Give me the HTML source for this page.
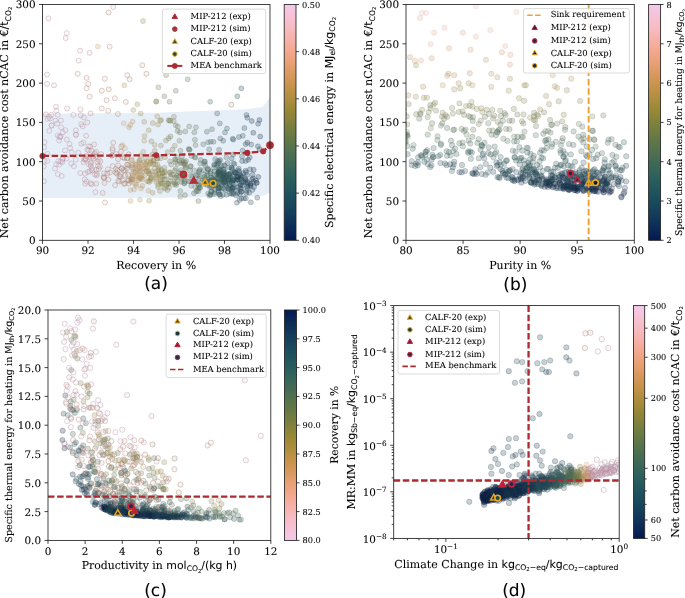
<!DOCTYPE html><html><head><meta charset="utf-8"><style>html,body{margin:0;padding:0;background:#fff;}svg{display:block} text{text-rendering:geometricPrecision;stroke:#000;stroke-width:0.22px;stroke-opacity:0.3}</style></head><body><svg width="685" height="598" viewBox="0 0 685 598"><style>.k0{fill:#294d56;fill-opacity:0.25;stroke:#294d56;stroke-opacity:0.25}.k1{fill:#657452;fill-opacity:0.25;stroke:#657452;stroke-opacity:0.25}.k2{fill:#3a5c58;fill-opacity:0.25;stroke:#3a5c58;stroke-opacity:0.25}.k3{fill:#355958;fill-opacity:0.25;stroke:#355958;stroke-opacity:0.25}.k4{fill:#6b7651;fill-opacity:0.25;stroke:#6b7651;stroke-opacity:0.25}.k5{fill:#c89c73;fill-opacity:0.12;stroke:#a17a73;stroke-opacity:0.40}.k6{fill:#516b56;fill-opacity:0.25;stroke:#516b56;stroke-opacity:0.25}.k7{fill:#737a50;fill-opacity:0.25;stroke:#737a50;stroke-opacity:0.25}.k8{fill:#e0ab96;fill-opacity:0.12;stroke:#ab8081;stroke-opacity:0.40}.k9{fill:#254854;fill-opacity:0.25;stroke:#254854;stroke-opacity:0.25}.k10{fill:#456459;fill-opacity:0.25;stroke:#456459;stroke-opacity:0.25}.k11{fill:#bb9663;fill-opacity:0.25;stroke:#bb9663;stroke-opacity:0.25}.k12{fill:#2c5158;fill-opacity:0.25;stroke:#2c5158;stroke-opacity:0.25}.k13{fill:#203f51;fill-opacity:0.25;stroke:#203f51;stroke-opacity:0.25}.k14{fill:#e4b3a8;fill-opacity:0.12;stroke:#ac8488;stroke-opacity:0.40}.k15{fill:#bb9663;fill-opacity:0.12;stroke:#9c786d;stroke-opacity:0.40}.k16{fill:#e9bcbb;fill-opacity:0.12;stroke:#ae8790;stroke-opacity:0.40}.k17{fill:#ab905a;fill-opacity:0.25;stroke:#ab905a;stroke-opacity:0.25}.k18{fill:#2f5558;fill-opacity:0.25;stroke:#2f5558;stroke-opacity:0.25}.k19{fill:#83804f;fill-opacity:0.25;stroke:#83804f;stroke-opacity:0.25}.k20{fill:#19334c;fill-opacity:0.25;stroke:#19334c;stroke-opacity:0.25}.k21{fill:#ebc8d8;fill-opacity:0.12;stroke:#af8c9b;stroke-opacity:0.40}.k22{fill:#1d394f;fill-opacity:0.25;stroke:#1d394f;stroke-opacity:0.25}.k23{fill:#e7b8b2;fill-opacity:0.12;stroke:#ad868c;stroke-opacity:0.40}.k24{fill:#eccee5;fill-opacity:0.12;stroke:#af8ea1;stroke-opacity:0.40}.k25{fill:#586d55;fill-opacity:0.25;stroke:#586d55;stroke-opacity:0.25}.k26{fill:#e2af9f;fill-opacity:0.12;stroke:#ab8285;stroke-opacity:0.40}.k27{fill:#c89c73;fill-opacity:0.25;stroke:#c89c73;stroke-opacity:0.25}.k28{fill:#7b7d4f;fill-opacity:0.25;stroke:#7b7d4f;stroke-opacity:0.25}.k29{fill:#9b8a51;fill-opacity:0.25;stroke:#9b8a51;stroke-opacity:0.25}.k30{fill:#ebc3ca;fill-opacity:0.12;stroke:#af8a96;stroke-opacity:0.40}.k31{fill:#4a6857;fill-opacity:0.25;stroke:#4a6857;stroke-opacity:0.25}.k32{fill:#dca88d;fill-opacity:0.12;stroke:#a97f7d;stroke-opacity:0.40}.k33{fill:#a38d56;fill-opacity:0.25;stroke:#a38d56;stroke-opacity:0.25}.k34{fill:#ebcbde;fill-opacity:0.12;stroke:#af8d9e;stroke-opacity:0.40}.k35{fill:#234353;fill-opacity:0.25;stroke:#234353;stroke-opacity:0.25}.k36{fill:#93874d;fill-opacity:0.25;stroke:#93874d;stroke-opacity:0.25}.k37{fill:#a38d56;fill-opacity:0.12;stroke:#927467;stroke-opacity:0.40}.k38{fill:#cfa07c;fill-opacity:0.12;stroke:#a47c77;stroke-opacity:0.40}.k39{fill:#8b844e;fill-opacity:0.25;stroke:#8b844e;stroke-opacity:0.25}.k40{fill:#5e7153;fill-opacity:0.25;stroke:#5e7153;stroke-opacity:0.25}.k41{fill:#ebc6d1;fill-opacity:0.12;stroke:#af8b99;stroke-opacity:0.40}.k42{fill:#c2996b;fill-opacity:0.25;stroke:#c2996b;stroke-opacity:0.25}.k43{fill:#ebc0c4;fill-opacity:0.12;stroke:#af8993;stroke-opacity:0.40}.k44{fill:#406058;fill-opacity:0.25;stroke:#406058;stroke-opacity:0.25}.k45{fill:#162d49;fill-opacity:0.25;stroke:#162d49;stroke-opacity:0.25}.k46{fill:#d6a484;fill-opacity:0.12;stroke:#a77e7a;stroke-opacity:0.40}.k47{fill:#c2996b;fill-opacity:0.12;stroke:#9f7970;stroke-opacity:0.40}.k48{fill:#b3925f;fill-opacity:0.25;stroke:#b3925f;stroke-opacity:0.25}.k49{fill:#cfa07c;fill-opacity:0.25;stroke:#cfa07c;stroke-opacity:0.25}.k50{fill:#93874d;fill-opacity:0.12;stroke:#8c7264;stroke-opacity:0.40}.k51{fill:#ab905a;fill-opacity:0.12;stroke:#957669;stroke-opacity:0.40}.k52{fill:#122647;fill-opacity:0.25;stroke:#122647;stroke-opacity:0.25}.k53{fill:#0e1f43;fill-opacity:0.25;stroke:#0e1f43;stroke-opacity:0.25}.k54{fill:#b3925f;fill-opacity:0.12;stroke:#99766b;stroke-opacity:0.40}.k55{fill:#1d394f;fill-opacity:0.23;stroke:#1d394f;stroke-opacity:0.23}.k56{fill:#254854;fill-opacity:0.23;stroke:#254854;stroke-opacity:0.23}.k57{fill:#19334c;fill-opacity:0.23;stroke:#19334c;stroke-opacity:0.23}.k58{fill:#203f51;fill-opacity:0.23;stroke:#203f51;stroke-opacity:0.23}.k59{fill:#234353;fill-opacity:0.23;stroke:#234353;stroke-opacity:0.23}.k60{fill:#406058;fill-opacity:0.23;stroke:#406058;stroke-opacity:0.23}.k61{fill:#7b7d4f;fill-opacity:0.23;stroke:#7b7d4f;stroke-opacity:0.23}.k62{fill:#737a50;fill-opacity:0.23;stroke:#737a50;stroke-opacity:0.23}.k63{fill:#a38d56;fill-opacity:0.23;stroke:#a38d56;stroke-opacity:0.23}.k64{fill:#162d49;fill-opacity:0.23;stroke:#162d49;stroke-opacity:0.23}.k65{fill:#294d56;fill-opacity:0.23;stroke:#294d56;stroke-opacity:0.23}.k66{fill:#e9bcbb;fill-opacity:0.23;stroke:#e9bcbb;stroke-opacity:0.23}.k67{fill:#83804f;fill-opacity:0.23;stroke:#83804f;stroke-opacity:0.23}.k68{fill:#2c5158;fill-opacity:0.23;stroke:#2c5158;stroke-opacity:0.23}.k69{fill:#6b7651;fill-opacity:0.23;stroke:#6b7651;stroke-opacity:0.23}.k70{fill:#456459;fill-opacity:0.23;stroke:#456459;stroke-opacity:0.23}.k71{fill:#0a1941;fill-opacity:0.23;stroke:#0a1941;stroke-opacity:0.23}.k72{fill:#ab905a;fill-opacity:0.23;stroke:#ab905a;stroke-opacity:0.23}.k73{fill:#3a5c58;fill-opacity:0.23;stroke:#3a5c58;stroke-opacity:0.23}.k74{fill:#e7b8b2;fill-opacity:0.23;stroke:#e7b8b2;stroke-opacity:0.23}.k75{fill:#586d55;fill-opacity:0.23;stroke:#586d55;stroke-opacity:0.23}.k76{fill:#9b8a51;fill-opacity:0.23;stroke:#9b8a51;stroke-opacity:0.23}.k77{fill:#657452;fill-opacity:0.23;stroke:#657452;stroke-opacity:0.23}.k78{fill:#2f5558;fill-opacity:0.23;stroke:#2f5558;stroke-opacity:0.23}.k79{fill:#5e7153;fill-opacity:0.23;stroke:#5e7153;stroke-opacity:0.23}.k80{fill:#0e1f43;fill-opacity:0.23;stroke:#0e1f43;stroke-opacity:0.23}.k81{fill:#355958;fill-opacity:0.23;stroke:#355958;stroke-opacity:0.23}.k82{fill:#516b56;fill-opacity:0.23;stroke:#516b56;stroke-opacity:0.23}.k83{fill:#122647;fill-opacity:0.23;stroke:#122647;stroke-opacity:0.23}.k84{fill:#4a6857;fill-opacity:0.23;stroke:#4a6857;stroke-opacity:0.23}.k85{fill:#e2af9f;fill-opacity:0.23;stroke:#e2af9f;stroke-opacity:0.23}.k86{fill:#cfa07c;fill-opacity:0.23;stroke:#cfa07c;stroke-opacity:0.23}.k87{fill:#8b844e;fill-opacity:0.23;stroke:#8b844e;stroke-opacity:0.23}.k88{fill:#93874d;fill-opacity:0.23;stroke:#93874d;stroke-opacity:0.23}.k89{fill:#c89c73;fill-opacity:0.23;stroke:#c89c73;stroke-opacity:0.23}.k90{fill:#b3925f;fill-opacity:0.23;stroke:#b3925f;stroke-opacity:0.23}.k91{fill:#bb9663;fill-opacity:0.23;stroke:#bb9663;stroke-opacity:0.23}.k92{fill:#c2996b;fill-opacity:0.23;stroke:#c2996b;stroke-opacity:0.23}.k93{fill:#d6a484;fill-opacity:0.23;stroke:#d6a484;stroke-opacity:0.23}.k94{fill:#e0ab96;fill-opacity:0.23;stroke:#e0ab96;stroke-opacity:0.23}.k95{fill:#dca88d;fill-opacity:0.23;stroke:#dca88d;stroke-opacity:0.23}.k96{fill:#0a1941;fill-opacity:0.25;stroke:#0a1941;stroke-opacity:0.25}.k97{fill:#83804f;fill-opacity:0.12;stroke:#856f65;stroke-opacity:0.40}.k98{fill:#9b8a51;fill-opacity:0.12;stroke:#8f7365;stroke-opacity:0.40}.k99{fill:#657452;fill-opacity:0.12;stroke:#796a66;stroke-opacity:0.40}.k100{fill:#8b844e;fill-opacity:0.12;stroke:#897164;stroke-opacity:0.40}.k101{fill:#5e7153;fill-opacity:0.12;stroke:#776966;stroke-opacity:0.40}.k102{fill:#7b7d4f;fill-opacity:0.12;stroke:#826e65;stroke-opacity:0.40}.k103{fill:#6b7651;fill-opacity:0.12;stroke:#7c6b65;stroke-opacity:0.40}.k104{fill:#737a50;fill-opacity:0.12;stroke:#7f6d65;stroke-opacity:0.40}.k105{fill:#d6a484;fill-opacity:0.25;stroke:#d6a484;stroke-opacity:0.25}</style><rect width="685" height="598" fill="#fff"/><path d="M42.5 113.8 L46.4 113.8 L50.2 113.7 L54.1 113.7 L57.9 113.6 L61.8 113.6 L65.6 113.6 L69.5 113.5 L73.3 113.5 L77.2 113.5 L81.1 113.4 L84.9 113.4 L88.8 113.4 L92.6 113.3 L96.5 113.3 L100.3 113.3 L104.2 113.2 L108.1 113.2 L111.9 113.1 L115.8 113.1 L119.6 113.1 L123.5 113.0 L127.3 113.0 L131.2 113.0 L135.0 112.9 L138.9 112.9 L142.8 112.9 L146.6 112.8 L150.5 112.8 L154.3 112.8 L158.2 112.7 L162.0 112.5 L165.9 112.4 L169.7 112.2 L173.6 112.1 L177.5 111.9 L181.3 111.8 L185.2 111.6 L189.0 111.5 L192.9 111.3 L196.7 111.2 L200.6 111.0 L204.4 110.9 L208.3 110.7 L212.2 110.6 L216.0 110.4 L219.9 110.3 L223.7 110.1 L227.6 110.0 L231.4 109.8 L235.3 109.7 L239.2 109.5 L243.0 109.4 L246.9 109.2 L250.7 108.7 L254.6 108.1 L258.4 107.5 L262.3 107.0 L266.1 102.8 L270.0 97.6 L270.0 192.7 L266.1 194.5 L262.3 195.9 L258.4 196.0 L254.6 196.2 L250.7 196.4 L246.9 196.6 L243.0 196.7 L239.2 196.7 L235.3 196.8 L231.4 196.8 L227.6 196.9 L223.7 196.9 L219.9 197.0 L216.0 197.0 L212.2 197.1 L208.3 197.1 L204.4 197.2 L200.6 197.2 L196.7 197.3 L192.9 197.3 L189.0 197.4 L185.2 197.4 L181.3 197.5 L177.5 197.5 L173.6 197.6 L169.7 197.6 L165.9 197.7 L162.0 197.7 L158.2 197.8 L154.3 197.8 L150.5 197.8 L146.6 197.8 L142.8 197.8 L138.9 197.8 L135.0 197.8 L131.2 197.9 L127.3 197.9 L123.5 197.9 L119.6 197.9 L115.8 197.9 L111.9 197.9 L108.1 197.9 L104.2 197.9 L100.3 198.0 L96.5 198.0 L92.6 198.0 L88.8 198.0 L84.9 198.0 L81.1 198.0 L77.2 198.0 L73.3 198.0 L69.5 198.0 L65.6 198.1 L61.8 198.1 L57.9 198.1 L54.1 198.1 L50.2 198.1 L46.4 198.1 L42.5 198.1Z" fill="#e6eef7"/>
<clipPath id="cpsa"><rect x="42.50" y="4.50" width="227.50" height="235.80"/></clipPath>
<style>.sa circle{r:2.5px;stroke-width:0.9px}</style>
<g class="sa" clip-path="url(#cpsa)"><circle class="k0" cx="228.6" cy="178.8"/><circle class="k1" cx="190.7" cy="166.2"/><circle class="k2" cx="219.1" cy="149.7"/><circle class="k3" cx="211.8" cy="177.8"/><circle class="k4" cx="180.8" cy="162.9"/><circle class="k5" cx="127.2" cy="157.8"/><circle class="k6" cx="192.5" cy="176.2"/><circle class="k7" cx="162.0" cy="182.8"/><circle class="k8" cx="108.2" cy="110.8"/><circle class="k9" cx="233.3" cy="139.6"/><circle class="k10" cx="198.8" cy="184.6"/><circle class="k11" cx="141.0" cy="188.5"/><circle class="k12" cx="223.1" cy="176.5"/><circle class="k10" cx="189.1" cy="149.6"/><circle class="k1" cx="183.8" cy="175.2"/><circle class="k13" cx="240.2" cy="188.9"/><circle class="k0" cx="245.4" cy="182.4"/><circle class="k14" cx="48.4" cy="18.4"/><circle class="k15" cx="108.8" cy="89.3"/><circle class="k16" cx="87.3" cy="149.7"/><circle class="k17" cx="150.3" cy="162.6"/><circle class="k4" cx="183.7" cy="161.6"/><circle class="k16" cx="84.2" cy="159.4"/><circle class="k13" cx="238.1" cy="176.8"/><circle class="k17" cx="132.1" cy="173.4"/><circle class="k18" cx="222.4" cy="183.0"/><circle class="k5" cx="128.7" cy="154.3"/><circle class="k12" cx="223.3" cy="179.7"/><circle class="k19" cx="167.8" cy="183.8"/><circle class="k20" cx="241.9" cy="176.6"/><circle class="k21" cx="55.4" cy="120.7"/><circle class="k12" cx="223.9" cy="174.8"/><circle class="k19" cx="168.7" cy="120.1"/><circle class="k22" cx="258.1" cy="123.7"/><circle class="k9" cx="230.5" cy="188.4"/><circle class="k6" cx="195.9" cy="175.2"/><circle class="k23" cx="86.6" cy="88.3"/><circle class="k19" cx="148.8" cy="173.3"/><circle class="k18" cx="221.4" cy="165.9"/><circle class="k10" cx="211.8" cy="187.4"/><circle class="k24" cx="47.5" cy="153.8"/><circle class="k24" cx="69.5" cy="144.0"/><circle class="k3" cx="224.3" cy="165.2"/><circle class="k16" cx="83.9" cy="117.4"/><circle class="k0" cx="232.0" cy="188.1"/><circle class="k12" cx="224.0" cy="172.6"/><circle class="k22" cx="240.7" cy="185.3"/><circle class="k24" cx="51.6" cy="125.7"/><circle class="k2" cx="218.4" cy="172.3"/><circle class="k24" cx="55.0" cy="168.5"/><circle class="k7" cx="169.3" cy="120.7"/><circle class="k25" cx="194.9" cy="139.7"/><circle class="k26" cx="104.0" cy="177.9"/><circle class="k27" cx="136.3" cy="186.1"/><circle class="k28" cx="173.8" cy="121.3"/><circle class="k29" cx="133.1" cy="179.4"/><circle class="k11" cx="141.7" cy="175.4"/><circle class="k7" cx="170.0" cy="161.4"/><circle class="k30" cx="66.7" cy="33.1"/><circle class="k21" cx="56.4" cy="110.8"/><circle class="k9" cx="237.9" cy="180.0"/><circle class="k2" cx="218.5" cy="169.7"/><circle class="k5" cx="125.0" cy="170.4"/><circle class="k31" cx="196.2" cy="191.5"/><circle class="k3" cx="219.1" cy="170.3"/><circle class="k32" cx="86.6" cy="77.9"/><circle class="k31" cx="200.1" cy="187.9"/><circle class="k0" cx="233.7" cy="174.6"/><circle class="k10" cx="200.8" cy="160.0"/><circle class="k33" cx="157.2" cy="116.3"/><circle class="k34" cx="63.0" cy="158.5"/><circle class="k18" cx="220.3" cy="138.4"/><circle class="k35" cx="243.1" cy="185.3"/><circle class="k36" cx="137.3" cy="104.3"/><circle class="k37" cx="132.3" cy="165.0"/><circle class="k38" cx="107.3" cy="173.4"/><circle class="k7" cx="185.1" cy="176.6"/><circle class="k1" cx="179.9" cy="132.4"/><circle class="k24" cx="50.1" cy="118.5"/><circle class="k39" cx="158.0" cy="187.1"/><circle class="k40" cx="194.4" cy="170.6"/><circle class="k12" cx="232.0" cy="192.3"/><circle class="k16" cx="82.7" cy="126.2"/><circle class="k36" cx="158.0" cy="124.6"/><circle class="k33" cx="142.4" cy="185.8"/><circle class="k41" cx="70.1" cy="148.0"/><circle class="k12" cx="224.2" cy="169.5"/><circle class="k32" cx="112.6" cy="150.1"/><circle class="k24" cx="56.2" cy="164.2"/><circle class="k39" cx="160.3" cy="158.4"/><circle class="k18" cx="229.2" cy="174.6"/><circle class="k3" cx="220.3" cy="160.1"/><circle class="k0" cx="229.9" cy="179.4"/><circle class="k26" cx="109.6" cy="46.7"/><circle class="k13" cx="245.5" cy="179.5"/><circle class="k10" cx="197.8" cy="175.3"/><circle class="k1" cx="195.5" cy="145.1"/><circle class="k10" cx="199.0" cy="172.0"/><circle class="k11" cx="139.9" cy="199.7"/><circle class="k8" cx="104.0" cy="177.9"/><circle class="k1" cx="188.9" cy="181.3"/><circle class="k42" cx="140.5" cy="178.9"/><circle class="k11" cx="130.5" cy="200.9"/><circle class="k7" cx="168.6" cy="138.3"/><circle class="k42" cx="137.3" cy="174.1"/><circle class="k5" cx="121.3" cy="146.5"/><circle class="k10" cx="205.3" cy="165.1"/><circle class="k17" cx="156.2" cy="181.9"/><circle class="k18" cx="233.9" cy="178.6"/><circle class="k31" cx="204.8" cy="161.5"/><circle class="k3" cx="228.2" cy="188.6"/><circle class="k25" cx="194.7" cy="157.1"/><circle class="k6" cx="198.9" cy="178.6"/><circle class="k42" cx="132.1" cy="160.1"/><circle class="k34" cx="65.5" cy="130.2"/><circle class="k21" cx="75.9" cy="134.6"/><circle class="k41" cx="66.8" cy="139.5"/><circle class="k43" cx="95.4" cy="192.1"/><circle class="k44" cx="208.6" cy="179.5"/><circle class="k45" cx="250.9" cy="183.4"/><circle class="k6" cx="198.4" cy="201.1"/><circle class="k12" cx="223.2" cy="140.8"/><circle class="k14" cx="98.0" cy="166.1"/><circle class="k27" cx="136.2" cy="176.2"/><circle class="k11" cx="130.5" cy="190.1"/><circle class="k36" cx="157.4" cy="164.5"/><circle class="k40" cx="175.7" cy="90.7"/><circle class="k17" cx="135.6" cy="164.8"/><circle class="k28" cx="162.2" cy="176.6"/><circle class="k0" cx="231.7" cy="158.4"/><circle class="k24" cx="47.3" cy="161.0"/><circle class="k26" cx="54.0" cy="85.3"/><circle class="k2" cx="221.5" cy="179.7"/><circle class="k14" cx="90.9" cy="166.0"/><circle class="k30" cx="57.7" cy="114.8"/><circle class="k2" cx="218.5" cy="192.5"/><circle class="k18" cx="229.2" cy="167.5"/><circle class="k7" cx="170.5" cy="136.4"/><circle class="k14" cx="100.0" cy="166.7"/><circle class="k6" cx="185.0" cy="195.1"/><circle class="k45" cx="253.3" cy="132.8"/><circle class="k11" cx="150.7" cy="163.4"/><circle class="k2" cx="214.7" cy="189.7"/><circle class="k18" cx="223.0" cy="182.0"/><circle class="k2" cx="218.2" cy="172.1"/><circle class="k36" cx="174.7" cy="145.7"/><circle class="k25" cx="191.2" cy="185.7"/><circle class="k23" cx="94.6" cy="154.1"/><circle class="k14" cx="97.4" cy="161.9"/><circle class="k23" cx="89.6" cy="156.8"/><circle class="k16" cx="78.7" cy="60.6"/><circle class="k12" cx="228.9" cy="179.8"/><circle class="k44" cx="208.1" cy="142.2"/><circle class="k46" cx="117.4" cy="170.7"/><circle class="k3" cx="226.9" cy="128.5"/><circle class="k44" cx="219.9" cy="174.1"/><circle class="k31" cx="206.7" cy="181.4"/><circle class="k17" cx="131.2" cy="179.5"/><circle class="k47" cx="142.3" cy="65.2"/><circle class="k10" cx="210.2" cy="180.6"/><circle class="k19" cx="158.6" cy="169.8"/><circle class="k36" cx="152.1" cy="171.4"/><circle class="k24" cx="47.6" cy="118.9"/><circle class="k9" cx="239.6" cy="178.8"/><circle class="k39" cx="160.7" cy="179.8"/><circle class="k15" cx="127.0" cy="168.6"/><circle class="k16" cx="94.0" cy="144.4"/><circle class="k9" cx="239.4" cy="200.1"/><circle class="k13" cx="251.9" cy="179.5"/><circle class="k44" cx="224.3" cy="165.5"/><circle class="k3" cx="219.1" cy="188.6"/><circle class="k25" cx="190.5" cy="166.3"/><circle class="k12" cx="229.8" cy="175.9"/><circle class="k28" cx="177.3" cy="157.2"/><circle class="k1" cx="176.1" cy="185.1"/><circle class="k17" cx="140.1" cy="177.6"/><circle class="k36" cx="148.4" cy="171.2"/><circle class="k4" cx="178.8" cy="172.4"/><circle class="k48" cx="151.3" cy="177.4"/><circle class="k10" cx="215.0" cy="184.9"/><circle class="k3" cx="226.6" cy="194.9"/><circle class="k2" cx="217.6" cy="185.3"/><circle class="k20" cx="245.5" cy="170.7"/><circle class="k10" cx="205.4" cy="179.3"/><circle class="k28" cx="163.9" cy="187.7"/><circle class="k43" cx="91.8" cy="168.9"/><circle class="k0" cx="234.6" cy="171.9"/><circle class="k12" cx="230.1" cy="185.3"/><circle class="k9" cx="239.2" cy="171.3"/><circle class="k24" cx="43.5" cy="166.5"/><circle class="k4" cx="183.0" cy="163.4"/><circle class="k48" cx="142.5" cy="179.2"/><circle class="k9" cx="238.8" cy="168.6"/><circle class="k48" cx="135.6" cy="172.1"/><circle class="k35" cx="246.3" cy="193.1"/><circle class="k47" cx="119.4" cy="176.1"/><circle class="k1" cx="176.2" cy="177.6"/><circle class="k3" cx="207.6" cy="174.4"/><circle class="k3" cx="217.5" cy="163.7"/><circle class="k32" cx="127.3" cy="75.2"/><circle class="k41" cx="83.5" cy="142.6"/><circle class="k11" cx="137.9" cy="168.8"/><circle class="k5" cx="121.8" cy="168.6"/><circle class="k29" cx="164.6" cy="171.3"/><circle class="k11" cx="139.2" cy="177.1"/><circle class="k28" cx="168.9" cy="183.5"/><circle class="k12" cx="232.5" cy="188.1"/><circle class="k20" cx="247.3" cy="142.6"/><circle class="k35" cx="247.8" cy="183.4"/><circle class="k14" cx="96.1" cy="169.7"/><circle class="k38" cx="119.3" cy="181.5"/><circle class="k3" cx="226.7" cy="174.7"/><circle class="k18" cx="223.9" cy="171.8"/><circle class="k10" cx="201.0" cy="182.8"/><circle class="k23" cx="98.7" cy="159.9"/><circle class="k24" cx="59.2" cy="164.7"/><circle class="k14" cx="101.1" cy="154.1"/><circle class="k23" cx="90.1" cy="146.6"/><circle class="k10" cx="210.7" cy="194.9"/><circle class="k3" cx="228.4" cy="174.0"/><circle class="k4" cx="164.4" cy="96.3"/><circle class="k17" cx="141.5" cy="177.8"/><circle class="k4" cx="180.3" cy="191.1"/><circle class="k10" cx="214.6" cy="171.2"/><circle class="k48" cx="139.3" cy="166.7"/><circle class="k11" cx="134.0" cy="189.6"/><circle class="k1" cx="189.2" cy="126.5"/><circle class="k7" cx="177.6" cy="164.0"/><circle class="k0" cx="241.2" cy="177.7"/><circle class="k10" cx="207.1" cy="184.9"/><circle class="k10" cx="210.8" cy="141.8"/><circle class="k28" cx="173.9" cy="116.7"/><circle class="k3" cx="225.1" cy="179.2"/><circle class="k43" cx="80.3" cy="173.1"/><circle class="k21" cx="78.3" cy="152.7"/><circle class="k12" cx="211.5" cy="184.0"/><circle class="k33" cx="136.0" cy="184.3"/><circle class="k48" cx="131.3" cy="160.0"/><circle class="k18" cx="218.6" cy="188.1"/><circle class="k24" cx="57.7" cy="135.3"/><circle class="k18" cx="221.3" cy="173.7"/><circle class="k31" cx="203.0" cy="180.1"/><circle class="k8" cx="118.1" cy="180.7"/><circle class="k43" cx="90.7" cy="163.6"/><circle class="k11" cx="132.7" cy="121.6"/><circle class="k9" cx="234.1" cy="180.0"/><circle class="k39" cx="152.2" cy="154.7"/><circle class="k3" cx="217.1" cy="173.6"/><circle class="k10" cx="199.3" cy="170.7"/><circle class="k36" cx="144.4" cy="162.3"/><circle class="k23" cx="51.4" cy="114.8"/><circle class="k36" cx="140.7" cy="113.4"/><circle class="k9" cx="238.9" cy="137.0"/><circle class="k35" cx="236.4" cy="177.0"/><circle class="k9" cx="237.3" cy="96.3"/><circle class="k40" cx="197.2" cy="190.2"/><circle class="k36" cx="161.2" cy="183.6"/><circle class="k2" cx="232.3" cy="179.9"/><circle class="k14" cx="87.1" cy="156.8"/><circle class="k38" cx="124.9" cy="183.5"/><circle class="k49" cx="135.6" cy="164.6"/><circle class="k10" cx="199.7" cy="176.7"/><circle class="k12" cx="220.6" cy="169.6"/><circle class="k9" cx="239.8" cy="194.2"/><circle class="k16" cx="85.1" cy="159.8"/><circle class="k33" cx="150.7" cy="174.0"/><circle class="k24" cx="44.5" cy="142.2"/><circle class="k6" cx="187.7" cy="79.3"/><circle class="k42" cx="130.9" cy="178.5"/><circle class="k40" cx="182.3" cy="173.5"/><circle class="k12" cx="223.9" cy="176.7"/><circle class="k24" cx="59.1" cy="140.5"/><circle class="k44" cx="210.8" cy="180.9"/><circle class="k27" cx="122.6" cy="145.1"/><circle class="k9" cx="240.5" cy="184.7"/><circle class="k17" cx="149.4" cy="173.7"/><circle class="k20" cx="254.0" cy="187.0"/><circle class="k34" cx="59.5" cy="136.6"/><circle class="k25" cx="191.7" cy="156.1"/><circle class="k3" cx="219.5" cy="176.0"/><circle class="k16" cx="81.4" cy="143.7"/><circle class="k29" cx="149.1" cy="200.7"/><circle class="k31" cx="206.7" cy="175.5"/><circle class="k14" cx="80.5" cy="109.4"/><circle class="k2" cx="210.0" cy="185.5"/><circle class="k11" cx="137.3" cy="170.7"/><circle class="k40" cx="185.3" cy="162.7"/><circle class="k13" cx="250.4" cy="184.5"/><circle class="k9" cx="238.0" cy="170.4"/><circle class="k4" cx="185.8" cy="168.0"/><circle class="k35" cx="251.2" cy="144.6"/><circle class="k39" cx="167.7" cy="152.1"/><circle class="k3" cx="218.1" cy="188.0"/><circle class="k8" cx="104.5" cy="183.0"/><circle class="k39" cx="156.0" cy="174.7"/><circle class="k24" cx="44.1" cy="147.3"/><circle class="k3" cx="214.5" cy="181.3"/><circle class="k17" cx="143.9" cy="167.9"/><circle class="k33" cx="156.5" cy="179.7"/><circle class="k13" cx="242.1" cy="161.1"/><circle class="k32" cx="114.8" cy="98.3"/><circle class="k33" cx="144.6" cy="135.9"/><circle class="k12" cx="234.6" cy="172.5"/><circle class="k35" cx="231.9" cy="193.9"/><circle class="k24" cx="44.0" cy="181.2"/><circle class="k23" cx="83.5" cy="162.3"/><circle class="k35" cx="237.9" cy="187.1"/><circle class="k36" cx="162.4" cy="173.2"/><circle class="k28" cx="179.4" cy="140.8"/><circle class="k12" cx="227.5" cy="163.0"/><circle class="k17" cx="139.3" cy="167.6"/><circle class="k46" cx="112.5" cy="148.3"/><circle class="k48" cx="147.0" cy="168.3"/><circle class="k31" cx="199.6" cy="187.3"/><circle class="k19" cx="167.5" cy="190.1"/><circle class="k38" cx="110.1" cy="172.5"/><circle class="k35" cx="256.5" cy="182.9"/><circle class="k11" cx="138.7" cy="178.7"/><circle class="k1" cx="195.9" cy="127.3"/><circle class="k6" cx="204.5" cy="177.1"/><circle class="k6" cx="203.2" cy="144.3"/><circle class="k12" cx="221.3" cy="179.8"/><circle class="k16" cx="86.2" cy="156.1"/><circle class="k2" cx="215.2" cy="181.1"/><circle class="k12" cx="224.9" cy="176.9"/><circle class="k35" cx="247.6" cy="152.7"/><circle class="k30" cx="71.3" cy="163.5"/><circle class="k18" cx="214.0" cy="177.2"/><circle class="k40" cx="185.3" cy="131.4"/><circle class="k32" cx="106.6" cy="100.3"/><circle class="k50" cx="231.3" cy="104.7"/><circle class="k31" cx="208.1" cy="193.4"/><circle class="k35" cx="257.3" cy="197.7"/><circle class="k1" cx="175.4" cy="162.3"/><circle class="k18" cx="218.2" cy="174.0"/><circle class="k15" cx="121.0" cy="151.7"/><circle class="k44" cx="220.6" cy="179.9"/><circle class="k7" cx="169.2" cy="187.6"/><circle class="k11" cx="131.1" cy="181.8"/><circle class="k28" cx="165.9" cy="140.6"/><circle class="k12" cx="225.7" cy="181.3"/><circle class="k21" cx="73.4" cy="114.8"/><circle class="k26" cx="91.0" cy="162.4"/><circle class="k1" cx="181.0" cy="170.0"/><circle class="k39" cx="143.0" cy="21.1"/><circle class="k13" cx="245.9" cy="198.4"/><circle class="k18" cx="223.6" cy="170.1"/><circle class="k48" cx="150.7" cy="158.4"/><circle class="k12" cx="234.5" cy="164.0"/><circle class="k4" cx="185.8" cy="167.2"/><circle class="k3" cx="223.7" cy="177.6"/><circle class="k18" cx="219.7" cy="194.6"/><circle class="k41" cx="66.5" cy="158.4"/><circle class="k3" cx="230.0" cy="193.4"/><circle class="k3" cx="214.5" cy="194.0"/><circle class="k17" cx="124.3" cy="85.3"/><circle class="k23" cx="92.2" cy="170.4"/><circle class="k2" cx="218.8" cy="163.0"/><circle class="k29" cx="152.8" cy="123.0"/><circle class="k9" cx="233.6" cy="184.5"/><circle class="k18" cx="216.6" cy="165.0"/><circle class="k40" cx="184.2" cy="182.9"/><circle class="k0" cx="231.7" cy="168.6"/><circle class="k32" cx="112.7" cy="166.1"/><circle class="k24" cx="61.0" cy="120.5"/><circle class="k44" cx="204.7" cy="179.9"/><circle class="k47" cx="122.9" cy="157.3"/><circle class="k19" cx="160.9" cy="145.6"/><circle class="k7" cx="175.5" cy="177.3"/><circle class="k40" cx="200.2" cy="163.4"/><circle class="k2" cx="218.9" cy="177.9"/><circle class="k10" cx="212.0" cy="129.2"/><circle class="k21" cx="75.9" cy="130.3"/><circle class="k7" cx="170.4" cy="120.7"/><circle class="k21" cx="49.3" cy="130.8"/><circle class="k3" cx="225.0" cy="132.4"/><circle class="k11" cx="145.3" cy="163.8"/><circle class="k10" cx="210.0" cy="187.2"/><circle class="k5" cx="124.4" cy="158.0"/><circle class="k36" cx="158.0" cy="170.1"/><circle class="k44" cx="218.0" cy="178.3"/><circle class="k39" cx="161.0" cy="176.9"/><circle class="k35" cx="244.4" cy="128.1"/><circle class="k17" cx="146.1" cy="171.0"/><circle class="k47" cx="108.6" cy="12.4"/><circle class="k9" cx="242.0" cy="182.5"/><circle class="k0" cx="242.8" cy="135.8"/><circle class="k19" cx="166.6" cy="185.3"/><circle class="k45" cx="245.9" cy="180.4"/><circle class="k14" cx="91.6" cy="184.3"/><circle class="k39" cx="154.7" cy="150.8"/><circle class="k10" cx="208.2" cy="169.7"/><circle class="k7" cx="185.1" cy="165.5"/><circle class="k29" cx="145.4" cy="157.9"/><circle class="k9" cx="236.1" cy="195.5"/><circle class="k5" cx="120.4" cy="176.7"/><circle class="k44" cx="216.1" cy="178.8"/><circle class="k9" cx="245.7" cy="144.2"/><circle class="k17" cx="154.5" cy="168.2"/><circle class="k48" cx="129.7" cy="165.8"/><circle class="k31" cx="210.9" cy="177.6"/><circle class="k3" cx="218.9" cy="175.1"/><circle class="k29" cx="133.3" cy="110.0"/><circle class="k38" cx="122.4" cy="180.6"/><circle class="k32" cx="120.6" cy="174.6"/><circle class="k19" cx="170.7" cy="181.0"/><circle class="k28" cx="168.2" cy="183.7"/><circle class="k6" cx="195.4" cy="157.6"/><circle class="k17" cx="147.3" cy="166.9"/><circle class="k6" cx="184.5" cy="181.3"/><circle class="k35" cx="247.0" cy="186.4"/><circle class="k10" cx="210.2" cy="173.3"/><circle class="k35" cx="232.9" cy="188.3"/><circle class="k44" cx="213.0" cy="185.9"/><circle class="k48" cx="145.0" cy="168.6"/><circle class="k4" cx="188.7" cy="148.8"/><circle class="k2" cx="217.6" cy="160.9"/><circle class="k9" cx="246.1" cy="172.3"/><circle class="k7" cx="186.0" cy="161.0"/><circle class="k16" cx="85.2" cy="183.7"/><circle class="k10" cx="227.7" cy="187.8"/><circle class="k4" cx="184.4" cy="164.1"/><circle class="k5" cx="116.8" cy="173.5"/><circle class="k29" cx="152.6" cy="192.7"/><circle class="k18" cx="218.8" cy="190.8"/><circle class="k17" cx="156.2" cy="177.5"/><circle class="k38" cx="112.0" cy="155.5"/><circle class="k51" cx="132.3" cy="179.3"/><circle class="k2" cx="220.3" cy="182.3"/><circle class="k1" cx="169.5" cy="101.7"/><circle class="k27" cx="97.8" cy="46.5"/><circle class="k52" cx="250.6" cy="185.8"/><circle class="k0" cx="244.9" cy="177.9"/><circle class="k7" cx="174.8" cy="170.5"/><circle class="k17" cx="144.2" cy="140.7"/><circle class="k23" cx="80.1" cy="50.6"/><circle class="k6" cx="209.4" cy="195.7"/><circle class="k24" cx="61.1" cy="127.3"/><circle class="k23" cx="56.0" cy="106.7"/><circle class="k4" cx="180.4" cy="150.6"/><circle class="k43" cx="88.9" cy="164.4"/><circle class="k13" cx="249.2" cy="192.7"/><circle class="k35" cx="245.7" cy="161.1"/><circle class="k1" cx="181.2" cy="181.9"/><circle class="k33" cx="138.4" cy="180.4"/><circle class="k33" cx="144.2" cy="121.8"/><circle class="k22" cx="241.3" cy="188.7"/><circle class="k31" cx="193.9" cy="193.2"/><circle class="k44" cx="226.4" cy="157.3"/><circle class="k9" cx="239.2" cy="183.8"/><circle class="k44" cx="220.7" cy="196.3"/><circle class="k33" cx="155.4" cy="172.0"/><circle class="k6" cx="198.4" cy="191.3"/><circle class="k24" cx="51.6" cy="125.2"/><circle class="k2" cx="218.7" cy="173.0"/><circle class="k4" cx="173.9" cy="182.2"/><circle class="k9" cx="236.9" cy="202.7"/><circle class="k45" cx="252.8" cy="178.3"/><circle class="k21" cx="60.7" cy="161.5"/><circle class="k35" cx="243.2" cy="173.2"/><circle class="k8" cx="100.3" cy="161.3"/><circle class="k18" cx="230.6" cy="174.0"/><circle class="k8" cx="102.7" cy="192.9"/><circle class="k30" cx="75.8" cy="159.7"/><circle class="k5" cx="128.1" cy="164.8"/><circle class="k46" cx="125.9" cy="101.9"/><circle class="k36" cx="158.8" cy="174.5"/><circle class="k8" cx="77.7" cy="73.8"/><circle class="k39" cx="161.1" cy="120.0"/><circle class="k39" cx="148.3" cy="181.1"/><circle class="k48" cx="128.9" cy="127.3"/><circle class="k36" cx="150.9" cy="180.0"/><circle class="k2" cx="209.9" cy="181.5"/><circle class="k18" cx="229.2" cy="189.2"/><circle class="k35" cx="247.5" cy="182.0"/><circle class="k3" cx="220.2" cy="187.3"/><circle class="k6" cx="195.7" cy="181.5"/><circle class="k12" cx="224.4" cy="189.0"/><circle class="k12" cx="232.6" cy="180.4"/><circle class="k31" cx="199.9" cy="169.5"/><circle class="k3" cx="214.5" cy="180.4"/><circle class="k40" cx="182.0" cy="156.6"/><circle class="k40" cx="189.8" cy="170.6"/><circle class="k45" cx="251.8" cy="121.1"/><circle class="k44" cx="208.2" cy="169.2"/><circle class="k2" cx="210.2" cy="101.7"/><circle class="k32" cx="113.2" cy="142.7"/><circle class="k11" cx="148.4" cy="190.7"/><circle class="k16" cx="86.2" cy="135.8"/><circle class="k35" cx="241.3" cy="88.3"/><circle class="k4" cx="177.8" cy="126.5"/><circle class="k3" cx="219.4" cy="168.2"/><circle class="k44" cx="214.2" cy="174.9"/><circle class="k47" cx="128.9" cy="180.5"/><circle class="k3" cx="223.9" cy="178.9"/><circle class="k4" cx="161.4" cy="169.8"/><circle class="k25" cx="203.9" cy="163.4"/><circle class="k10" cx="204.1" cy="174.3"/><circle class="k2" cx="204.8" cy="184.0"/><circle class="k28" cx="175.3" cy="183.2"/><circle class="k22" cx="241.2" cy="191.5"/><circle class="k40" cx="182.8" cy="176.4"/><circle class="k0" cx="242.6" cy="150.6"/><circle class="k8" cx="96.7" cy="175.3"/><circle class="k35" cx="255.9" cy="180.2"/><circle class="k30" cx="86.5" cy="181.5"/><circle class="k12" cx="237.3" cy="179.2"/><circle class="k7" cx="174.9" cy="159.3"/><circle class="k43" cx="81.2" cy="124.2"/><circle class="k47" cx="127.0" cy="164.6"/><circle class="k35" cx="253.7" cy="181.7"/><circle class="k17" cx="133.4" cy="169.1"/><circle class="k12" cx="233.2" cy="154.5"/><circle class="k9" cx="241.3" cy="191.8"/><circle class="k33" cx="150.8" cy="161.2"/><circle class="k18" cx="219.4" cy="174.5"/><circle class="k31" cx="203.7" cy="170.1"/><circle class="k6" cx="190.8" cy="175.8"/><circle class="k24" cx="57.0" cy="123.6"/><circle class="k19" cx="171.2" cy="174.5"/><circle class="k35" cx="246.5" cy="115.0"/><circle class="k24" cx="61.7" cy="176.0"/><circle class="k4" cx="166.1" cy="75.2"/><circle class="k46" cx="116.2" cy="154.0"/><circle class="k13" cx="235.5" cy="173.2"/><circle class="k32" cx="89.6" cy="96.7"/><circle class="k13" cx="241.4" cy="198.4"/><circle class="k10" cx="214.4" cy="165.1"/><circle class="k17" cx="143.2" cy="151.8"/><circle class="k18" cx="229.9" cy="177.8"/><circle class="k17" cx="132.2" cy="177.8"/><circle class="k38" cx="115.9" cy="168.9"/><circle class="k22" cx="247.3" cy="117.8"/><circle class="k26" cx="91.4" cy="150.6"/><circle class="k13" cx="248.7" cy="186.0"/><circle class="k14" cx="93.5" cy="155.7"/><circle class="k0" cx="227.2" cy="183.2"/><circle class="k41" cx="71.7" cy="152.4"/><circle class="k0" cx="238.1" cy="177.1"/><circle class="k40" cx="177.6" cy="130.9"/><circle class="k8" cx="103.7" cy="176.9"/><circle class="k36" cx="162.5" cy="183.7"/><circle class="k26" cx="96.2" cy="183.7"/><circle class="k40" cx="195.2" cy="187.0"/><circle class="k16" cx="89.6" cy="52.8"/><circle class="k24" cx="48.9" cy="116.6"/><circle class="k6" cx="198.4" cy="188.2"/><circle class="k53" cx="259.5" cy="120.0"/><circle class="k34" cx="65.0" cy="150.4"/><circle class="k1" cx="177.0" cy="175.6"/><circle class="k23" cx="89.7" cy="171.4"/><circle class="k38" cx="122.0" cy="168.2"/><circle class="k19" cx="159.3" cy="172.9"/><circle class="k38" cx="123.9" cy="183.8"/><circle class="k35" cx="242.0" cy="156.4"/><circle class="k9" cx="237.5" cy="179.6"/><circle class="k39" cx="170.3" cy="172.4"/><circle class="k3" cx="231.6" cy="190.1"/><circle class="k19" cx="155.3" cy="164.3"/><circle class="k25" cx="194.3" cy="132.3"/><circle class="k30" cx="62.8" cy="132.4"/><circle class="k20" cx="259.7" cy="149.2"/><circle class="k18" cx="222.0" cy="188.6"/><circle class="k27" cx="132.6" cy="175.8"/><circle class="k39" cx="153.5" cy="160.8"/><circle class="k39" cx="157.3" cy="158.2"/><circle class="k39" cx="153.5" cy="160.8"/><circle class="k4" cx="176.8" cy="182.9"/><circle class="k23" cx="93.4" cy="158.4"/><circle class="k48" cx="141.7" cy="166.1"/><circle class="k14" cx="98.9" cy="168.9"/><circle class="k21" cx="73.9" cy="166.2"/><circle class="k36" cx="159.3" cy="167.8"/><circle class="k49" cx="125.0" cy="148.2"/><circle class="k30" cx="84.7" cy="179.4"/><circle class="k35" cx="236.5" cy="190.6"/><circle class="k22" cx="247.2" cy="175.0"/><circle class="k12" cx="231.8" cy="182.5"/><circle class="k10" cx="210.3" cy="182.7"/><circle class="k28" cx="156.4" cy="101.3"/><circle class="k48" cx="139.7" cy="171.2"/><circle class="k25" cx="189.4" cy="181.3"/><circle class="k47" cx="128.7" cy="183.6"/><circle class="k46" cx="111.8" cy="155.6"/><circle class="k33" cx="147.1" cy="171.3"/><circle class="k16" cx="67.1" cy="108.4"/><circle class="k5" cx="101.8" cy="90.7"/><circle class="k12" cx="219.2" cy="161.1"/><circle class="k35" cx="250.8" cy="202.3"/><circle class="k44" cx="206.9" cy="131.7"/><circle class="k33" cx="140.0" cy="160.3"/><circle class="k31" cx="198.8" cy="185.6"/><circle class="k44" cx="204.7" cy="161.7"/><circle class="k36" cx="162.9" cy="172.7"/><circle class="k34" cx="62.2" cy="162.2"/><circle class="k5" cx="118.0" cy="159.2"/><circle class="k5" cx="125.1" cy="175.3"/><circle class="k23" cx="88.7" cy="150.3"/><circle class="k12" cx="216.4" cy="182.8"/><circle class="k4" cx="181.7" cy="160.8"/><circle class="k47" cx="146.4" cy="73.8"/><circle class="k3" cx="214.6" cy="192.3"/><circle class="k49" cx="123.7" cy="123.3"/><circle class="k3" cx="228.3" cy="180.4"/><circle class="k33" cx="139.3" cy="160.3"/><circle class="k18" cx="223.9" cy="178.6"/><circle class="k46" cx="115.1" cy="185.2"/><circle class="k1" cx="180.2" cy="196.6"/><circle class="k33" cx="140.2" cy="155.7"/><circle class="k15" cx="128.2" cy="174.8"/><circle class="k40" cx="175.7" cy="168.8"/><circle class="k13" cx="252.4" cy="190.0"/><circle class="k0" cx="237.5" cy="193.0"/><circle class="k25" cx="180.3" cy="173.5"/><circle class="k39" cx="151.4" cy="178.1"/><circle class="k0" cx="240.9" cy="175.3"/><circle class="k2" cx="214.2" cy="183.3"/><circle class="k18" cx="210.7" cy="171.8"/><circle class="k23" cx="46.0" cy="114.4"/><circle class="k0" cx="231.4" cy="167.8"/><circle class="k36" cx="149.4" cy="182.0"/><circle class="k44" cx="214.0" cy="167.8"/><circle class="k18" cx="232.3" cy="183.3"/><circle class="k18" cx="232.7" cy="138.7"/><circle class="k28" cx="156.0" cy="101.7"/><circle class="k2" cx="219.5" cy="179.2"/><circle class="k47" cx="129.7" cy="79.3"/><circle class="k28" cx="175.7" cy="125.3"/><circle class="k44" cx="209.2" cy="149.3"/><circle class="k5" cx="115.6" cy="172.4"/><circle class="k53" cx="258.3" cy="176.9"/><circle class="k35" cx="235.8" cy="172.8"/><circle class="k9" cx="233.1" cy="180.2"/><circle class="k12" cx="224.1" cy="182.5"/><circle class="k14" cx="80.7" cy="115.3"/><circle class="k16" cx="47.0" cy="74.6"/><circle class="k18" cx="229.3" cy="183.9"/><circle class="k23" cx="87.7" cy="172.0"/><circle class="k28" cx="171.1" cy="164.4"/><circle class="k2" cx="223.5" cy="179.7"/><circle class="k39" cx="151.3" cy="141.3"/><circle class="k20" cx="250.0" cy="169.3"/><circle class="k48" cx="149.5" cy="164.2"/><circle class="k7" cx="178.2" cy="177.4"/><circle class="k3" cx="222.0" cy="185.1"/><circle class="k42" cx="134.7" cy="167.6"/><circle class="k39" cx="164.4" cy="176.1"/><circle class="k44" cx="219.4" cy="187.8"/><circle class="k17" cx="147.2" cy="181.4"/><circle class="k39" cx="158.1" cy="184.9"/><circle class="k23" cx="47.0" cy="83.9"/><circle class="k19" cx="173.0" cy="174.5"/><circle class="k26" cx="113.2" cy="7.0"/><circle class="k11" cx="146.1" cy="164.2"/><circle class="k10" cx="211.6" cy="180.1"/><circle class="k12" cx="219.6" cy="194.3"/><circle class="k10" cx="213.5" cy="141.8"/><circle class="k17" cx="142.2" cy="172.1"/><circle class="k52" cx="260.2" cy="136.5"/><circle class="k2" cx="222.7" cy="194.9"/><circle class="k26" cx="101.8" cy="108.4"/><circle class="k3" cx="217.5" cy="183.7"/><circle class="k2" cx="211.4" cy="191.6"/><circle class="k8" cx="104.0" cy="173.4"/><circle class="k28" cx="164.5" cy="172.6"/><circle class="k26" cx="90.6" cy="113.4"/><circle class="k47" cx="123.6" cy="170.0"/><circle class="k24" cx="58.4" cy="161.2"/><circle class="k16" cx="92.7" cy="156.9"/><circle class="k31" cx="184.4" cy="183.6"/><circle class="k33" cx="146.9" cy="162.0"/><circle class="k22" cx="248.2" cy="159.8"/><circle class="k42" cx="140.5" cy="164.4"/><circle class="k54" cx="132.2" cy="167.6"/><circle class="k0" cx="233.3" cy="163.4"/><circle class="k33" cx="144.4" cy="175.7"/><circle class="k14" cx="87.3" cy="122.5"/><circle class="k8" cx="88.2" cy="83.9"/><circle class="k40" cx="193.2" cy="181.3"/><circle class="k44" cx="219.4" cy="172.2"/><circle class="k52" cx="253.7" cy="169.7"/><circle class="k51" cx="127.2" cy="158.4"/><circle class="k43" cx="94.7" cy="153.3"/><circle class="k7" cx="158.4" cy="87.3"/><circle class="k1" cx="184.4" cy="177.9"/><circle class="k17" cx="156.5" cy="175.7"/><circle class="k7" cx="172.5" cy="149.7"/><circle class="k11" cx="130.3" cy="125.0"/><circle class="k8" cx="90.6" cy="183.2"/><circle class="k18" cx="224.7" cy="175.8"/><circle class="k29" cx="148.7" cy="130.2"/><circle class="k22" cx="249.7" cy="157.3"/><circle class="k45" cx="256.8" cy="182.8"/><circle class="k0" cx="229.0" cy="173.8"/><circle class="k28" cx="174.4" cy="184.4"/><circle class="k19" cx="165.0" cy="157.2"/><circle class="k17" cx="134.1" cy="172.3"/><circle class="k35" cx="238.3" cy="176.2"/><circle class="k2" cx="218.9" cy="172.0"/><circle class="k30" cx="85.8" cy="158.9"/><circle class="k36" cx="160.0" cy="191.1"/><circle class="k39" cx="157.4" cy="158.7"/><circle class="k27" cx="134.3" cy="183.5"/><circle class="k4" cx="175.5" cy="159.6"/><circle class="k1" cx="179.6" cy="161.1"/><circle class="k20" cx="257.9" cy="146.3"/><circle class="k8" cx="107.8" cy="169.3"/><circle class="k46" cx="108.4" cy="179.5"/><circle class="k12" cx="214.3" cy="164.4"/><circle class="k2" cx="214.0" cy="179.6"/><circle class="k48" cx="140.6" cy="171.3"/><circle class="k43" cx="85.8" cy="158.7"/><circle class="k23" cx="96.8" cy="173.8"/><circle class="k13" cx="241.1" cy="179.5"/><circle class="k18" cx="210.2" cy="194.5"/><circle class="k0" cx="232.7" cy="169.4"/><circle class="k24" cx="62.3" cy="159.6"/><circle class="k13" cx="243.9" cy="198.3"/><circle class="k22" cx="252.7" cy="174.6"/><circle class="k7" cx="170.6" cy="177.3"/><circle class="k35" cx="225.3" cy="183.8"/><circle class="k29" cx="154.7" cy="144.9"/><circle class="k24" cx="60.1" cy="137.3"/><circle class="k3" cx="219.8" cy="123.4"/><circle class="k19" cx="165.8" cy="179.2"/><circle class="k36" cx="160.1" cy="120.8"/><circle class="k26" cx="96.1" cy="151.9"/><circle class="k3" cx="225.6" cy="190.3"/><circle class="k12" cx="226.1" cy="185.4"/><circle class="k30" cx="88.5" cy="146.3"/><circle class="k23" cx="65.7" cy="38.1"/><circle class="k10" cx="224.2" cy="182.1"/><circle class="k24" cx="57.8" cy="174.1"/><circle class="k13" cx="246.7" cy="190.9"/><circle class="k30" cx="85.0" cy="173.7"/><circle class="k10" cx="211.2" cy="191.8"/><circle class="k6" cx="207.4" cy="168.4"/><circle class="k46" cx="104.8" cy="78.7"/><circle class="k39" cx="165.0" cy="188.6"/><circle class="k1" cx="181.3" cy="178.9"/><circle class="k12" cx="228.6" cy="179.7"/><circle class="k19" cx="164.6" cy="179.6"/><circle class="k46" cx="117.9" cy="114.0"/><circle class="k2" cx="215.2" cy="159.0"/><circle class="k26" cx="105.0" cy="202.5"/><circle class="k54" cx="127.9" cy="180.2"/><circle class="k29" cx="139.4" cy="162.3"/><circle class="k24" cx="60.8" cy="136.3"/><circle class="k3" cx="224.3" cy="174.5"/><circle class="k12" cx="223.7" cy="173.8"/><circle class="k3" cx="229.4" cy="174.4"/><circle class="k35" cx="239.9" cy="174.3"/><circle class="k36" cx="150.4" cy="178.4"/><circle class="k23" cx="94.8" cy="174.6"/><circle class="k35" cx="233.5" cy="193.8"/><circle class="k11" cx="137.5" cy="176.2"/><circle class="k35" cx="243.6" cy="181.6"/><circle class="k35" cx="247.4" cy="188.3"/><circle class="k5" cx="118.1" cy="165.4"/><circle class="k24" cx="44.3" cy="161.2"/><circle class="k39" cx="164.4" cy="167.8"/><circle class="k0" cx="234.6" cy="187.2"/><circle class="k21" cx="76.0" cy="134.9"/><circle class="k4" cx="169.5" cy="172.5"/><circle class="k29" cx="152.9" cy="164.1"/><circle class="k9" cx="236.1" cy="179.9"/><circle class="k3" cx="217.2" cy="113.4"/><circle class="k26" cx="96.3" cy="156.6"/><circle class="k11" cx="135.1" cy="163.6"/><circle class="k6" cx="189.7" cy="149.8"/><circle class="k3" cx="215.3" cy="185.5"/><circle class="k36" cx="160.6" cy="182.2"/></g>
<path d="M42.5 156.0 L45.4 155.9 L48.3 155.9 L51.1 155.9 L54.0 155.9 L56.9 155.9 L59.8 155.9 L62.7 155.8 L65.5 155.8 L68.4 155.8 L71.3 155.8 L74.2 155.8 L77.1 155.7 L79.9 155.7 L82.8 155.7 L85.7 155.7 L88.6 155.7 L91.5 155.7 L94.3 155.6 L97.2 155.6 L100.1 155.6 L103.0 155.6 L105.9 155.6 L108.7 155.6 L111.6 155.5 L114.5 155.5 L117.4 155.5 L120.3 155.5 L123.1 155.5 L126.0 155.4 L128.9 155.4 L131.8 155.4 L134.7 155.4 L137.5 155.4 L140.4 155.4 L143.3 155.3 L146.2 155.3 L149.1 155.3 L151.9 155.3 L154.8 155.3 L157.7 155.2 L160.6 155.1 L163.4 155.1 L166.3 155.0 L169.2 154.9 L172.1 154.8 L175.0 154.8 L177.8 154.7 L180.7 154.6 L183.6 154.5 L186.5 154.5 L189.4 154.4 L192.2 154.3 L195.1 154.2 L198.0 154.2 L200.9 154.1 L203.8 154.0 L206.6 153.9 L209.5 153.9 L212.4 153.8 L215.3 153.7 L218.2 153.7 L221.0 153.6 L223.9 153.5 L226.8 153.4 L229.7 153.4 L232.6 153.3 L235.4 153.2 L238.3 153.1 L241.2 153.1 L244.1 153.0 L247.0 152.9 L249.8 152.6 L252.7 152.4 L255.6 152.1 L258.5 151.8 L261.4 151.5 L264.2 150.4 L267.1 147.8 L270.0 145.2" fill="none" stroke="#ad2a30" stroke-width="2.3" stroke-dasharray="6.5,2.6"/>
<circle cx="42.50" cy="155.96" r="2.80" fill="#ad2a30" stroke="#ad2a30" stroke-width="0.5" opacity="1.0"/>
<circle cx="156.25" cy="155.25" r="2.80" fill="#ad2a30" stroke="#ad2a30" stroke-width="0.5" opacity="1.0"/>
<circle cx="247.25" cy="152.90" r="2.80" fill="#ad2a30" stroke="#ad2a30" stroke-width="0.5" opacity="1.0"/>
<circle cx="263.18" cy="151.32" r="2.80" fill="#ad2a30" stroke="#ad2a30" stroke-width="0.5" opacity="1.0"/>
<circle cx="270.00" cy="145.19" r="3.60" fill="#ad2a30" stroke="#ad2a30" stroke-width="0.5" opacity="1.0"/>
<circle cx="183.55" cy="174.28" r="2.90" fill="#7a5a30" stroke="#c0243c" stroke-width="1.9" opacity="1.0"/>
<polygon points="193.79,177.06 190.41,182.91 197.16,182.91" fill="#8a4a30" stroke="#c0243c" stroke-width="1.5" opacity="1.0"/>
<polygon points="205.16,178.83 201.96,184.38 208.37,184.38" fill="#4a5020" stroke="#e8a820" stroke-width="1.5" opacity="1.0"/>
<circle cx="213.12" cy="183.31" r="2.80" fill="#2a5040" stroke="#e8a820" stroke-width="1.6" opacity="1.0"/>
<rect x="42.50" y="4.50" width="227.50" height="235.80" fill="none" stroke="#222" stroke-width="0.85"/>
<text x="42.5" y="254.4" font-size="10.4" text-anchor="middle" font-family="'DejaVu Serif', 'Liberation Serif', serif" fill="#000">90</text>
<text x="88" y="254.4" font-size="10.4" text-anchor="middle" font-family="'DejaVu Serif', 'Liberation Serif', serif" fill="#000">92</text>
<text x="133.5" y="254.4" font-size="10.4" text-anchor="middle" font-family="'DejaVu Serif', 'Liberation Serif', serif" fill="#000">94</text>
<text x="179" y="254.4" font-size="10.4" text-anchor="middle" font-family="'DejaVu Serif', 'Liberation Serif', serif" fill="#000">96</text>
<text x="224.5" y="254.4" font-size="10.4" text-anchor="middle" font-family="'DejaVu Serif', 'Liberation Serif', serif" fill="#000">98</text>
<text x="270" y="254.4" font-size="10.4" text-anchor="middle" font-family="'DejaVu Serif', 'Liberation Serif', serif" fill="#000">100</text>
<path d="M42.50 240.30v3.50M88.00 240.30v3.50M133.50 240.30v3.50M179.00 240.30v3.50M224.50 240.30v3.50M270.00 240.30v3.50" stroke="#222" stroke-width="0.85"/>
<text x="35.5" y="244.2" font-size="10.4" text-anchor="end" font-family="'DejaVu Serif', 'Liberation Serif', serif" fill="#000">0</text>
<text x="35.5" y="204.9" font-size="10.4" text-anchor="end" font-family="'DejaVu Serif', 'Liberation Serif', serif" fill="#000">50</text>
<text x="35.5" y="165.6" font-size="10.4" text-anchor="end" font-family="'DejaVu Serif', 'Liberation Serif', serif" fill="#000">100</text>
<text x="35.5" y="126.3" font-size="10.4" text-anchor="end" font-family="'DejaVu Serif', 'Liberation Serif', serif" fill="#000">150</text>
<text x="35.5" y="87" font-size="10.4" text-anchor="end" font-family="'DejaVu Serif', 'Liberation Serif', serif" fill="#000">200</text>
<text x="35.5" y="47.7" font-size="10.4" text-anchor="end" font-family="'DejaVu Serif', 'Liberation Serif', serif" fill="#000">250</text>
<text x="35.5" y="8.4" font-size="10.4" text-anchor="end" font-family="'DejaVu Serif', 'Liberation Serif', serif" fill="#000">300</text>
<path d="M42.50 240.30h-3.50M42.50 201.00h-3.50M42.50 161.70h-3.50M42.50 122.40h-3.50M42.50 83.10h-3.50M42.50 43.80h-3.50M42.50 4.50h-3.50" stroke="#222" stroke-width="0.85"/>
<rect x="162.40" y="9.10" width="103.30" height="64.50" rx="2" fill="#fff" fill-opacity="0.9" stroke="#d0d0d0" stroke-width="0.8"/>
<polygon points="174.80,13.80 172.12,18.45 177.48,18.45" fill="#8a3030" stroke="#c0243c" stroke-width="1.0" opacity="1.0"/>
<text x="190.6" y="19.1" font-size="8.4" text-anchor="start" font-family="'DejaVu Serif', 'Liberation Serif', serif" fill="#000">MIP-212 (exp)</text>
<circle cx="174.80" cy="29.10" r="2.30" fill="#804838" stroke="#c0243c" stroke-width="1.0" opacity="1.0"/>
<text x="190.6" y="31.1" font-size="8.4" text-anchor="start" font-family="'DejaVu Serif', 'Liberation Serif', serif" fill="#000">MIP-212 (sim)</text>
<polygon points="174.80,38.80 172.12,43.45 177.48,43.45" fill="#4a4820" stroke="#e8a820" stroke-width="1.0" opacity="1.0"/>
<text x="190.6" y="44.1" font-size="8.4" text-anchor="start" font-family="'DejaVu Serif', 'Liberation Serif', serif" fill="#000">CALF-20 (exp)</text>
<circle cx="174.80" cy="54.10" r="2.30" fill="#204a48" stroke="#e8a820" stroke-width="1.0" opacity="1.0"/>
<text x="190.6" y="56.1" font-size="8.4" text-anchor="start" font-family="'DejaVu Serif', 'Liberation Serif', serif" fill="#000">CALF-20 (sim)</text>
<path d="M167.30 65.90h15" stroke="#ad2a30" stroke-width="2"/>
<circle cx="174.80" cy="65.90" r="2.60" fill="#ad2a30" stroke="#ad2a30" stroke-width="0.5" opacity="1.0"/>
<text x="190.6" y="67.9" font-size="8.4" text-anchor="start" font-family="'DejaVu Serif', 'Liberation Serif', serif" fill="#000">MEA benchmark</text>
<text x="156.2" y="268.9" font-size="11.0" text-anchor="middle" font-family="'DejaVu Serif', 'Liberation Serif', serif" fill="#000">Recovery in %</text>
<text x="0" y="0" text-anchor="middle" fill="#000" transform="translate(8.2,122.4) rotate(-90)"><tspan font-family="'DejaVu Serif', 'Liberation Serif', serif" font-size="11.00">Net carbon avoidance cost nCAC in </tspan><tspan font-family="'DejaVu Sans', 'Liberation Sans', sans-serif" font-size="11.00">€/t</tspan><tspan font-family="'DejaVu Sans', 'Liberation Sans', sans-serif" font-size="7.70" dy="2.42">CO</tspan><tspan font-family="'DejaVu Sans', 'Liberation Sans', sans-serif" font-size="5.39" dy="1.54">2</tspan></text>
<defs><linearGradient id="cba" x1="0" y1="0" x2="0" y2="1"><stop offset="0.00" stop-color="#f4c9ea"/><stop offset="0.05" stop-color="#f6c2d6"/><stop offset="0.10" stop-color="#f7bbc2"/><stop offset="0.15" stop-color="#f6b1a8"/><stop offset="0.20" stop-color="#f3a78d"/><stop offset="0.25" stop-color="#e8a074"/><stop offset="0.30" stop-color="#d7985c"/><stop offset="0.35" stop-color="#c59348"/><stop offset="0.40" stop-color="#ae8d3e"/><stop offset="0.45" stop-color="#988835"/><stop offset="0.50" stop-color="#81813b"/><stop offset="0.55" stop-color="#6b7b42"/><stop offset="0.60" stop-color="#58744b"/><stop offset="0.65" stop-color="#466d53"/><stop offset="0.70" stop-color="#36655a"/><stop offset="0.75" stop-color="#285d5d"/><stop offset="0.80" stop-color="#1e535f"/><stop offset="0.85" stop-color="#18475d"/><stop offset="0.90" stop-color="#123a5a"/><stop offset="0.95" stop-color="#0b2a57"/><stop offset="1.00" stop-color="#031953"/></linearGradient></defs>
<rect x="284.20" y="4.50" width="11.80" height="235.80" fill="url(#cba)" stroke="#222" stroke-width="0.85"/>
<text x="302" y="7.5" font-size="8.2" text-anchor="start" font-family="'DejaVu Serif', 'Liberation Serif', serif" fill="#000">0.50</text>
<text x="302" y="54.7" font-size="8.2" text-anchor="start" font-family="'DejaVu Serif', 'Liberation Serif', serif" fill="#000">0.48</text>
<text x="302" y="101.8" font-size="8.2" text-anchor="start" font-family="'DejaVu Serif', 'Liberation Serif', serif" fill="#000">0.46</text>
<text x="302" y="149" font-size="8.2" text-anchor="start" font-family="'DejaVu Serif', 'Liberation Serif', serif" fill="#000">0.44</text>
<text x="302" y="196.1" font-size="8.2" text-anchor="start" font-family="'DejaVu Serif', 'Liberation Serif', serif" fill="#000">0.42</text>
<text x="302" y="243.3" font-size="8.2" text-anchor="start" font-family="'DejaVu Serif', 'Liberation Serif', serif" fill="#000">0.40</text>
<path d="M296.00 4.50h3M296.00 51.66h3M296.00 98.82h3M296.00 145.98h3M296.00 193.14h3M296.00 240.30h3" stroke="#222" stroke-width="0.85"/>
<text x="0" y="0" text-anchor="middle" fill="#000" transform="translate(332.5,122.4) rotate(-90)"><tspan font-family="'DejaVu Serif', 'Liberation Serif', serif" font-size="11.00">Specific electrical energy in </tspan><tspan font-family="'DejaVu Sans', 'Liberation Sans', sans-serif" font-size="11.00">MJ</tspan><tspan font-family="'DejaVu Sans', 'Liberation Sans', sans-serif" font-size="7.70" dy="2.42">el</tspan><tspan font-family="'DejaVu Sans', 'Liberation Sans', sans-serif" font-size="11.00" dy="-2.42">/kg</tspan><tspan font-family="'DejaVu Sans', 'Liberation Sans', sans-serif" font-size="7.70" dy="2.42">CO</tspan><tspan font-family="'DejaVu Sans', 'Liberation Sans', sans-serif" font-size="5.39" dy="1.54">2</tspan></text>
<text x="156" y="289.4" font-size="17" text-anchor="middle" font-family="'DejaVu Sans', 'Liberation Sans', sans-serif" fill="#000">(a)</text>
<clipPath id="cpsb"><rect x="406.00" y="4.50" width="228.30" height="235.80"/></clipPath>
<style>.sb circle{r:2.7px;stroke-width:0.9px}</style>
<g class="sb" clip-path="url(#cpsb)"><circle class="k55" cx="573.3" cy="183.6"/><circle class="k55" cx="545.7" cy="181.8"/><circle class="k56" cx="583.8" cy="171.6"/><circle class="k57" cx="576.0" cy="188.7"/><circle class="k58" cx="572.4" cy="179.4"/><circle class="k57" cx="594.5" cy="190.8"/><circle class="k57" cx="605.0" cy="189.3"/><circle class="k59" cx="506.5" cy="177.6"/><circle class="k60" cx="563.3" cy="151.0"/><circle class="k61" cx="430.8" cy="128.3"/><circle class="k62" cx="407.2" cy="124.4"/><circle class="k58" cx="529.3" cy="176.7"/><circle class="k63" cx="491.3" cy="86.9"/><circle class="k58" cx="594.5" cy="169.2"/><circle class="k64" cx="564.8" cy="186.3"/><circle class="k56" cx="593.8" cy="175.8"/><circle class="k65" cx="566.4" cy="172.0"/><circle class="k66" cx="475.8" cy="6.4"/><circle class="k59" cx="617.7" cy="184.2"/><circle class="k67" cx="482.3" cy="112.1"/><circle class="k57" cx="559.6" cy="183.0"/><circle class="k59" cx="579.3" cy="172.5"/><circle class="k64" cx="564.7" cy="186.3"/><circle class="k55" cx="541.4" cy="175.7"/><circle class="k68" cx="525.2" cy="174.8"/><circle class="k69" cx="404.0" cy="113.7"/><circle class="k57" cx="600.7" cy="187.4"/><circle class="k57" cx="557.8" cy="188.1"/><circle class="k70" cx="442.3" cy="123.3"/><circle class="k58" cx="541.1" cy="184.9"/><circle class="k71" cx="605.9" cy="187.3"/><circle class="k58" cx="570.6" cy="187.2"/><circle class="k57" cx="538.5" cy="179.8"/><circle class="k72" cx="454.2" cy="75.2"/><circle class="k64" cx="588.9" cy="190.0"/><circle class="k73" cx="604.8" cy="159.2"/><circle class="k69" cx="464.0" cy="114.8"/><circle class="k74" cx="516.4" cy="12.0"/><circle class="k56" cx="602.7" cy="172.8"/><circle class="k75" cx="524.4" cy="131.6"/><circle class="k76" cx="508.7" cy="90.7"/><circle class="k68" cx="440.4" cy="163.0"/><circle class="k58" cx="619.0" cy="185.9"/><circle class="k70" cx="583.3" cy="134.8"/><circle class="k55" cx="592.0" cy="181.1"/><circle class="k58" cx="619.0" cy="179.2"/><circle class="k77" cx="492.7" cy="130.5"/><circle class="k65" cx="427.8" cy="164.1"/><circle class="k55" cx="555.6" cy="177.3"/><circle class="k77" cx="551.2" cy="125.0"/><circle class="k73" cx="539.5" cy="161.4"/><circle class="k64" cx="599.3" cy="181.9"/><circle class="k58" cx="529.6" cy="177.8"/><circle class="k64" cx="546.7" cy="185.6"/><circle class="k55" cx="565.4" cy="177.8"/><circle class="k58" cx="611.4" cy="177.0"/><circle class="k59" cx="588.9" cy="172.5"/><circle class="k60" cx="433.0" cy="157.1"/><circle class="k58" cx="602.4" cy="170.2"/><circle class="k61" cx="462.5" cy="111.4"/><circle class="k60" cx="483.1" cy="153.7"/><circle class="k59" cx="462.0" cy="165.0"/><circle class="k65" cx="407.6" cy="154.1"/><circle class="k72" cx="571.2" cy="78.7"/><circle class="k78" cx="534.5" cy="170.1"/><circle class="k58" cx="581.7" cy="183.9"/><circle class="k79" cx="461.6" cy="128.9"/><circle class="k80" cx="623.6" cy="193.7"/><circle class="k59" cx="564.1" cy="188.1"/><circle class="k59" cx="518.0" cy="179.1"/><circle class="k62" cx="534.0" cy="116.3"/><circle class="k67" cx="452.1" cy="108.0"/><circle class="k62" cx="430.5" cy="108.3"/><circle class="k68" cx="593.1" cy="159.0"/><circle class="k75" cx="454.3" cy="129.6"/><circle class="k79" cx="536.1" cy="126.1"/><circle class="k60" cx="532.8" cy="162.0"/><circle class="k56" cx="500.8" cy="165.0"/><circle class="k78" cx="570.8" cy="154.4"/><circle class="k81" cx="426.8" cy="159.5"/><circle class="k58" cx="542.4" cy="184.4"/><circle class="k59" cx="578.6" cy="189.0"/><circle class="k82" cx="527.8" cy="148.2"/><circle class="k59" cx="574.5" cy="177.4"/><circle class="k73" cx="560.7" cy="152.9"/><circle class="k55" cx="551.1" cy="171.7"/><circle class="k62" cx="452.9" cy="113.6"/><circle class="k60" cx="451.0" cy="140.7"/><circle class="k55" cx="552.0" cy="180.2"/><circle class="k55" cx="574.6" cy="185.5"/><circle class="k67" cx="422.1" cy="109.8"/><circle class="k57" cx="607.7" cy="182.5"/><circle class="k59" cx="553.4" cy="171.8"/><circle class="k65" cx="418.0" cy="162.3"/><circle class="k68" cx="580.0" cy="174.9"/><circle class="k59" cx="568.8" cy="171.5"/><circle class="k83" cx="595.6" cy="184.3"/><circle class="k58" cx="550.9" cy="175.2"/><circle class="k65" cx="537.1" cy="165.0"/><circle class="k63" cx="526.0" cy="85.3"/><circle class="k58" cx="620.4" cy="177.0"/><circle class="k55" cx="598.8" cy="181.6"/><circle class="k59" cx="555.0" cy="167.8"/><circle class="k56" cx="490.8" cy="154.4"/><circle class="k57" cx="569.2" cy="190.0"/><circle class="k57" cx="553.7" cy="183.6"/><circle class="k77" cx="406.0" cy="136.0"/><circle class="k56" cx="454.2" cy="161.8"/><circle class="k84" cx="403.9" cy="124.4"/><circle class="k79" cx="512.2" cy="120.8"/><circle class="k61" cx="500.3" cy="110.8"/><circle class="k82" cx="432.0" cy="123.3"/><circle class="k64" cx="517.9" cy="180.2"/><circle class="k83" cx="574.3" cy="179.9"/><circle class="k69" cx="544.1" cy="112.4"/><circle class="k60" cx="545.0" cy="140.8"/><circle class="k72" cx="491.3" cy="73.8"/><circle class="k58" cx="560.3" cy="165.2"/><circle class="k56" cx="587.0" cy="156.5"/><circle class="k56" cx="496.6" cy="166.0"/><circle class="k59" cx="499.1" cy="177.2"/><circle class="k81" cx="480.6" cy="149.8"/><circle class="k55" cx="598.4" cy="179.7"/><circle class="k55" cx="571.3" cy="183.5"/><circle class="k55" cx="569.7" cy="178.7"/><circle class="k57" cx="595.6" cy="187.6"/><circle class="k83" cx="602.5" cy="188.8"/><circle class="k57" cx="603.7" cy="191.9"/><circle class="k73" cx="573.3" cy="144.9"/><circle class="k77" cx="505.6" cy="115.0"/><circle class="k59" cx="575.4" cy="172.2"/><circle class="k65" cx="450.1" cy="164.3"/><circle class="k80" cx="536.7" cy="180.1"/><circle class="k57" cx="595.5" cy="184.2"/><circle class="k58" cx="572.5" cy="166.6"/><circle class="k55" cx="626.1" cy="165.8"/><circle class="k81" cx="543.2" cy="158.2"/><circle class="k73" cx="565.8" cy="160.1"/><circle class="k78" cx="612.4" cy="154.9"/><circle class="k58" cx="566.1" cy="185.3"/><circle class="k57" cx="603.9" cy="167.3"/><circle class="k58" cx="493.3" cy="171.9"/><circle class="k73" cx="616.3" cy="156.8"/><circle class="k79" cx="545.5" cy="131.2"/><circle class="k58" cx="561.8" cy="175.5"/><circle class="k63" cx="423.1" cy="86.7"/><circle class="k55" cx="537.5" cy="175.7"/><circle class="k67" cx="476.7" cy="109.0"/><circle class="k56" cx="472.4" cy="173.6"/><circle class="k83" cx="596.6" cy="191.2"/><circle class="k60" cx="407.3" cy="135.0"/><circle class="k81" cx="529.9" cy="159.4"/><circle class="k73" cx="519.7" cy="164.4"/><circle class="k56" cx="506.9" cy="160.3"/><circle class="k55" cx="474.1" cy="174.0"/><circle class="k55" cx="598.1" cy="187.4"/><circle class="k70" cx="507.5" cy="140.9"/><circle class="k70" cx="608.5" cy="139.6"/><circle class="k70" cx="569.0" cy="144.1"/><circle class="k77" cx="430.2" cy="105.3"/><circle class="k57" cx="564.7" cy="172.7"/><circle class="k81" cx="426.1" cy="151.7"/><circle class="k81" cx="560.4" cy="150.6"/><circle class="k85" cx="444.5" cy="27.7"/><circle class="k78" cx="622.6" cy="167.7"/><circle class="k64" cx="574.2" cy="176.2"/><circle class="k63" cx="408.2" cy="95.3"/><circle class="k59" cx="559.2" cy="180.5"/><circle class="k64" cx="597.5" cy="186.7"/><circle class="k73" cx="589.5" cy="154.4"/><circle class="k75" cx="437.4" cy="140.1"/><circle class="k64" cx="548.6" cy="182.4"/><circle class="k69" cx="436.0" cy="110.6"/><circle class="k82" cx="535.8" cy="135.2"/><circle class="k86" cx="470.6" cy="49.8"/><circle class="k58" cx="461.7" cy="172.2"/><circle class="k57" cx="577.2" cy="190.7"/><circle class="k82" cx="478.7" cy="139.2"/><circle class="k55" cx="520.2" cy="176.5"/><circle class="k64" cx="624.8" cy="187.9"/><circle class="k58" cx="586.6" cy="171.2"/><circle class="k62" cx="442.0" cy="116.6"/><circle class="k78" cx="626.2" cy="156.3"/><circle class="k55" cx="525.2" cy="180.9"/><circle class="k65" cx="516.1" cy="160.6"/><circle class="k58" cx="598.0" cy="180.9"/><circle class="k77" cx="506.1" cy="128.9"/><circle class="k55" cx="597.7" cy="172.8"/><circle class="k56" cx="592.7" cy="171.9"/><circle class="k84" cx="578.5" cy="136.5"/><circle class="k64" cx="594.9" cy="191.3"/><circle class="k73" cx="541.7" cy="150.1"/><circle class="k87" cx="538.3" cy="116.0"/><circle class="k79" cx="413.5" cy="145.2"/><circle class="k68" cx="524.0" cy="171.4"/><circle class="k88" cx="433.6" cy="104.5"/><circle class="k79" cx="488.3" cy="123.2"/><circle class="k60" cx="440.9" cy="145.0"/><circle class="k59" cx="613.6" cy="177.5"/><circle class="k89" cx="449.1" cy="48.2"/><circle class="k78" cx="541.5" cy="157.8"/><circle class="k58" cx="561.3" cy="185.2"/><circle class="k64" cx="590.4" cy="188.6"/><circle class="k73" cx="593.0" cy="130.8"/><circle class="k57" cx="604.2" cy="178.3"/><circle class="k68" cx="451.9" cy="170.9"/><circle class="k65" cx="608.3" cy="170.1"/><circle class="k73" cx="589.3" cy="139.2"/><circle class="k70" cx="607.7" cy="142.8"/><circle class="k78" cx="592.0" cy="150.0"/><circle class="k68" cx="557.9" cy="167.7"/><circle class="k65" cx="522.6" cy="173.5"/><circle class="k90" cx="472.2" cy="85.3"/><circle class="k55" cx="582.2" cy="183.5"/><circle class="k87" cx="481.3" cy="108.2"/><circle class="k59" cx="453.7" cy="164.4"/><circle class="k68" cx="503.0" cy="173.1"/><circle class="k91" cx="447.1" cy="75.8"/><circle class="k92" cx="431.7" cy="58.2"/><circle class="k58" cx="580.7" cy="176.3"/><circle class="k76" cx="426.9" cy="97.6"/><circle class="k90" cx="469.8" cy="73.2"/><circle class="k57" cx="545.7" cy="182.7"/><circle class="k88" cx="423.9" cy="97.8"/><circle class="k59" cx="531.4" cy="182.0"/><circle class="k58" cx="534.3" cy="182.6"/><circle class="k78" cx="422.1" cy="156.7"/><circle class="k58" cx="510.0" cy="170.3"/><circle class="k56" cx="609.1" cy="173.7"/><circle class="k69" cx="447.2" cy="116.8"/><circle class="k55" cx="535.9" cy="182.2"/><circle class="k64" cx="571.6" cy="185.8"/><circle class="k58" cx="566.9" cy="186.4"/><circle class="k84" cx="405.6" cy="140.8"/><circle class="k89" cx="510.0" cy="64.6"/><circle class="k80" cx="563.8" cy="189.1"/><circle class="k77" cx="493.0" cy="118.3"/><circle class="k55" cx="591.0" cy="178.4"/><circle class="k59" cx="616.9" cy="169.1"/><circle class="k60" cx="478.8" cy="158.4"/><circle class="k64" cx="562.7" cy="188.3"/><circle class="k55" cx="618.1" cy="181.3"/><circle class="k78" cx="508.0" cy="174.3"/><circle class="k60" cx="440.9" cy="143.8"/><circle class="k79" cx="503.4" cy="138.7"/><circle class="k58" cx="551.4" cy="181.2"/><circle class="k58" cx="567.2" cy="182.1"/><circle class="k57" cx="541.8" cy="176.7"/><circle class="k73" cx="571.6" cy="173.3"/><circle class="k59" cx="602.9" cy="180.9"/><circle class="k80" cx="577.4" cy="190.7"/><circle class="k55" cx="582.9" cy="181.5"/><circle class="k58" cx="497.5" cy="177.1"/><circle class="k87" cx="530.1" cy="117.6"/><circle class="k58" cx="574.4" cy="187.7"/><circle class="k56" cx="591.4" cy="177.8"/><circle class="k55" cx="572.9" cy="184.1"/><circle class="k62" cx="416.2" cy="114.2"/><circle class="k87" cx="566.8" cy="90.3"/><circle class="k84" cx="468.6" cy="140.5"/><circle class="k55" cx="535.5" cy="172.8"/><circle class="k55" cx="594.8" cy="178.7"/><circle class="k87" cx="519.0" cy="98.3"/><circle class="k65" cx="536.1" cy="173.9"/><circle class="k56" cx="521.4" cy="157.8"/><circle class="k64" cx="562.3" cy="182.6"/><circle class="k78" cx="623.9" cy="142.2"/><circle class="k84" cx="573.6" cy="131.4"/><circle class="k57" cx="564.2" cy="187.2"/><circle class="k60" cx="596.1" cy="158.2"/><circle class="k83" cx="611.7" cy="188.6"/><circle class="k70" cx="521.7" cy="137.0"/><circle class="k65" cx="563.5" cy="156.6"/><circle class="k73" cx="586.8" cy="146.5"/><circle class="k55" cx="574.6" cy="190.1"/><circle class="k59" cx="522.7" cy="177.6"/><circle class="k60" cx="482.3" cy="146.4"/><circle class="k78" cx="504.2" cy="163.7"/><circle class="k69" cx="578.9" cy="123.9"/><circle class="k73" cx="452.1" cy="145.2"/><circle class="k55" cx="607.4" cy="181.4"/><circle class="k75" cx="497.2" cy="131.8"/><circle class="k81" cx="514.5" cy="157.3"/><circle class="k67" cx="404.0" cy="109.0"/><circle class="k75" cx="473.2" cy="129.7"/><circle class="k79" cx="509.4" cy="120.7"/><circle class="k75" cx="550.6" cy="132.6"/><circle class="k78" cx="522.2" cy="150.6"/><circle class="k61" cx="523.5" cy="114.5"/><circle class="k64" cx="591.7" cy="180.9"/><circle class="k58" cx="580.8" cy="176.2"/><circle class="k62" cx="458.8" cy="112.0"/><circle class="k83" cx="584.5" cy="185.8"/><circle class="k60" cx="560.9" cy="145.1"/><circle class="k58" cx="592.9" cy="177.5"/><circle class="k64" cx="522.9" cy="176.6"/><circle class="k70" cx="611.6" cy="139.2"/><circle class="k81" cx="449.0" cy="152.2"/><circle class="k84" cx="472.7" cy="120.9"/><circle class="k79" cx="473.0" cy="117.1"/><circle class="k56" cx="530.3" cy="165.3"/><circle class="k58" cx="520.8" cy="178.6"/><circle class="k68" cx="528.3" cy="162.6"/><circle class="k56" cx="615.9" cy="175.4"/><circle class="k78" cx="561.4" cy="164.9"/><circle class="k55" cx="613.9" cy="184.0"/><circle class="k55" cx="573.0" cy="173.5"/><circle class="k70" cx="427.7" cy="134.6"/><circle class="k62" cx="513.8" cy="109.0"/><circle class="k80" cx="589.3" cy="186.1"/><circle class="k65" cx="568.4" cy="177.1"/><circle class="k57" cx="576.8" cy="177.4"/><circle class="k67" cx="592.3" cy="116.4"/><circle class="k65" cx="593.3" cy="170.2"/><circle class="k57" cx="568.2" cy="182.8"/><circle class="k57" cx="557.2" cy="186.4"/><circle class="k55" cx="602.8" cy="185.1"/><circle class="k56" cx="603.9" cy="181.6"/><circle class="k81" cx="540.0" cy="152.8"/><circle class="k56" cx="563.8" cy="166.3"/><circle class="k68" cx="470.4" cy="151.5"/><circle class="k58" cx="568.9" cy="185.2"/><circle class="k93" cx="462.8" cy="32.7"/><circle class="k77" cx="594.1" cy="139.3"/><circle class="k83" cx="589.1" cy="189.1"/><circle class="k57" cx="536.1" cy="171.6"/><circle class="k68" cx="430.2" cy="167.1"/><circle class="k80" cx="595.3" cy="189.7"/><circle class="k83" cx="549.8" cy="184.2"/><circle class="k72" cx="448.5" cy="73.8"/><circle class="k55" cx="559.9" cy="176.6"/><circle class="k62" cx="557.1" cy="123.6"/><circle class="k81" cx="514.8" cy="157.5"/><circle class="k64" cx="583.2" cy="184.2"/><circle class="k71" cx="611.2" cy="191.4"/><circle class="k70" cx="481.5" cy="145.3"/><circle class="k58" cx="605.2" cy="176.9"/><circle class="k62" cx="492.3" cy="109.9"/><circle class="k64" cx="514.4" cy="181.1"/><circle class="k55" cx="574.3" cy="176.6"/><circle class="k80" cx="569.6" cy="188.9"/><circle class="k76" cx="510.0" cy="78.7"/><circle class="k55" cx="564.9" cy="183.1"/><circle class="k62" cx="480.7" cy="120.6"/><circle class="k69" cx="603.3" cy="115.4"/><circle class="k64" cx="610.1" cy="191.5"/><circle class="k65" cx="585.7" cy="170.8"/><circle class="k55" cx="580.0" cy="188.4"/><circle class="k82" cx="407.7" cy="136.6"/><circle class="k56" cx="513.0" cy="180.5"/><circle class="k73" cx="438.4" cy="156.2"/><circle class="k56" cx="497.8" cy="165.0"/><circle class="k59" cx="531.1" cy="182.8"/><circle class="k56" cx="533.1" cy="179.5"/><circle class="k82" cx="551.7" cy="146.7"/><circle class="k79" cx="468.8" cy="116.1"/><circle class="k65" cx="593.8" cy="184.6"/><circle class="k75" cx="552.1" cy="124.8"/><circle class="k65" cx="523.0" cy="168.6"/><circle class="k75" cx="499.5" cy="129.7"/><circle class="k64" cx="567.0" cy="184.2"/><circle class="k64" cx="591.5" cy="187.0"/><circle class="k78" cx="532.8" cy="168.7"/><circle class="k80" cx="590.0" cy="183.6"/><circle class="k84" cx="497.5" cy="132.5"/><circle class="k91" cx="485.9" cy="59.8"/><circle class="k56" cx="570.3" cy="172.0"/><circle class="k69" cx="427.7" cy="117.1"/><circle class="k82" cx="485.0" cy="116.8"/><circle class="k57" cx="574.5" cy="184.4"/><circle class="k75" cx="500.4" cy="124.5"/><circle class="k64" cx="583.2" cy="191.0"/><circle class="k65" cx="535.5" cy="183.9"/><circle class="k72" cx="554.7" cy="86.3"/><circle class="k81" cx="542.8" cy="171.0"/><circle class="k62" cx="470.3" cy="117.0"/><circle class="k73" cx="416.0" cy="163.8"/><circle class="k81" cx="552.2" cy="144.1"/><circle class="k65" cx="482.6" cy="155.2"/><circle class="k65" cx="508.3" cy="178.2"/><circle class="k59" cx="546.7" cy="183.2"/><circle class="k59" cx="521.1" cy="173.2"/><circle class="k84" cx="601.9" cy="153.3"/><circle class="k65" cx="528.8" cy="165.3"/><circle class="k57" cx="597.9" cy="183.1"/><circle class="k56" cx="514.6" cy="179.8"/><circle class="k65" cx="580.4" cy="178.3"/><circle class="k83" cx="621.3" cy="197.3"/><circle class="k73" cx="618.5" cy="146.6"/><circle class="k57" cx="570.7" cy="180.4"/><circle class="k62" cx="444.2" cy="118.7"/><circle class="k70" cx="543.3" cy="133.8"/><circle class="k61" cx="472.3" cy="106.6"/><circle class="k61" cx="522.0" cy="121.3"/><circle class="k57" cx="621.5" cy="196.7"/><circle class="k58" cx="505.5" cy="174.0"/><circle class="k79" cx="562.0" cy="141.1"/><circle class="k60" cx="517.0" cy="141.4"/><circle class="k62" cx="445.5" cy="115.1"/><circle class="k55" cx="578.0" cy="187.3"/><circle class="k83" cx="549.4" cy="185.2"/><circle class="k93" cx="421.0" cy="60.6"/><circle class="k63" cx="458.6" cy="83.3"/><circle class="k68" cx="575.0" cy="161.8"/><circle class="k57" cx="547.2" cy="182.0"/><circle class="k67" cx="442.7" cy="112.8"/><circle class="k70" cx="405.8" cy="134.3"/><circle class="k55" cx="591.5" cy="186.7"/><circle class="k59" cx="596.6" cy="172.3"/><circle class="k56" cx="552.5" cy="175.2"/><circle class="k56" cx="527.9" cy="174.9"/><circle class="k64" cx="504.8" cy="174.7"/><circle class="k74" cx="426.1" cy="13.0"/><circle class="k68" cx="556.2" cy="163.8"/><circle class="k76" cx="416.0" cy="65.2"/><circle class="k64" cx="608.8" cy="190.6"/><circle class="k77" cx="581.3" cy="139.6"/><circle class="k68" cx="608.9" cy="166.1"/><circle class="k57" cx="550.5" cy="185.6"/><circle class="k71" cx="589.5" cy="191.7"/><circle class="k59" cx="542.0" cy="179.1"/><circle class="k71" cx="603.1" cy="190.1"/><circle class="k59" cx="543.5" cy="179.2"/><circle class="k81" cx="456.4" cy="154.0"/><circle class="k57" cx="604.9" cy="176.7"/><circle class="k65" cx="547.0" cy="168.9"/><circle class="k83" cx="558.8" cy="180.6"/><circle class="k56" cx="526.9" cy="168.2"/><circle class="k84" cx="495.0" cy="153.8"/><circle class="k82" cx="453.3" cy="129.9"/><circle class="k55" cx="568.2" cy="181.7"/><circle class="k64" cx="589.3" cy="188.8"/><circle class="k58" cx="553.6" cy="186.6"/><circle class="k58" cx="601.0" cy="177.5"/><circle class="k56" cx="586.9" cy="189.7"/><circle class="k65" cx="583.5" cy="174.4"/><circle class="k70" cx="459.4" cy="143.3"/><circle class="k56" cx="524.9" cy="164.0"/><circle class="k55" cx="621.7" cy="170.3"/><circle class="k81" cx="496.2" cy="152.1"/><circle class="k65" cx="615.8" cy="165.6"/><circle class="k56" cx="446.6" cy="165.2"/><circle class="k64" cx="549.4" cy="181.4"/><circle class="k56" cx="481.8" cy="174.0"/><circle class="k70" cx="546.2" cy="139.9"/><circle class="k55" cx="550.6" cy="178.4"/><circle class="k58" cx="584.5" cy="181.5"/><circle class="k59" cx="465.0" cy="171.1"/><circle class="k75" cx="595.6" cy="146.6"/><circle class="k78" cx="565.4" cy="154.1"/><circle class="k59" cx="568.0" cy="165.3"/><circle class="k75" cx="582.4" cy="126.7"/><circle class="k78" cx="418.1" cy="157.3"/><circle class="k58" cx="567.2" cy="186.3"/><circle class="k84" cx="477.4" cy="142.9"/><circle class="k71" cx="563.9" cy="177.9"/><circle class="k59" cx="499.6" cy="178.1"/><circle class="k58" cx="531.4" cy="182.8"/><circle class="k68" cx="524.0" cy="160.3"/><circle class="k75" cx="419.2" cy="118.7"/><circle class="k65" cx="424.4" cy="161.7"/><circle class="k83" cx="624.4" cy="191.9"/><circle class="k75" cx="464.1" cy="131.0"/><circle class="k55" cx="592.8" cy="189.1"/><circle class="k73" cx="619.8" cy="147.2"/><circle class="k58" cx="607.2" cy="184.7"/><circle class="k73" cx="597.7" cy="154.7"/><circle class="k58" cx="571.6" cy="187.2"/><circle class="k56" cx="511.9" cy="177.0"/><circle class="k80" cx="552.6" cy="187.2"/><circle class="k55" cx="567.5" cy="178.8"/><circle class="k55" cx="621.5" cy="180.6"/><circle class="k68" cx="488.4" cy="153.0"/><circle class="k57" cx="604.4" cy="179.3"/><circle class="k63" cx="557.1" cy="87.9"/><circle class="k64" cx="560.4" cy="188.2"/><circle class="k58" cx="509.4" cy="171.1"/><circle class="k59" cx="588.2" cy="176.7"/><circle class="k59" cx="552.1" cy="179.3"/><circle class="k56" cx="586.1" cy="177.6"/><circle class="k60" cx="405.7" cy="142.1"/><circle class="k56" cx="534.6" cy="180.7"/><circle class="k75" cx="583.6" cy="138.3"/><circle class="k68" cx="506.2" cy="169.7"/><circle class="k68" cx="527.8" cy="171.7"/><circle class="k55" cx="596.1" cy="178.3"/><circle class="k57" cx="583.8" cy="182.8"/><circle class="k57" cx="574.4" cy="190.0"/><circle class="k57" cx="603.9" cy="180.4"/><circle class="k59" cx="558.5" cy="177.9"/><circle class="k78" cx="487.7" cy="172.6"/><circle class="k84" cx="565.0" cy="129.8"/><circle class="k75" cx="465.5" cy="129.6"/><circle class="k61" cx="420.1" cy="113.1"/><circle class="k65" cx="445.0" cy="163.5"/><circle class="k64" cx="594.8" cy="186.2"/><circle class="k55" cx="541.5" cy="186.0"/><circle class="k90" cx="497.3" cy="77.2"/><circle class="k64" cx="595.9" cy="187.7"/><circle class="k55" cx="575.2" cy="187.1"/><circle class="k79" cx="488.8" cy="113.8"/><circle class="k93" cx="510.4" cy="54.8"/><circle class="k56" cx="431.4" cy="165.3"/><circle class="k59" cx="620.3" cy="170.3"/><circle class="k57" cx="585.2" cy="186.0"/><circle class="k55" cx="597.7" cy="183.4"/><circle class="k56" cx="534.4" cy="184.5"/><circle class="k60" cx="562.7" cy="138.2"/><circle class="k57" cx="611.0" cy="178.3"/><circle class="k55" cx="605.4" cy="183.4"/><circle class="k73" cx="412.7" cy="148.7"/><circle class="k57" cx="583.3" cy="190.2"/><circle class="k70" cx="455.1" cy="148.7"/><circle class="k55" cx="594.8" cy="174.9"/><circle class="k91" cx="552.7" cy="75.2"/><circle class="k55" cx="562.2" cy="173.7"/><circle class="k87" cx="549.1" cy="104.3"/><circle class="k70" cx="514.1" cy="141.5"/><circle class="k61" cx="533.8" cy="119.9"/><circle class="k84" cx="583.3" cy="142.5"/><circle class="k81" cx="520.0" cy="158.4"/><circle class="k77" cx="406.9" cy="132.1"/><circle class="k59" cx="548.5" cy="183.1"/><circle class="k55" cx="475.8" cy="172.4"/><circle class="k60" cx="519.4" cy="160.6"/><circle class="k56" cx="603.1" cy="170.5"/><circle class="k56" cx="615.7" cy="177.8"/><circle class="k56" cx="485.6" cy="174.8"/><circle class="k75" cx="437.5" cy="136.3"/><circle class="k59" cx="591.8" cy="189.6"/><circle class="k66" cx="422.1" cy="13.0"/><circle class="k55" cx="555.0" cy="183.6"/><circle class="k69" cx="517.4" cy="114.5"/><circle class="k78" cx="603.8" cy="168.1"/><circle class="k94" cx="505.3" cy="46.1"/><circle class="k83" cx="585.7" cy="180.3"/><circle class="k73" cx="563.5" cy="156.9"/><circle class="k73" cx="427.2" cy="150.2"/><circle class="k58" cx="592.4" cy="188.9"/><circle class="k82" cx="491.6" cy="134.7"/><circle class="k94" cx="430.5" cy="44.1"/><circle class="k65" cx="529.9" cy="174.5"/><circle class="k76" cx="471.4" cy="101.9"/><circle class="k67" cx="558.7" cy="101.3"/><circle class="k60" cx="581.4" cy="151.2"/><circle class="k59" cx="561.1" cy="173.5"/><circle class="k65" cx="506.0" cy="161.0"/><circle class="k67" cx="460.2" cy="88.3"/><circle class="k58" cx="589.5" cy="175.9"/><circle class="k65" cx="527.4" cy="152.5"/><circle class="k70" cx="453.2" cy="151.1"/><circle class="k58" cx="546.9" cy="184.0"/><circle class="k89" cx="501.9" cy="52.2"/><circle class="k57" cx="586.8" cy="188.0"/><circle class="k73" cx="519.4" cy="147.2"/><circle class="k73" cx="586.0" cy="155.1"/><circle class="k78" cx="570.6" cy="165.7"/><circle class="k73" cx="515.7" cy="151.6"/><circle class="k56" cx="415.2" cy="166.0"/><circle class="k79" cx="548.1" cy="131.1"/><circle class="k57" cx="585.2" cy="181.6"/><circle class="k84" cx="498.5" cy="130.3"/><circle class="k58" cx="575.2" cy="173.9"/><circle class="k56" cx="431.7" cy="159.4"/><circle class="k58" cx="535.2" cy="173.9"/><circle class="k55" cx="554.6" cy="177.5"/><circle class="k57" cx="618.3" cy="182.0"/><circle class="k59" cx="520.9" cy="179.3"/><circle class="k70" cx="470.2" cy="143.5"/><circle class="k58" cx="581.9" cy="178.8"/><circle class="k57" cx="577.3" cy="188.7"/><circle class="k64" cx="571.2" cy="188.6"/><circle class="k89" cx="415.0" cy="60.8"/><circle class="k70" cx="407.2" cy="146.0"/><circle class="k77" cx="500.9" cy="116.2"/><circle class="k75" cx="502.9" cy="120.7"/><circle class="k55" cx="472.6" cy="173.1"/><circle class="k55" cx="585.8" cy="175.9"/><circle class="k88" cx="524.4" cy="85.3"/><circle class="k75" cx="509.4" cy="129.1"/><circle class="k58" cx="530.2" cy="172.2"/><circle class="k60" cx="533.3" cy="158.2"/><circle class="k80" cx="521.4" cy="182.6"/><circle class="k85" cx="490.3" cy="30.1"/><circle class="k73" cx="543.9" cy="150.5"/><circle class="k80" cx="598.1" cy="191.7"/><circle class="k57" cx="459.5" cy="172.2"/><circle class="k81" cx="612.1" cy="162.5"/><circle class="k56" cx="530.5" cy="153.8"/><circle class="k78" cx="433.3" cy="157.0"/><circle class="k56" cx="564.7" cy="178.2"/><circle class="k65" cx="425.5" cy="154.9"/><circle class="k81" cx="470.9" cy="158.8"/><circle class="k73" cx="468.3" cy="151.5"/><circle class="k79" cx="523.0" cy="137.1"/><circle class="k55" cx="530.5" cy="182.1"/><circle class="k76" cx="454.2" cy="89.3"/><circle class="k77" cx="406.7" cy="116.4"/><circle class="k61" cx="408.6" cy="104.1"/><circle class="k70" cx="421.8" cy="155.5"/><circle class="k69" cx="537.2" cy="114.7"/><circle class="k56" cx="579.8" cy="170.1"/><circle class="k58" cx="568.5" cy="189.6"/><circle class="k68" cx="583.6" cy="162.6"/><circle class="k64" cx="577.1" cy="186.9"/><circle class="k57" cx="569.1" cy="189.8"/><circle class="k73" cx="485.8" cy="164.0"/><circle class="k69" cx="562.2" cy="121.4"/><circle class="k60" cx="512.7" cy="150.6"/><circle class="k65" cx="508.1" cy="171.8"/><circle class="k77" cx="504.7" cy="113.2"/><circle class="k59" cx="523.6" cy="178.4"/><circle class="k60" cx="533.8" cy="155.8"/><circle class="k62" cx="494.2" cy="115.7"/><circle class="k68" cx="440.3" cy="154.9"/><circle class="k80" cx="548.0" cy="186.9"/><circle class="k63" cx="415.8" cy="96.8"/><circle class="k59" cx="552.2" cy="176.3"/><circle class="k59" cx="582.2" cy="177.1"/><circle class="k56" cx="615.3" cy="166.4"/><circle class="k55" cx="556.1" cy="188.1"/><circle class="k61" cx="459.5" cy="103.4"/><circle class="k68" cx="529.3" cy="166.9"/><circle class="k56" cx="539.9" cy="175.3"/><circle class="k76" cx="468.6" cy="83.3"/><circle class="k57" cx="512.1" cy="179.5"/><circle class="k79" cx="592.0" cy="130.9"/><circle class="k57" cx="554.4" cy="184.1"/><circle class="k65" cx="581.6" cy="167.5"/><circle class="k84" cx="462.8" cy="146.3"/><circle class="k60" cx="613.9" cy="161.1"/><circle class="k79" cx="420.5" cy="114.2"/><circle class="k67" cx="466.1" cy="106.1"/><circle class="k70" cx="447.1" cy="128.0"/><circle class="k67" cx="469.5" cy="105.7"/><circle class="k64" cx="606.3" cy="182.9"/><circle class="k70" cx="526.7" cy="147.6"/><circle class="k68" cx="610.1" cy="172.8"/><circle class="k78" cx="608.2" cy="166.9"/><circle class="k94" cx="420.0" cy="18.0"/><circle class="k64" cx="546.6" cy="179.3"/><circle class="k58" cx="607.2" cy="183.2"/><circle class="k73" cx="494.6" cy="146.6"/><circle class="k81" cx="500.6" cy="157.0"/><circle class="k78" cx="468.2" cy="152.8"/><circle class="k58" cx="476.6" cy="173.9"/><circle class="k62" cx="428.7" cy="112.3"/><circle class="k55" cx="582.9" cy="189.3"/><circle class="k57" cx="581.8" cy="184.4"/><circle class="k57" cx="538.1" cy="184.0"/><circle class="k58" cx="567.3" cy="180.2"/><circle class="k88" cx="546.1" cy="95.9"/><circle class="k65" cx="532.8" cy="172.5"/><circle class="k60" cx="420.7" cy="155.2"/><circle class="k80" cx="575.4" cy="190.1"/><circle class="k83" cx="567.7" cy="189.0"/><circle class="k58" cx="538.7" cy="179.7"/><circle class="k57" cx="579.7" cy="186.6"/><circle class="k84" cx="495.9" cy="135.3"/><circle class="k82" cx="555.9" cy="141.8"/><circle class="k73" cx="517.6" cy="136.8"/><circle class="k71" cx="609.4" cy="192.6"/><circle class="k57" cx="516.2" cy="172.1"/><circle class="k73" cx="411.7" cy="161.2"/><circle class="k77" cx="466.6" cy="134.6"/><circle class="k55" cx="558.8" cy="174.9"/><circle class="k59" cx="585.0" cy="174.0"/><circle class="k64" cx="546.8" cy="180.9"/><circle class="k55" cx="570.2" cy="187.3"/><circle class="k58" cx="604.6" cy="162.5"/><circle class="k57" cx="603.9" cy="189.9"/><circle class="k59" cx="496.4" cy="162.5"/><circle class="k60" cx="484.5" cy="142.8"/><circle class="k68" cx="480.3" cy="167.2"/><circle class="k58" cx="569.8" cy="176.5"/><circle class="k78" cx="590.5" cy="171.9"/><circle class="k80" cx="593.4" cy="191.0"/><circle class="k68" cx="411.7" cy="165.1"/><circle class="k81" cx="425.6" cy="151.9"/><circle class="k75" cx="594.3" cy="140.0"/><circle class="k57" cx="606.0" cy="184.3"/><circle class="k77" cx="565.3" cy="127.0"/><circle class="k67" cx="486.8" cy="109.8"/><circle class="k65" cx="534.0" cy="169.1"/><circle class="k56" cx="512.5" cy="169.1"/><circle class="k94" cx="475.8" cy="36.7"/><circle class="k59" cx="604.7" cy="183.7"/><circle class="k78" cx="548.3" cy="169.0"/><circle class="k80" cx="573.7" cy="187.8"/><circle class="k55" cx="490.3" cy="167.8"/><circle class="k64" cx="581.1" cy="184.7"/><circle class="k78" cx="432.4" cy="154.7"/><circle class="k56" cx="560.0" cy="183.4"/><circle class="k60" cx="446.6" cy="151.2"/><circle class="k58" cx="475.5" cy="169.1"/><circle class="k59" cx="585.6" cy="182.7"/><circle class="k81" cx="471.8" cy="152.8"/><circle class="k81" cx="447.1" cy="155.7"/><circle class="k83" cx="563.7" cy="185.9"/><circle class="k62" cx="534.1" cy="112.8"/><circle class="k57" cx="568.7" cy="186.2"/><circle class="k91" cx="442.7" cy="85.3"/><circle class="k58" cx="536.3" cy="174.3"/><circle class="k67" cx="524.0" cy="100.7"/><circle class="k70" cx="481.9" cy="145.3"/><circle class="k69" cx="478.7" cy="124.0"/><circle class="k88" cx="540.1" cy="109.4"/><circle class="k81" cx="578.2" cy="180.0"/><circle class="k55" cx="626.1" cy="181.4"/><circle class="k65" cx="531.7" cy="169.8"/><circle class="k79" cx="441.0" cy="125.6"/><circle class="k65" cx="499.6" cy="162.3"/><circle class="k67" cx="563.8" cy="114.8"/><circle class="k55" cx="525.9" cy="170.3"/><circle class="k55" cx="602.2" cy="183.9"/><circle class="k62" cx="535.1" cy="120.4"/><circle class="k58" cx="553.3" cy="179.5"/><circle class="k71" cx="562.8" cy="177.2"/><circle class="k55" cx="533.3" cy="178.6"/><circle class="k80" cx="603.7" cy="192.4"/><circle class="k60" cx="493.4" cy="157.2"/><circle class="k59" cx="500.5" cy="169.1"/><circle class="k64" cx="577.1" cy="188.0"/><circle class="k69" cx="550.1" cy="120.0"/><circle class="k62" cx="497.8" cy="121.9"/><circle class="k70" cx="548.5" cy="139.3"/><circle class="k55" cx="584.3" cy="190.6"/><circle class="k82" cx="462.5" cy="142.6"/><circle class="k84" cx="472.4" cy="136.8"/><circle class="k80" cx="559.7" cy="182.7"/><circle class="k65" cx="548.5" cy="180.2"/><circle class="k81" cx="433.6" cy="148.1"/><circle class="k60" cx="450.6" cy="155.6"/><circle class="k62" cx="435.0" cy="102.7"/><circle class="k57" cx="609.1" cy="186.2"/><circle class="k91" cx="410.0" cy="57.2"/><circle class="k59" cx="417.8" cy="165.2"/><circle class="k58" cx="563.3" cy="187.2"/><circle class="k56" cx="539.3" cy="180.4"/><circle class="k65" cx="484.3" cy="158.4"/><circle class="k59" cx="502.4" cy="170.8"/><circle class="k55" cx="550.7" cy="181.7"/><circle class="k68" cx="522.3" cy="169.8"/><circle class="k58" cx="599.2" cy="174.1"/><circle class="k78" cx="565.3" cy="161.2"/><circle class="k57" cx="512.8" cy="177.5"/><circle class="k70" cx="615.4" cy="144.8"/><circle class="k79" cx="514.1" cy="136.7"/><circle class="k58" cx="452.8" cy="167.4"/><circle class="k78" cx="527.2" cy="167.5"/><circle class="k73" cx="488.7" cy="147.4"/><circle class="k77" cx="489.1" cy="130.6"/><circle class="k68" cx="608.3" cy="179.4"/><circle class="k60" cx="546.5" cy="143.1"/><circle class="k77" cx="523.3" cy="123.5"/><circle class="k61" cx="580.2" cy="100.9"/><circle class="k60" cx="546.7" cy="148.0"/><circle class="k95" cx="434.1" cy="32.7"/><circle class="k64" cx="544.5" cy="186.9"/><circle class="k59" cx="540.1" cy="167.2"/><circle class="k57" cx="597.4" cy="185.0"/><circle class="k78" cx="503.0" cy="173.4"/></g>
<circle cx="570.38" cy="173.57" r="2.60" fill="#2a2040" stroke="#c0243c" stroke-width="1.7" opacity="1.0"/>
<polygon points="577.22,176.61 574.28,181.71 580.17,181.71" fill="#3a2040" stroke="#c0243c" stroke-width="1.5" opacity="1.0"/>
<polygon points="588.64,179.62 585.44,185.16 591.84,185.16" fill="#1a2a50" stroke="#e8a820" stroke-width="1.5" opacity="1.0"/>
<path d="M588.64 4.50V240.30" stroke="#f0a030" stroke-width="1.9" stroke-dasharray="6.5,2.8"/>
<circle cx="595.49" cy="182.69" r="2.80" fill="#101a30" stroke="#e8a820" stroke-width="1.7" opacity="1.0"/>
<rect x="406.00" y="4.50" width="228.30" height="235.80" fill="none" stroke="#222" stroke-width="0.85"/>
<text x="406" y="254.4" font-size="10.4" text-anchor="middle" font-family="'DejaVu Serif', 'Liberation Serif', serif" fill="#000">80</text>
<text x="463.1" y="254.4" font-size="10.4" text-anchor="middle" font-family="'DejaVu Serif', 'Liberation Serif', serif" fill="#000">85</text>
<text x="520.1" y="254.4" font-size="10.4" text-anchor="middle" font-family="'DejaVu Serif', 'Liberation Serif', serif" fill="#000">90</text>
<text x="577.2" y="254.4" font-size="10.4" text-anchor="middle" font-family="'DejaVu Serif', 'Liberation Serif', serif" fill="#000">95</text>
<text x="634.3" y="254.4" font-size="10.4" text-anchor="middle" font-family="'DejaVu Serif', 'Liberation Serif', serif" fill="#000">100</text>
<path d="M406.00 240.30v3.50M463.07 240.30v3.50M520.15 240.30v3.50M577.22 240.30v3.50M634.30 240.30v3.50" stroke="#222" stroke-width="0.85"/>
<text x="399" y="244.2" font-size="10.4" text-anchor="end" font-family="'DejaVu Serif', 'Liberation Serif', serif" fill="#000">0</text>
<text x="399" y="204.9" font-size="10.4" text-anchor="end" font-family="'DejaVu Serif', 'Liberation Serif', serif" fill="#000">50</text>
<text x="399" y="165.6" font-size="10.4" text-anchor="end" font-family="'DejaVu Serif', 'Liberation Serif', serif" fill="#000">100</text>
<text x="399" y="126.3" font-size="10.4" text-anchor="end" font-family="'DejaVu Serif', 'Liberation Serif', serif" fill="#000">150</text>
<text x="399" y="87" font-size="10.4" text-anchor="end" font-family="'DejaVu Serif', 'Liberation Serif', serif" fill="#000">200</text>
<text x="399" y="47.7" font-size="10.4" text-anchor="end" font-family="'DejaVu Serif', 'Liberation Serif', serif" fill="#000">250</text>
<text x="399" y="8.4" font-size="10.4" text-anchor="end" font-family="'DejaVu Serif', 'Liberation Serif', serif" fill="#000">300</text>
<path d="M406.00 240.30h-3.50M406.00 201.00h-3.50M406.00 161.70h-3.50M406.00 122.40h-3.50M406.00 83.10h-3.50M406.00 43.80h-3.50M406.00 4.50h-3.50" stroke="#222" stroke-width="0.85"/>
<rect x="523.50" y="8.60" width="105.90" height="64.40" rx="2" fill="#fff" fill-opacity="0.9" stroke="#d0d0d0" stroke-width="0.8"/>
<path d="M527.20 15.30h15" stroke="#f0a030" stroke-width="1.6" stroke-dasharray="5.5,2.4"/>
<text x="550.7" y="17.3" font-size="8.4" text-anchor="start" font-family="'DejaVu Serif', 'Liberation Serif', serif" fill="#000">Sink requirement</text>
<polygon points="534.70,24.90 532.02,29.55 537.38,29.55" fill="#3a1a3a" stroke="#c0243c" stroke-width="1.0" opacity="1.0"/>
<text x="550.7" y="30.2" font-size="8.4" text-anchor="start" font-family="'DejaVu Serif', 'Liberation Serif', serif" fill="#000">MIP-212 (exp)</text>
<circle cx="534.70" cy="40.90" r="2.30" fill="#2a2a4a" stroke="#c0243c" stroke-width="1.0" opacity="1.0"/>
<text x="550.7" y="42.9" font-size="8.4" text-anchor="start" font-family="'DejaVu Serif', 'Liberation Serif', serif" fill="#000">MIP-212 (sim)</text>
<polygon points="534.70,50.20 532.02,54.85 537.38,54.85" fill="#2a2a3a" stroke="#e8a820" stroke-width="1.0" opacity="1.0"/>
<text x="550.7" y="55.5" font-size="8.4" text-anchor="start" font-family="'DejaVu Serif', 'Liberation Serif', serif" fill="#000">CALF-20 (exp)</text>
<circle cx="534.70" cy="65.80" r="2.30" fill="#1a2a4a" stroke="#e8a820" stroke-width="1.0" opacity="1.0"/>
<text x="550.7" y="67.8" font-size="8.4" text-anchor="start" font-family="'DejaVu Serif', 'Liberation Serif', serif" fill="#000">CALF-20 (sim)</text>
<text x="520.2" y="268.9" font-size="11.0" text-anchor="middle" font-family="'DejaVu Serif', 'Liberation Serif', serif" fill="#000">Purity in %</text>
<text x="0" y="0" text-anchor="middle" fill="#000" transform="translate(372.4,122.4) rotate(-90)"><tspan font-family="'DejaVu Serif', 'Liberation Serif', serif" font-size="11.00">Net carbon avoidance cost nCAC in </tspan><tspan font-family="'DejaVu Sans', 'Liberation Sans', sans-serif" font-size="11.00">€/t</tspan><tspan font-family="'DejaVu Sans', 'Liberation Sans', sans-serif" font-size="7.70" dy="2.42">CO</tspan><tspan font-family="'DejaVu Sans', 'Liberation Sans', sans-serif" font-size="5.39" dy="1.54">2</tspan></text>
<defs><linearGradient id="cbb" x1="0" y1="0" x2="0" y2="1"><stop offset="0.00" stop-color="#f4c9ea"/><stop offset="0.05" stop-color="#f6c2d6"/><stop offset="0.10" stop-color="#f7bbc2"/><stop offset="0.15" stop-color="#f6b1a8"/><stop offset="0.20" stop-color="#f3a78d"/><stop offset="0.25" stop-color="#e8a074"/><stop offset="0.30" stop-color="#d7985c"/><stop offset="0.35" stop-color="#c59348"/><stop offset="0.40" stop-color="#ae8d3e"/><stop offset="0.45" stop-color="#988835"/><stop offset="0.50" stop-color="#81813b"/><stop offset="0.55" stop-color="#6b7b42"/><stop offset="0.60" stop-color="#58744b"/><stop offset="0.65" stop-color="#466d53"/><stop offset="0.70" stop-color="#36655a"/><stop offset="0.75" stop-color="#285d5d"/><stop offset="0.80" stop-color="#1e535f"/><stop offset="0.85" stop-color="#18475d"/><stop offset="0.90" stop-color="#123a5a"/><stop offset="0.95" stop-color="#0b2a57"/><stop offset="1.00" stop-color="#031953"/></linearGradient></defs>
<rect x="648.60" y="4.50" width="12.00" height="235.80" fill="url(#cbb)" stroke="#222" stroke-width="0.85"/>
<text x="666.6" y="7.5" font-size="8.2" text-anchor="start" font-family="'DejaVu Serif', 'Liberation Serif', serif" fill="#000">8</text>
<text x="666.6" y="46.8" font-size="8.2" text-anchor="start" font-family="'DejaVu Serif', 'Liberation Serif', serif" fill="#000">7</text>
<text x="666.6" y="86.1" font-size="8.2" text-anchor="start" font-family="'DejaVu Serif', 'Liberation Serif', serif" fill="#000">6</text>
<text x="666.6" y="125.4" font-size="8.2" text-anchor="start" font-family="'DejaVu Serif', 'Liberation Serif', serif" fill="#000">5</text>
<text x="666.6" y="164.7" font-size="8.2" text-anchor="start" font-family="'DejaVu Serif', 'Liberation Serif', serif" fill="#000">4</text>
<text x="666.6" y="204" font-size="8.2" text-anchor="start" font-family="'DejaVu Serif', 'Liberation Serif', serif" fill="#000">3</text>
<text x="666.6" y="243.3" font-size="8.2" text-anchor="start" font-family="'DejaVu Serif', 'Liberation Serif', serif" fill="#000">2</text>
<path d="M660.60 4.50h3M660.60 43.80h3M660.60 83.10h3M660.60 122.40h3M660.60 161.70h3M660.60 201.00h3M660.60 240.30h3" stroke="#222" stroke-width="0.85"/>
<text x="0" y="0" text-anchor="middle" fill="#000" transform="translate(682.3,122.4) rotate(-90)"><tspan font-family="'DejaVu Serif', 'Liberation Serif', serif" font-size="9.30">Specific thermal energy for heating in </tspan><tspan font-family="'DejaVu Sans', 'Liberation Sans', sans-serif" font-size="9.30">MJ</tspan><tspan font-family="'DejaVu Sans', 'Liberation Sans', sans-serif" font-size="6.51" dy="2.05">th</tspan><tspan font-family="'DejaVu Sans', 'Liberation Sans', sans-serif" font-size="9.30" dy="-2.05">/kg</tspan><tspan font-family="'DejaVu Sans', 'Liberation Sans', sans-serif" font-size="6.51" dy="2.05">CO</tspan><tspan font-family="'DejaVu Sans', 'Liberation Sans', sans-serif" font-size="4.56" dy="1.30">2</tspan></text>
<text x="515.3" y="289.8" font-size="17" text-anchor="middle" font-family="'DejaVu Sans', 'Liberation Sans', sans-serif" fill="#000">(b)</text>
<clipPath id="cpsc"><rect x="48.00" y="310.00" width="222.80" height="230.40"/></clipPath>
<style>.sc circle{r:2.6px;stroke-width:0.9px}</style>
<g class="sc" clip-path="url(#cpsc)"><circle class="k46" cx="92.9" cy="460.0"/><circle class="k18" cx="133.1" cy="502.6"/><circle class="k26" cx="69.8" cy="407.5"/><circle class="k96" cx="144.9" cy="516.3"/><circle class="k39" cx="221.5" cy="504.0"/><circle class="k97" cx="88.8" cy="486.2"/><circle class="k35" cx="142.5" cy="510.6"/><circle class="k7" cx="107.7" cy="448.6"/><circle class="k15" cx="91.2" cy="483.3"/><circle class="k6" cx="125.4" cy="494.3"/><circle class="k45" cx="113.7" cy="512.1"/><circle class="k43" cx="102.9" cy="440.5"/><circle class="k13" cx="135.9" cy="511.7"/><circle class="k0" cx="198.1" cy="516.9"/><circle class="k22" cx="149.2" cy="514.4"/><circle class="k46" cx="127.6" cy="461.5"/><circle class="k44" cx="83.2" cy="445.3"/><circle class="k22" cx="104.8" cy="508.4"/><circle class="k15" cx="100.8" cy="473.8"/><circle class="k20" cx="184.0" cy="515.1"/><circle class="k29" cx="148.3" cy="457.8"/><circle class="k53" cx="167.1" cy="517.1"/><circle class="k25" cx="104.9" cy="439.4"/><circle class="k12" cx="158.4" cy="499.5"/><circle class="k35" cx="130.6" cy="511.0"/><circle class="k9" cx="108.5" cy="509.4"/><circle class="k42" cx="132.8" cy="451.7"/><circle class="k38" cx="101.3" cy="421.1"/><circle class="k39" cx="96.0" cy="446.9"/><circle class="k2" cx="108.9" cy="480.5"/><circle class="k24" cx="86.7" cy="363.9"/><circle class="k16" cx="99.4" cy="455.1"/><circle class="k39" cx="94.9" cy="441.3"/><circle class="k44" cx="110.4" cy="503.1"/><circle class="k98" cx="109.8" cy="496.2"/><circle class="k23" cx="71.5" cy="331.3"/><circle class="k45" cx="153.6" cy="514.3"/><circle class="k50" cx="108.9" cy="466.6"/><circle class="k7" cx="138.5" cy="478.6"/><circle class="k43" cx="131.0" cy="446.5"/><circle class="k15" cx="150.9" cy="498.4"/><circle class="k31" cx="240.9" cy="519.7"/><circle class="k7" cx="112.2" cy="480.7"/><circle class="k45" cx="142.6" cy="516.3"/><circle class="k43" cx="108.3" cy="431.0"/><circle class="k44" cx="70.5" cy="405.8"/><circle class="k9" cx="170.3" cy="511.0"/><circle class="k2" cx="197.3" cy="517.7"/><circle class="k18" cx="139.9" cy="497.6"/><circle class="k96" cx="94.9" cy="504.8"/><circle class="k9" cx="120.9" cy="505.7"/><circle class="k35" cx="164.0" cy="513.2"/><circle class="k29" cx="163.7" cy="488.6"/><circle class="k2" cx="215.1" cy="517.4"/><circle class="k1" cx="129.8" cy="454.6"/><circle class="k22" cx="116.0" cy="510.5"/><circle class="k41" cx="72.7" cy="379.5"/><circle class="k22" cx="162.2" cy="517.0"/><circle class="k26" cx="133.0" cy="465.8"/><circle class="k39" cx="158.4" cy="486.3"/><circle class="k35" cx="159.9" cy="515.5"/><circle class="k22" cx="153.9" cy="516.4"/><circle class="k10" cx="129.2" cy="503.1"/><circle class="k22" cx="137.5" cy="512.3"/><circle class="k6" cx="198.9" cy="508.4"/><circle class="k5" cx="165.6" cy="489.3"/><circle class="k28" cx="98.1" cy="426.0"/><circle class="k12" cx="147.2" cy="512.8"/><circle class="k18" cx="168.1" cy="513.9"/><circle class="k4" cx="181.0" cy="499.2"/><circle class="k24" cx="94.9" cy="448.6"/><circle class="k45" cx="162.0" cy="507.2"/><circle class="k22" cx="199.2" cy="518.2"/><circle class="k98" cx="143.5" cy="480.9"/><circle class="k20" cx="106.4" cy="507.8"/><circle class="k32" cx="124.5" cy="441.0"/><circle class="k16" cx="114.3" cy="454.4"/><circle class="k14" cx="135.5" cy="459.0"/><circle class="k35" cx="174.9" cy="515.3"/><circle class="k46" cx="123.1" cy="446.7"/><circle class="k22" cx="104.3" cy="505.1"/><circle class="k9" cx="155.0" cy="511.0"/><circle class="k35" cx="174.3" cy="516.5"/><circle class="k21" cx="98.9" cy="413.1"/><circle class="k24" cx="91.1" cy="384.2"/><circle class="k99" cx="115.6" cy="495.9"/><circle class="k100" cx="130.2" cy="502.5"/><circle class="k19" cx="119.0" cy="460.1"/><circle class="k26" cx="207.7" cy="445.5"/><circle class="k35" cx="164.0" cy="516.5"/><circle class="k0" cx="149.4" cy="515.6"/><circle class="k98" cx="122.3" cy="464.4"/><circle class="k32" cx="131.7" cy="497.7"/><circle class="k41" cx="91.0" cy="356.2"/><circle class="k45" cx="134.0" cy="515.5"/><circle class="k101" cx="135.2" cy="505.6"/><circle class="k36" cx="124.4" cy="461.0"/><circle class="k18" cx="186.5" cy="517.8"/><circle class="k43" cx="112.2" cy="458.9"/><circle class="k18" cx="161.8" cy="510.6"/><circle class="k9" cx="162.4" cy="515.6"/><circle class="k0" cx="125.1" cy="514.5"/><circle class="k35" cx="115.8" cy="510.7"/><circle class="k12" cx="181.4" cy="517.3"/><circle class="k38" cx="85.3" cy="474.1"/><circle class="k35" cx="121.5" cy="512.3"/><circle class="k19" cx="131.1" cy="468.4"/><circle class="k2" cx="129.8" cy="491.1"/><circle class="k19" cx="136.8" cy="453.6"/><circle class="k26" cx="64.6" cy="443.9"/><circle class="k15" cx="127.0" cy="474.2"/><circle class="k22" cx="181.3" cy="517.6"/><circle class="k24" cx="100.3" cy="404.9"/><circle class="k31" cx="219.7" cy="515.9"/><circle class="k6" cx="111.9" cy="480.2"/><circle class="k7" cx="75.5" cy="336.9"/><circle class="k96" cx="164.3" cy="516.1"/><circle class="k41" cx="104.6" cy="454.6"/><circle class="k9" cx="116.5" cy="513.2"/><circle class="k22" cx="98.0" cy="492.8"/><circle class="k23" cx="119.9" cy="468.1"/><circle class="k20" cx="147.7" cy="512.5"/><circle class="k44" cx="233.2" cy="513.5"/><circle class="k7" cx="140.1" cy="491.9"/><circle class="k12" cx="169.1" cy="517.0"/><circle class="k31" cx="124.5" cy="489.1"/><circle class="k22" cx="134.8" cy="512.2"/><circle class="k22" cx="110.4" cy="510.3"/><circle class="k0" cx="115.4" cy="504.6"/><circle class="k1" cx="214.7" cy="510.2"/><circle class="k24" cx="88.3" cy="385.8"/><circle class="k12" cx="149.8" cy="509.6"/><circle class="k20" cx="84.9" cy="493.2"/><circle class="k4" cx="89.3" cy="407.7"/><circle class="k25" cx="136.3" cy="489.4"/><circle class="k46" cx="174.4" cy="469.3"/><circle class="k52" cx="142.4" cy="514.4"/><circle class="k35" cx="165.2" cy="514.5"/><circle class="k24" cx="88.9" cy="356.9"/><circle class="k101" cx="132.7" cy="508.3"/><circle class="k45" cx="118.3" cy="508.3"/><circle class="k12" cx="161.8" cy="514.2"/><circle class="k12" cx="120.7" cy="502.8"/><circle class="k23" cx="245.9" cy="460.3"/><circle class="k2" cx="76.0" cy="442.4"/><circle class="k8" cx="129.6" cy="461.7"/><circle class="k1" cx="92.1" cy="452.1"/><circle class="k9" cx="143.0" cy="508.8"/><circle class="k6" cx="96.0" cy="490.5"/><circle class="k3" cx="177.4" cy="509.8"/><circle class="k19" cx="134.3" cy="454.3"/><circle class="k39" cx="141.2" cy="462.0"/><circle class="k12" cx="140.5" cy="513.5"/><circle class="k4" cx="121.4" cy="475.4"/><circle class="k96" cx="125.7" cy="513.7"/><circle class="k14" cx="83.6" cy="409.2"/><circle class="k43" cx="70.7" cy="409.5"/><circle class="k53" cx="114.2" cy="510.4"/><circle class="k20" cx="150.4" cy="511.0"/><circle class="k51" cx="118.3" cy="464.9"/><circle class="k13" cx="114.3" cy="507.3"/><circle class="k0" cx="153.1" cy="515.5"/><circle class="k12" cx="164.4" cy="509.0"/><circle class="k53" cx="160.7" cy="516.1"/><circle class="k30" cx="79.4" cy="320.3"/><circle class="k22" cx="168.4" cy="517.5"/><circle class="k102" cx="140.7" cy="507.9"/><circle class="k22" cx="154.7" cy="516.3"/><circle class="k7" cx="75.1" cy="355.8"/><circle class="k13" cx="122.8" cy="510.7"/><circle class="k9" cx="192.0" cy="518.2"/><circle class="k25" cx="121.0" cy="473.0"/><circle class="k31" cx="149.7" cy="486.9"/><circle class="k41" cx="67.9" cy="446.6"/><circle class="k5" cx="97.6" cy="432.3"/><circle class="k13" cx="146.4" cy="510.6"/><circle class="k24" cx="98.1" cy="400.1"/><circle class="k20" cx="132.3" cy="511.9"/><circle class="k96" cx="118.7" cy="512.9"/><circle class="k47" cx="97.9" cy="492.6"/><circle class="k41" cx="64.1" cy="341.9"/><circle class="k1" cx="98.4" cy="420.9"/><circle class="k45" cx="151.7" cy="515.1"/><circle class="k38" cx="93.9" cy="321.3"/><circle class="k53" cx="124.6" cy="513.6"/><circle class="k13" cx="80.5" cy="481.7"/><circle class="k12" cx="163.0" cy="506.8"/><circle class="k22" cx="159.0" cy="516.9"/><circle class="k13" cx="105.0" cy="509.3"/><circle class="k0" cx="123.5" cy="507.8"/><circle class="k97" cx="129.5" cy="496.1"/><circle class="k35" cx="89.9" cy="466.8"/><circle class="k24" cx="115.4" cy="432.2"/><circle class="k3" cx="72.6" cy="451.5"/><circle class="k53" cx="135.3" cy="508.8"/><circle class="k44" cx="122.1" cy="498.7"/><circle class="k0" cx="164.6" cy="512.9"/><circle class="k8" cx="111.7" cy="503.1"/><circle class="k7" cx="82.8" cy="432.9"/><circle class="k22" cx="110.3" cy="509.8"/><circle class="k0" cx="195.6" cy="514.1"/><circle class="k26" cx="114.7" cy="489.3"/><circle class="k54" cx="107.6" cy="452.7"/><circle class="k19" cx="87.5" cy="391.8"/><circle class="k3" cx="103.5" cy="478.5"/><circle class="k8" cx="105.1" cy="420.9"/><circle class="k20" cx="151.1" cy="512.5"/><circle class="k14" cx="165.9" cy="478.6"/><circle class="k100" cx="117.2" cy="495.4"/><circle class="k0" cx="168.4" cy="517.0"/><circle class="k9" cx="129.7" cy="511.6"/><circle class="k0" cx="104.8" cy="499.6"/><circle class="k52" cx="120.7" cy="513.8"/><circle class="k53" cx="159.5" cy="515.0"/><circle class="k22" cx="172.2" cy="514.7"/><circle class="k19" cx="170.3" cy="497.7"/><circle class="k22" cx="181.4" cy="516.8"/><circle class="k22" cx="105.4" cy="508.8"/><circle class="k10" cx="209.2" cy="509.9"/><circle class="k98" cx="167.5" cy="509.4"/><circle class="k3" cx="123.2" cy="512.2"/><circle class="k37" cx="156.6" cy="507.1"/><circle class="k1" cx="216.2" cy="512.2"/><circle class="k15" cx="111.1" cy="468.0"/><circle class="k6" cx="186.5" cy="498.3"/><circle class="k16" cx="84.1" cy="386.6"/><circle class="k10" cx="88.0" cy="479.1"/><circle class="k35" cx="155.7" cy="515.4"/><circle class="k52" cx="145.3" cy="514.8"/><circle class="k24" cx="84.6" cy="350.1"/><circle class="k26" cx="92.6" cy="407.7"/><circle class="k54" cx="89.1" cy="487.8"/><circle class="k6" cx="121.9" cy="491.8"/><circle class="k53" cx="107.5" cy="509.0"/><circle class="k26" cx="82.8" cy="449.3"/><circle class="k12" cx="87.8" cy="474.2"/><circle class="k6" cx="155.9" cy="497.4"/><circle class="k103" cx="126.4" cy="480.7"/><circle class="k7" cx="116.5" cy="481.1"/><circle class="k17" cx="123.1" cy="459.3"/><circle class="k13" cx="131.2" cy="513.4"/><circle class="k32" cx="91.3" cy="461.8"/><circle class="k38" cx="152.9" cy="490.0"/><circle class="k35" cx="125.8" cy="512.0"/><circle class="k12" cx="94.8" cy="471.8"/><circle class="k5" cx="90.7" cy="352.9"/><circle class="k20" cx="146.4" cy="513.2"/><circle class="k22" cx="168.8" cy="517.4"/><circle class="k13" cx="168.7" cy="515.0"/><circle class="k40" cx="171.9" cy="504.8"/><circle class="k31" cx="163.1" cy="489.2"/><circle class="k6" cx="95.4" cy="472.2"/><circle class="k33" cx="94.5" cy="415.2"/><circle class="k2" cx="147.1" cy="505.5"/><circle class="k20" cx="78.8" cy="484.0"/><circle class="k23" cx="123.3" cy="467.3"/><circle class="k44" cx="83.3" cy="418.4"/><circle class="k13" cx="79.0" cy="451.1"/><circle class="k22" cx="144.2" cy="513.9"/><circle class="k9" cx="155.6" cy="512.4"/><circle class="k22" cx="87.0" cy="494.1"/><circle class="k12" cx="80.0" cy="476.5"/><circle class="k96" cx="115.3" cy="511.2"/><circle class="k24" cx="81.5" cy="396.4"/><circle class="k22" cx="121.9" cy="509.7"/><circle class="k13" cx="174.4" cy="516.6"/><circle class="k20" cx="85.2" cy="488.5"/><circle class="k0" cx="170.0" cy="516.1"/><circle class="k97" cx="84.2" cy="474.1"/><circle class="k36" cx="160.8" cy="471.4"/><circle class="k30" cx="67.6" cy="386.6"/><circle class="k51" cx="104.0" cy="491.4"/><circle class="k22" cx="136.2" cy="512.9"/><circle class="k45" cx="110.2" cy="508.9"/><circle class="k23" cx="260.8" cy="435.8"/><circle class="k12" cx="188.3" cy="509.8"/><circle class="k50" cx="174.6" cy="458.5"/><circle class="k2" cx="89.7" cy="473.9"/><circle class="k45" cx="112.5" cy="509.9"/><circle class="k46" cx="133.1" cy="457.9"/><circle class="k30" cx="98.8" cy="439.6"/><circle class="k45" cx="156.6" cy="514.4"/><circle class="k22" cx="154.3" cy="513.2"/><circle class="k18" cx="120.1" cy="501.2"/><circle class="k9" cx="182.0" cy="514.3"/><circle class="k5" cx="140.1" cy="457.4"/><circle class="k38" cx="113.1" cy="494.3"/><circle class="k0" cx="129.0" cy="509.8"/><circle class="k2" cx="128.3" cy="493.8"/><circle class="k38" cx="78.4" cy="461.2"/><circle class="k20" cx="183.1" cy="513.2"/><circle class="k54" cx="94.5" cy="468.9"/><circle class="k4" cx="115.4" cy="486.9"/><circle class="k40" cx="89.6" cy="393.6"/><circle class="k35" cx="106.6" cy="503.8"/><circle class="k21" cx="82.2" cy="448.5"/><circle class="k10" cx="200.7" cy="518.0"/><circle class="k101" cx="126.0" cy="501.7"/><circle class="k12" cx="164.7" cy="515.6"/><circle class="k22" cx="109.3" cy="496.5"/><circle class="k4" cx="101.3" cy="452.4"/><circle class="k20" cx="149.4" cy="515.8"/><circle class="k96" cx="136.9" cy="515.3"/><circle class="k31" cx="178.1" cy="515.9"/><circle class="k45" cx="118.2" cy="513.4"/><circle class="k45" cx="104.5" cy="509.3"/><circle class="k35" cx="154.4" cy="514.4"/><circle class="k18" cx="187.4" cy="506.6"/><circle class="k25" cx="127.1" cy="480.9"/><circle class="k36" cx="104.4" cy="439.9"/><circle class="k13" cx="95.5" cy="495.3"/><circle class="k24" cx="74.1" cy="336.7"/><circle class="k52" cx="104.4" cy="507.1"/><circle class="k12" cx="155.7" cy="515.0"/><circle class="k38" cx="104.8" cy="491.4"/><circle class="k16" cx="78.3" cy="467.0"/><circle class="k3" cx="110.4" cy="502.3"/><circle class="k30" cx="102.7" cy="446.6"/><circle class="k33" cx="164.2" cy="462.2"/><circle class="k20" cx="111.0" cy="507.2"/><circle class="k6" cx="144.9" cy="495.3"/><circle class="k9" cx="145.7" cy="514.7"/><circle class="k24" cx="71.9" cy="410.3"/><circle class="k7" cx="71.1" cy="409.0"/><circle class="k25" cx="163.2" cy="503.8"/><circle class="k13" cx="147.4" cy="515.9"/><circle class="k45" cx="133.7" cy="512.5"/><circle class="k98" cx="124.6" cy="460.1"/><circle class="k28" cx="108.6" cy="444.6"/><circle class="k20" cx="125.4" cy="514.2"/><circle class="k12" cx="184.6" cy="515.3"/><circle class="k22" cx="109.9" cy="511.9"/><circle class="k35" cx="136.0" cy="515.4"/><circle class="k53" cx="136.3" cy="514.0"/><circle class="k15" cx="120.9" cy="507.4"/><circle class="k13" cx="126.1" cy="499.8"/><circle class="k12" cx="174.5" cy="517.5"/><circle class="k4" cx="121.4" cy="472.9"/><circle class="k36" cx="192.3" cy="501.6"/><circle class="k9" cx="63.6" cy="413.6"/><circle class="k45" cx="141.1" cy="515.7"/><circle class="k39" cx="211.5" cy="501.2"/><circle class="k41" cx="146.1" cy="499.7"/><circle class="k50" cx="103.1" cy="497.9"/><circle class="k23" cx="136.6" cy="459.8"/><circle class="k2" cx="170.8" cy="513.7"/><circle class="k14" cx="121.7" cy="472.7"/><circle class="k44" cx="178.3" cy="513.5"/><circle class="k7" cx="106.7" cy="453.3"/><circle class="k44" cx="130.6" cy="501.4"/><circle class="k22" cx="122.3" cy="509.1"/><circle class="k51" cx="99.1" cy="493.3"/><circle class="k6" cx="164.5" cy="505.8"/><circle class="k15" cx="178.8" cy="492.5"/><circle class="k19" cx="66.8" cy="332.0"/><circle class="k15" cx="124.6" cy="506.3"/><circle class="k18" cx="132.1" cy="503.3"/><circle class="k23" cx="151.4" cy="416.0"/><circle class="k44" cx="81.0" cy="447.5"/><circle class="k30" cx="77.6" cy="455.3"/><circle class="k24" cx="62.9" cy="332.5"/><circle class="k31" cx="85.9" cy="423.2"/><circle class="k29" cx="98.6" cy="434.5"/><circle class="k10" cx="184.5" cy="512.0"/><circle class="k28" cx="103.2" cy="455.2"/><circle class="k18" cx="136.0" cy="512.7"/><circle class="k35" cx="186.6" cy="517.5"/><circle class="k0" cx="128.4" cy="512.5"/><circle class="k9" cx="131.9" cy="511.3"/><circle class="k52" cx="133.7" cy="515.2"/><circle class="k54" cx="134.0" cy="489.4"/><circle class="k2" cx="100.9" cy="485.8"/><circle class="k52" cx="122.9" cy="510.1"/><circle class="k37" cx="110.2" cy="485.5"/><circle class="k9" cx="107.9" cy="510.8"/><circle class="k10" cx="119.5" cy="492.1"/><circle class="k8" cx="141.1" cy="482.7"/><circle class="k31" cx="71.2" cy="370.0"/><circle class="k40" cx="160.8" cy="486.5"/><circle class="k31" cx="97.9" cy="461.8"/><circle class="k35" cx="122.6" cy="507.0"/><circle class="k12" cx="143.4" cy="510.2"/><circle class="k20" cx="131.9" cy="513.7"/><circle class="k24" cx="82.3" cy="359.2"/><circle class="k52" cx="155.9" cy="512.0"/><circle class="k45" cx="131.1" cy="510.0"/><circle class="k6" cx="220.0" cy="517.0"/><circle class="k41" cx="77.2" cy="344.1"/><circle class="k10" cx="230.2" cy="517.3"/><circle class="k13" cx="155.5" cy="509.2"/><circle class="k10" cx="219.1" cy="513.6"/><circle class="k45" cx="130.1" cy="513.8"/><circle class="k16" cx="76.7" cy="408.5"/><circle class="k51" cx="134.6" cy="457.7"/><circle class="k24" cx="100.1" cy="413.9"/><circle class="k28" cx="141.2" cy="473.2"/><circle class="k12" cx="107.5" cy="510.3"/><circle class="k98" cx="95.5" cy="491.1"/><circle class="k14" cx="75.5" cy="391.3"/><circle class="k44" cx="83.0" cy="452.9"/><circle class="k24" cx="85.4" cy="368.7"/><circle class="k0" cx="157.2" cy="514.1"/><circle class="k20" cx="158.6" cy="516.2"/><circle class="k26" cx="81.8" cy="459.7"/><circle class="k26" cx="111.3" cy="441.2"/><circle class="k20" cx="139.5" cy="514.8"/><circle class="k52" cx="163.0" cy="516.6"/><circle class="k26" cx="210.8" cy="442.8"/><circle class="k53" cx="62.4" cy="440.0"/><circle class="k31" cx="215.3" cy="516.0"/><circle class="k8" cx="129.8" cy="485.1"/><circle class="k14" cx="134.3" cy="440.3"/><circle class="k6" cx="208.7" cy="513.5"/><circle class="k23" cx="143.9" cy="442.5"/><circle class="k24" cx="64.3" cy="443.2"/><circle class="k34" cx="134.7" cy="447.5"/><circle class="k52" cx="153.4" cy="515.2"/><circle class="k28" cx="77.4" cy="358.6"/><circle class="k22" cx="115.8" cy="508.7"/><circle class="k53" cx="72.7" cy="474.4"/><circle class="k13" cx="141.9" cy="513.4"/><circle class="k2" cx="193.3" cy="516.0"/><circle class="k46" cx="120.3" cy="449.2"/><circle class="k22" cx="106.9" cy="508.7"/><circle class="k20" cx="137.7" cy="514.2"/><circle class="k14" cx="96.7" cy="488.5"/><circle class="k43" cx="103.9" cy="443.8"/><circle class="k97" cx="127.5" cy="473.5"/><circle class="k96" cx="110.0" cy="510.1"/><circle class="k45" cx="164.0" cy="511.4"/><circle class="k35" cx="135.0" cy="512.6"/><circle class="k101" cx="147.0" cy="508.5"/><circle class="k24" cx="90.2" cy="368.0"/><circle class="k35" cx="151.7" cy="514.1"/><circle class="k47" cx="145.2" cy="454.6"/><circle class="k1" cx="114.2" cy="474.8"/><circle class="k43" cx="125.2" cy="453.4"/><circle class="k101" cx="130.5" cy="507.3"/><circle class="k1" cx="92.2" cy="457.2"/><circle class="k34" cx="81.3" cy="436.4"/><circle class="k1" cx="71.4" cy="340.1"/><circle class="k12" cx="118.2" cy="510.5"/><circle class="k96" cx="100.6" cy="502.9"/><circle class="k9" cx="176.9" cy="517.1"/><circle class="k54" cx="168.7" cy="478.7"/><circle class="k4" cx="145.3" cy="483.6"/><circle class="k19" cx="95.2" cy="421.1"/><circle class="k52" cx="81.9" cy="489.9"/><circle class="k24" cx="71.2" cy="418.9"/><circle class="k0" cx="79.7" cy="465.2"/><circle class="k34" cx="71.7" cy="345.8"/><circle class="k4" cx="73.6" cy="399.7"/><circle class="k98" cx="112.6" cy="503.7"/><circle class="k12" cx="99.1" cy="504.3"/><circle class="k52" cx="113.7" cy="513.2"/><circle class="k10" cx="175.4" cy="517.2"/><circle class="k20" cx="124.7" cy="511.6"/><circle class="k25" cx="76.9" cy="410.0"/><circle class="k12" cx="88.2" cy="477.5"/><circle class="k10" cx="224.7" cy="519.2"/><circle class="k98" cx="146.2" cy="490.4"/><circle class="k25" cx="97.7" cy="484.6"/><circle class="k18" cx="159.0" cy="506.9"/><circle class="k20" cx="156.9" cy="514.7"/><circle class="k4" cx="100.4" cy="443.0"/><circle class="k18" cx="161.5" cy="517.2"/><circle class="k24" cx="95.4" cy="424.7"/><circle class="k43" cx="244.8" cy="380.3"/><circle class="k104" cx="120.0" cy="505.1"/><circle class="k47" cx="121.3" cy="463.7"/><circle class="k19" cx="114.8" cy="469.6"/><circle class="k0" cx="76.4" cy="478.8"/><circle class="k32" cx="113.9" cy="479.6"/><circle class="k53" cx="180.2" cy="515.0"/><circle class="k10" cx="149.5" cy="499.9"/><circle class="k45" cx="124.0" cy="509.5"/><circle class="k24" cx="73.8" cy="349.7"/><circle class="k0" cx="207.1" cy="517.1"/><circle class="k25" cx="224.1" cy="513.0"/><circle class="k96" cx="110.6" cy="510.9"/><circle class="k24" cx="120.5" cy="441.2"/><circle class="k43" cx="133.4" cy="321.5"/><circle class="k44" cx="178.2" cy="508.9"/><circle class="k19" cx="103.5" cy="441.7"/><circle class="k0" cx="106.6" cy="498.4"/><circle class="k103" cx="137.0" cy="501.9"/><circle class="k0" cx="115.2" cy="513.5"/><circle class="k35" cx="125.3" cy="512.1"/><circle class="k24" cx="85.0" cy="375.8"/><circle class="k26" cx="70.8" cy="417.8"/><circle class="k23" cx="69.3" cy="377.4"/><circle class="k6" cx="235.6" cy="510.6"/><circle class="k18" cx="175.6" cy="513.7"/><circle class="k23" cx="102.9" cy="454.5"/><circle class="k32" cx="76.6" cy="404.4"/><circle class="k25" cx="122.0" cy="486.0"/><circle class="k9" cx="143.0" cy="510.0"/><circle class="k54" cx="156.5" cy="500.1"/><circle class="k18" cx="202.4" cy="518.7"/><circle class="k3" cx="189.8" cy="517.9"/><circle class="k48" cx="218.7" cy="500.4"/><circle class="k13" cx="128.5" cy="514.9"/><circle class="k0" cx="149.2" cy="514.0"/><circle class="k18" cx="94.8" cy="504.8"/><circle class="k47" cx="143.4" cy="466.8"/><circle class="k24" cx="106.4" cy="444.9"/><circle class="k16" cx="63.7" cy="359.1"/><circle class="k32" cx="101.9" cy="485.6"/><circle class="k101" cx="151.6" cy="510.6"/><circle class="k25" cx="70.8" cy="401.5"/><circle class="k51" cx="97.1" cy="407.9"/><circle class="k24" cx="92.1" cy="421.4"/><circle class="k32" cx="101.6" cy="462.9"/><circle class="k0" cx="142.0" cy="505.2"/><circle class="k39" cx="133.7" cy="458.4"/><circle class="k13" cx="122.9" cy="514.3"/><circle class="k104" cx="105.1" cy="495.2"/><circle class="k12" cx="186.8" cy="516.3"/><circle class="k13" cx="125.9" cy="509.2"/><circle class="k25" cx="106.6" cy="483.8"/><circle class="k50" cx="113.1" cy="493.7"/><circle class="k5" cx="100.8" cy="475.3"/><circle class="k35" cx="120.4" cy="509.4"/><circle class="k24" cx="73.5" cy="342.5"/><circle class="k9" cx="65.3" cy="395.6"/><circle class="k31" cx="201.4" cy="518.1"/><circle class="k96" cx="114.8" cy="511.9"/><circle class="k12" cx="174.6" cy="513.8"/><circle class="k1" cx="149.0" cy="468.8"/><circle class="k6" cx="136.9" cy="507.2"/><circle class="k101" cx="148.8" cy="510.5"/><circle class="k18" cx="169.7" cy="502.2"/><circle class="k35" cx="165.0" cy="515.7"/><circle class="k31" cx="173.7" cy="512.3"/><circle class="k47" cx="153.0" cy="482.9"/><circle class="k6" cx="227.5" cy="513.1"/><circle class="k45" cx="145.5" cy="513.3"/><circle class="k20" cx="109.6" cy="507.0"/><circle class="k44" cx="154.3" cy="488.3"/><circle class="k0" cx="74.4" cy="444.0"/><circle class="k9" cx="88.5" cy="466.9"/><circle class="k26" cx="101.5" cy="474.2"/><circle class="k44" cx="206.5" cy="512.8"/><circle class="k29" cx="214.2" cy="505.5"/><circle class="k22" cx="83.0" cy="476.1"/><circle class="k22" cx="142.7" cy="511.3"/><circle class="k13" cx="170.1" cy="515.6"/><circle class="k21" cx="64.6" cy="323.8"/><circle class="k96" cx="122.0" cy="509.6"/><circle class="k19" cx="163.5" cy="482.3"/><circle class="k38" cx="180.4" cy="484.5"/><circle class="k0" cx="128.7" cy="509.3"/><circle class="k16" cx="90.0" cy="436.5"/><circle class="k2" cx="73.1" cy="409.9"/><circle class="k46" cx="91.2" cy="462.6"/><circle class="k35" cx="152.4" cy="513.4"/><circle class="k32" cx="89.5" cy="440.3"/><circle class="k96" cx="144.7" cy="514.4"/><circle class="k39" cx="83.5" cy="401.4"/><circle class="k35" cx="139.3" cy="515.0"/><circle class="k96" cx="114.5" cy="512.0"/><circle class="k20" cx="120.3" cy="510.7"/><circle class="k35" cx="103.1" cy="508.7"/><circle class="k1" cx="93.2" cy="464.2"/><circle class="k45" cx="130.4" cy="514.6"/><circle class="k24" cx="131.5" cy="453.4"/><circle class="k3" cx="177.7" cy="515.8"/><circle class="k23" cx="65.9" cy="402.3"/><circle class="k8" cx="82.2" cy="451.3"/><circle class="k23" cx="129.5" cy="445.8"/><circle class="k20" cx="111.8" cy="512.7"/><circle class="k45" cx="95.7" cy="503.0"/><circle class="k25" cx="194.4" cy="518.4"/><circle class="k18" cx="146.2" cy="510.8"/><circle class="k43" cx="93.4" cy="427.8"/><circle class="k52" cx="161.8" cy="516.4"/><circle class="k35" cx="139.5" cy="514.6"/><circle class="k2" cx="153.2" cy="508.5"/><circle class="k26" cx="118.5" cy="495.7"/><circle class="k35" cx="108.4" cy="508.0"/><circle class="k96" cx="134.0" cy="514.7"/><circle class="k100" cx="121.8" cy="488.3"/><circle class="k41" cx="102.6" cy="419.1"/><circle class="k46" cx="107.9" cy="489.5"/><circle class="k18" cx="147.3" cy="511.0"/><circle class="k23" cx="78.7" cy="419.6"/><circle class="k97" cx="114.2" cy="501.2"/><circle class="k3" cx="124.8" cy="501.9"/><circle class="k15" cx="99.0" cy="493.1"/><circle class="k24" cx="66.4" cy="403.7"/><circle class="k45" cx="148.1" cy="513.7"/><circle class="k3" cx="127.6" cy="504.2"/><circle class="k13" cx="186.6" cy="513.8"/><circle class="k44" cx="193.7" cy="511.1"/><circle class="k40" cx="199.7" cy="518.4"/><circle class="k13" cx="128.8" cy="513.7"/><circle class="k13" cx="123.1" cy="508.9"/><circle class="k34" cx="66.6" cy="390.9"/><circle class="k22" cx="86.8" cy="491.6"/><circle class="k9" cx="185.8" cy="516.8"/><circle class="k50" cx="110.4" cy="491.4"/><circle class="k9" cx="176.3" cy="515.4"/><circle class="k25" cx="171.0" cy="513.5"/><circle class="k24" cx="72.1" cy="355.3"/><circle class="k53" cx="205.4" cy="516.7"/><circle class="k2" cx="105.3" cy="496.5"/><circle class="k2" cx="76.5" cy="455.4"/><circle class="k37" cx="135.9" cy="471.9"/><circle class="k7" cx="153.7" cy="472.8"/><circle class="k31" cx="80.3" cy="427.7"/><circle class="k34" cx="107.5" cy="413.2"/><circle class="k9" cx="83.3" cy="486.7"/><circle class="k44" cx="130.4" cy="496.6"/><circle class="k0" cx="159.4" cy="516.7"/><circle class="k29" cx="114.9" cy="460.4"/><circle class="k13" cx="151.3" cy="515.2"/><circle class="k36" cx="135.7" cy="462.5"/><circle class="k13" cx="90.3" cy="483.9"/><circle class="k40" cx="94.0" cy="471.4"/><circle class="k32" cx="137.5" cy="482.9"/><circle class="k45" cx="156.0" cy="514.2"/><circle class="k43" cx="116.3" cy="344.6"/><circle class="k45" cx="64.5" cy="448.2"/><circle class="k43" cx="135.0" cy="489.1"/><circle class="k19" cx="105.3" cy="446.2"/><circle class="k24" cx="73.4" cy="372.4"/><circle class="k2" cx="148.8" cy="516.0"/><circle class="k45" cx="195.6" cy="517.1"/><circle class="k10" cx="144.9" cy="496.5"/><circle class="k24" cx="95.9" cy="351.7"/><circle class="k35" cx="157.4" cy="516.0"/><circle class="k9" cx="174.1" cy="515.2"/><circle class="k20" cx="132.8" cy="515.3"/><circle class="k97" cx="125.3" cy="475.3"/><circle class="k6" cx="193.4" cy="505.4"/><circle class="k96" cx="153.3" cy="515.5"/><circle class="k20" cx="136.2" cy="515.2"/><circle class="k16" cx="167.0" cy="481.4"/><circle class="k52" cx="169.0" cy="517.4"/><circle class="k22" cx="124.7" cy="511.6"/><circle class="k41" cx="122.2" cy="429.7"/><circle class="k8" cx="121.1" cy="483.4"/><circle class="k46" cx="97.9" cy="468.5"/><circle class="k34" cx="75.2" cy="329.4"/><circle class="k35" cx="87.6" cy="486.0"/><circle class="k3" cx="74.8" cy="412.9"/><circle class="k9" cx="187.4" cy="514.8"/><circle class="k10" cx="239.3" cy="519.5"/><circle class="k33" cx="105.6" cy="431.0"/><circle class="k0" cx="161.0" cy="509.6"/><circle class="k44" cx="206.3" cy="514.2"/><circle class="k13" cx="138.8" cy="511.6"/><circle class="k32" cx="138.2" cy="480.2"/><circle class="k44" cx="206.8" cy="517.7"/><circle class="k96" cx="140.9" cy="514.6"/><circle class="k3" cx="102.8" cy="494.7"/><circle class="k7" cx="148.9" cy="460.0"/><circle class="k53" cx="104.9" cy="506.7"/><circle class="k14" cx="158.1" cy="481.5"/><circle class="k17" cx="110.7" cy="453.2"/><circle class="k20" cx="163.0" cy="515.8"/><circle class="k44" cx="192.1" cy="516.4"/><circle class="k18" cx="134.8" cy="509.9"/><circle class="k47" cx="72.9" cy="453.0"/><circle class="k39" cx="110.0" cy="456.8"/><circle class="k12" cx="168.5" cy="513.2"/><circle class="k0" cx="116.4" cy="512.8"/><circle class="k39" cx="164.0" cy="489.5"/><circle class="k13" cx="112.1" cy="510.9"/><circle class="k12" cx="120.3" cy="508.9"/><circle class="k96" cx="149.8" cy="515.8"/><circle class="k41" cx="103.4" cy="432.1"/><circle class="k44" cx="136.3" cy="491.5"/><circle class="k96" cx="151.8" cy="515.8"/><circle class="k20" cx="158.3" cy="516.0"/><circle class="k9" cx="166.5" cy="517.4"/><circle class="k96" cx="126.2" cy="512.1"/><circle class="k1" cx="190.9" cy="507.5"/><circle class="k44" cx="124.8" cy="470.3"/><circle class="k37" cx="137.9" cy="473.8"/><circle class="k0" cx="89.8" cy="487.6"/><circle class="k22" cx="120.2" cy="509.9"/><circle class="k96" cx="115.3" cy="512.3"/><circle class="k35" cx="118.4" cy="508.9"/><circle class="k44" cx="92.4" cy="466.1"/><circle class="k34" cx="65.5" cy="349.2"/><circle class="k29" cx="157.6" cy="471.9"/><circle class="k40" cx="93.0" cy="460.2"/><circle class="k24" cx="104.6" cy="417.3"/><circle class="k12" cx="96.9" cy="479.2"/><circle class="k36" cx="87.5" cy="397.3"/><circle class="k35" cx="129.2" cy="507.8"/><circle class="k9" cx="169.2" cy="517.1"/><circle class="k23" cx="102.7" cy="482.9"/><circle class="k44" cx="105.3" cy="483.1"/><circle class="k38" cx="105.7" cy="489.2"/><circle class="k17" cx="109.9" cy="447.6"/><circle class="k53" cx="154.5" cy="516.4"/><circle class="k18" cx="177.5" cy="517.4"/><circle class="k32" cx="119.6" cy="506.1"/><circle class="k12" cx="142.9" cy="505.0"/><circle class="k0" cx="165.1" cy="510.5"/><circle class="k9" cx="142.4" cy="511.6"/><circle class="k40" cx="149.3" cy="475.5"/><circle class="k45" cx="108.4" cy="504.4"/><circle class="k45" cx="163.9" cy="516.1"/><circle class="k10" cx="70.0" cy="447.5"/><circle class="k53" cx="105.6" cy="509.5"/><circle class="k52" cx="138.6" cy="515.3"/><circle class="k35" cx="122.7" cy="511.3"/><circle class="k98" cx="157.1" cy="508.3"/><circle class="k51" cx="152.5" cy="444.4"/><circle class="k8" cx="73.0" cy="440.0"/><circle class="k12" cx="209.6" cy="518.6"/><circle class="k96" cx="150.5" cy="516.3"/><circle class="k51" cx="136.3" cy="495.9"/><circle class="k24" cx="67.2" cy="421.3"/><circle class="k18" cx="154.5" cy="510.3"/><circle class="k3" cx="224.6" cy="519.3"/><circle class="k17" cx="76.7" cy="351.1"/><circle class="k2" cx="99.3" cy="483.2"/><circle class="k44" cx="147.8" cy="504.3"/><circle class="k96" cx="137.7" cy="515.5"/><circle class="k96" cx="112.6" cy="509.3"/><circle class="k3" cx="234.0" cy="518.9"/><circle class="k5" cx="151.1" cy="488.9"/><circle class="k0" cx="142.4" cy="515.4"/><circle class="k53" cx="133.8" cy="513.2"/><circle class="k18" cx="191.2" cy="517.3"/><circle class="k10" cx="132.8" cy="499.4"/><circle class="k46" cx="115.0" cy="499.2"/><circle class="k25" cx="214.8" cy="511.9"/><circle class="k9" cx="108.9" cy="510.7"/><circle class="k13" cx="133.3" cy="514.8"/><circle class="k39" cx="152.5" cy="467.8"/><circle class="k44" cx="238.1" cy="515.5"/><circle class="k40" cx="111.6" cy="467.0"/><circle class="k22" cx="118.5" cy="513.3"/><circle class="k13" cx="143.7" cy="516.0"/><circle class="k28" cx="154.6" cy="477.6"/><circle class="k32" cx="137.0" cy="457.2"/><circle class="k41" cx="84.2" cy="406.1"/><circle class="k31" cx="72.9" cy="433.9"/><circle class="k35" cx="86.1" cy="473.1"/><circle class="k41" cx="156.6" cy="461.4"/><circle class="k9" cx="129.8" cy="504.7"/><circle class="k9" cx="143.6" cy="510.5"/><circle class="k24" cx="75.9" cy="382.4"/><circle class="k2" cx="121.9" cy="497.6"/><circle class="k18" cx="144.1" cy="508.1"/><circle class="k52" cx="117.7" cy="511.8"/><circle class="k51" cx="118.0" cy="487.7"/><circle class="k20" cx="139.4" cy="515.9"/><circle class="k22" cx="83.7" cy="489.6"/><circle class="k34" cx="130.5" cy="437.2"/><circle class="k40" cx="201.5" cy="511.6"/><circle class="k52" cx="81.1" cy="485.4"/><circle class="k14" cx="103.9" cy="476.1"/><circle class="k31" cx="67.8" cy="415.2"/><circle class="k38" cx="157.9" cy="458.1"/><circle class="k19" cx="74.8" cy="335.5"/><circle class="k47" cx="108.4" cy="461.1"/><circle class="k18" cx="81.9" cy="476.8"/><circle class="k96" cx="103.6" cy="507.0"/><circle class="k9" cx="145.7" cy="515.8"/><circle class="k102" cx="147.5" cy="501.1"/><circle class="k4" cx="197.9" cy="512.8"/><circle class="k7" cx="137.0" cy="456.9"/><circle class="k24" cx="76.6" cy="394.7"/><circle class="k51" cx="95.5" cy="484.2"/><circle class="k22" cx="161.2" cy="515.0"/><circle class="k52" cx="153.1" cy="516.5"/><circle class="k34" cx="98.1" cy="420.7"/><circle class="k9" cx="92.8" cy="501.8"/><circle class="k0" cx="126.1" cy="507.8"/><circle class="k4" cx="219.3" cy="508.4"/><circle class="k9" cx="111.8" cy="512.6"/><circle class="k8" cx="90.9" cy="452.9"/><circle class="k35" cx="132.0" cy="514.9"/><circle class="k36" cx="99.5" cy="436.9"/><circle class="k16" cx="68.1" cy="397.5"/><circle class="k30" cx="66.1" cy="336.7"/><circle class="k20" cx="94.6" cy="493.1"/><circle class="k0" cx="107.4" cy="506.8"/><circle class="k9" cx="98.2" cy="484.3"/><circle class="k52" cx="62.7" cy="430.7"/><circle class="k38" cx="129.6" cy="507.3"/><circle class="k18" cx="114.0" cy="487.0"/><circle class="k0" cx="120.7" cy="505.1"/><circle class="k97" cx="113.2" cy="506.4"/><circle class="k22" cx="174.0" cy="515.6"/><circle class="k28" cx="107.8" cy="438.4"/><circle class="k47" cx="128.9" cy="507.5"/><circle class="k96" cx="121.2" cy="507.6"/><circle class="k0" cx="161.7" cy="511.5"/><circle class="k96" cx="167.0" cy="516.0"/><circle class="k103" cx="149.6" cy="500.3"/><circle class="k19" cx="80.7" cy="383.0"/><circle class="k0" cx="75.6" cy="481.3"/><circle class="k20" cx="149.9" cy="510.4"/><circle class="k31" cx="229.2" cy="512.4"/><circle class="k41" cx="82.8" cy="423.6"/><circle class="k45" cx="95.4" cy="502.0"/><circle class="k8" cx="141.3" cy="440.5"/><circle class="k39" cx="106.1" cy="474.2"/><circle class="k9" cx="127.5" cy="512.2"/><circle class="k0" cx="110.2" cy="508.7"/><circle class="k35" cx="155.7" cy="516.1"/><circle class="k12" cx="162.9" cy="514.0"/><circle class="k12" cx="146.1" cy="506.8"/><circle class="k25" cx="125.4" cy="471.5"/><circle class="k29" cx="88.1" cy="386.9"/><circle class="k30" cx="92.9" cy="328.6"/><circle class="k9" cx="171.8" cy="516.4"/><circle class="k20" cx="149.4" cy="513.8"/><circle class="k21" cx="74.4" cy="353.7"/><circle class="k9" cx="171.7" cy="517.2"/><circle class="k35" cx="108.1" cy="509.5"/><circle class="k24" cx="70.1" cy="328.4"/><circle class="k23" cx="66.4" cy="384.9"/><circle class="k23" cx="127.1" cy="395.2"/><circle class="k40" cx="154.3" cy="496.3"/><circle class="k47" cx="124.9" cy="501.6"/><circle class="k20" cx="115.0" cy="502.0"/><circle class="k9" cx="182.2" cy="514.8"/><circle class="k22" cx="213.2" cy="516.9"/><circle class="k24" cx="77.4" cy="322.6"/><circle class="k96" cx="117.6" cy="513.0"/><circle class="k20" cx="114.4" cy="512.9"/><circle class="k53" cx="148.8" cy="516.0"/><circle class="k36" cx="86.9" cy="385.0"/><circle class="k13" cx="110.4" cy="504.0"/><circle class="k43" cx="84.4" cy="369.5"/><circle class="k35" cx="129.9" cy="514.0"/><circle class="k9" cx="154.2" cy="515.8"/><circle class="k52" cx="144.0" cy="513.8"/><circle class="k23" cx="133.9" cy="481.8"/><circle class="k43" cx="88.4" cy="455.3"/><circle class="k24" cx="70.9" cy="427.2"/><circle class="k12" cx="142.6" cy="509.9"/><circle class="k10" cx="222.1" cy="516.5"/><circle class="k35" cx="125.1" cy="507.9"/><circle class="k45" cx="144.3" cy="516.1"/><circle class="k4" cx="111.7" cy="482.3"/><circle class="k96" cx="162.3" cy="515.1"/><circle class="k24" cx="69.1" cy="367.7"/><circle class="k51" cx="124.4" cy="490.5"/><circle class="k7" cx="117.7" cy="453.1"/><circle class="k40" cx="154.1" cy="458.1"/><circle class="k9" cx="160.0" cy="514.3"/><circle class="k25" cx="136.3" cy="479.8"/><circle class="k9" cx="121.0" cy="503.8"/><circle class="k0" cx="119.3" cy="507.7"/><circle class="k52" cx="178.7" cy="517.3"/><circle class="k103" cx="168.3" cy="511.2"/><circle class="k13" cx="105.8" cy="510.0"/><circle class="k24" cx="104.8" cy="485.3"/><circle class="k45" cx="148.2" cy="514.9"/><circle class="k45" cx="104.6" cy="507.1"/><circle class="k18" cx="121.4" cy="498.1"/><circle class="k10" cx="153.9" cy="488.6"/><circle class="k35" cx="181.6" cy="516.5"/><circle class="k53" cx="125.3" cy="512.2"/><circle class="k18" cx="143.2" cy="503.5"/><circle class="k6" cx="174.4" cy="510.9"/><circle class="k35" cx="113.5" cy="510.1"/><circle class="k97" cx="124.8" cy="489.1"/><circle class="k9" cx="157.2" cy="512.2"/><circle class="k22" cx="120.6" cy="509.6"/><circle class="k0" cx="110.7" cy="512.3"/><circle class="k35" cx="78.3" cy="450.3"/><circle class="k16" cx="123.1" cy="471.5"/><circle class="k8" cx="83.8" cy="466.0"/><circle class="k30" cx="73.5" cy="394.9"/><circle class="k0" cx="117.0" cy="507.7"/><circle class="k9" cx="122.0" cy="500.8"/><circle class="k39" cx="112.4" cy="454.9"/><circle class="k24" cx="77.9" cy="317.6"/><circle class="k46" cx="134.3" cy="464.9"/><circle class="k0" cx="93.4" cy="496.2"/><circle class="k22" cx="173.7" cy="517.0"/><circle class="k21" cx="93.3" cy="403.9"/><circle class="k29" cx="162.8" cy="475.8"/><circle class="k4" cx="131.6" cy="502.3"/><circle class="k12" cx="164.3" cy="513.9"/><circle class="k13" cx="153.8" cy="516.8"/><circle class="k103" cx="163.1" cy="509.6"/><circle class="k96" cx="137.1" cy="512.3"/><circle class="k96" cx="127.7" cy="514.3"/><circle class="k40" cx="87.9" cy="448.7"/><circle class="k45" cx="170.8" cy="517.1"/><circle class="k22" cx="111.5" cy="506.9"/><circle class="k9" cx="122.6" cy="512.5"/><circle class="k41" cx="79.8" cy="350.2"/><circle class="k52" cx="176.9" cy="516.5"/><circle class="k21" cx="90.7" cy="407.6"/><circle class="k52" cx="115.3" cy="512.6"/><circle class="k96" cx="101.6" cy="507.7"/><circle class="k38" cx="82.4" cy="348.5"/></g>
<path d="M48.00 496.62H270.80" stroke="#ad2a30" stroke-width="2.3" stroke-dasharray="6.5,2.6"/>
<polygon points="117.81,509.63 114.61,515.18 121.01,515.18" fill="#3a2a10" stroke="#e8a820" stroke-width="1.5" opacity="1.0"/>
<circle cx="131.55" cy="513.10" r="2.80" fill="#1a2a40" stroke="#e8a820" stroke-width="1.6" opacity="1.0"/>
<circle cx="130.99" cy="506.19" r="2.80" fill="#1a2a50" stroke="#c0243c" stroke-width="1.8" opacity="1.0"/>
<polygon points="134.52,507.57 131.23,513.27 137.81,513.27" fill="#c02030" stroke="#c0243c" stroke-width="1.5" opacity="1.0"/>
<rect x="48.00" y="310.00" width="222.80" height="230.40" fill="none" stroke="#222" stroke-width="0.85"/>
<text x="48" y="554.5" font-size="10.4" text-anchor="middle" font-family="'DejaVu Serif', 'Liberation Serif', serif" fill="#000">0</text>
<text x="85.1" y="554.5" font-size="10.4" text-anchor="middle" font-family="'DejaVu Serif', 'Liberation Serif', serif" fill="#000">2</text>
<text x="122.3" y="554.5" font-size="10.4" text-anchor="middle" font-family="'DejaVu Serif', 'Liberation Serif', serif" fill="#000">4</text>
<text x="159.4" y="554.5" font-size="10.4" text-anchor="middle" font-family="'DejaVu Serif', 'Liberation Serif', serif" fill="#000">6</text>
<text x="196.5" y="554.5" font-size="10.4" text-anchor="middle" font-family="'DejaVu Serif', 'Liberation Serif', serif" fill="#000">8</text>
<text x="233.7" y="554.5" font-size="10.4" text-anchor="middle" font-family="'DejaVu Serif', 'Liberation Serif', serif" fill="#000">10</text>
<text x="270.8" y="554.5" font-size="10.4" text-anchor="middle" font-family="'DejaVu Serif', 'Liberation Serif', serif" fill="#000">12</text>
<path d="M48.00 540.40v3.50M85.13 540.40v3.50M122.27 540.40v3.50M159.40 540.40v3.50M196.53 540.40v3.50M233.67 540.40v3.50M270.80 540.40v3.50" stroke="#222" stroke-width="0.85"/>
<text x="41" y="544.3" font-size="10.4" text-anchor="end" font-family="'DejaVu Serif', 'Liberation Serif', serif" fill="#000">0.0</text>
<text x="41" y="515.5" font-size="10.4" text-anchor="end" font-family="'DejaVu Serif', 'Liberation Serif', serif" fill="#000">2.5</text>
<text x="41" y="486.7" font-size="10.4" text-anchor="end" font-family="'DejaVu Serif', 'Liberation Serif', serif" fill="#000">5.0</text>
<text x="41" y="457.9" font-size="10.4" text-anchor="end" font-family="'DejaVu Serif', 'Liberation Serif', serif" fill="#000">7.5</text>
<text x="41" y="429.1" font-size="10.4" text-anchor="end" font-family="'DejaVu Serif', 'Liberation Serif', serif" fill="#000">10.0</text>
<text x="41" y="400.3" font-size="10.4" text-anchor="end" font-family="'DejaVu Serif', 'Liberation Serif', serif" fill="#000">12.5</text>
<text x="41" y="371.5" font-size="10.4" text-anchor="end" font-family="'DejaVu Serif', 'Liberation Serif', serif" fill="#000">15.0</text>
<text x="41" y="342.7" font-size="10.4" text-anchor="end" font-family="'DejaVu Serif', 'Liberation Serif', serif" fill="#000">17.5</text>
<text x="41" y="313.9" font-size="10.4" text-anchor="end" font-family="'DejaVu Serif', 'Liberation Serif', serif" fill="#000">20.0</text>
<path d="M48.00 540.40h-3.50M48.00 511.60h-3.50M48.00 482.80h-3.50M48.00 454.00h-3.50M48.00 425.20h-3.50M48.00 396.40h-3.50M48.00 367.60h-3.50M48.00 338.80h-3.50M48.00 310.00h-3.50" stroke="#222" stroke-width="0.85"/>
<rect x="166.10" y="314.10" width="100.10" height="63.40" rx="2" fill="#fff" fill-opacity="0.9" stroke="#d0d0d0" stroke-width="0.8"/>
<polygon points="177.50,318.40 174.82,323.05 180.18,323.05" fill="#5a4a10" stroke="#e8a820" stroke-width="1.0" opacity="1.0"/>
<text x="192.9" y="323.7" font-size="8.4" text-anchor="start" font-family="'DejaVu Serif', 'Liberation Serif', serif" fill="#000">CALF-20 (exp)</text>
<circle cx="177.50" cy="333.50" r="2.30" fill="#1a3a3a" stroke="#e8a820" stroke-width="1.0" opacity="1.0"/>
<text x="192.9" y="335.5" font-size="8.4" text-anchor="start" font-family="'DejaVu Serif', 'Liberation Serif', serif" fill="#000">CALF-20 (sim)</text>
<polygon points="177.50,342.10 174.82,346.75 180.18,346.75" fill="#8a1a3a" stroke="#c0243c" stroke-width="1.0" opacity="1.0"/>
<text x="192.9" y="347.4" font-size="8.4" text-anchor="start" font-family="'DejaVu Serif', 'Liberation Serif', serif" fill="#000">MIP-212 (exp)</text>
<circle cx="177.50" cy="357.40" r="2.30" fill="#3a2a4a" stroke="#c0243c" stroke-width="1.0" opacity="1.0"/>
<text x="192.9" y="359.4" font-size="8.4" text-anchor="start" font-family="'DejaVu Serif', 'Liberation Serif', serif" fill="#000">MIP-212 (sim)</text>
<path d="M170.00 369.50h15" stroke="#ad2a30" stroke-width="1.6" stroke-dasharray="5.5,2.4"/>
<text x="192.9" y="371.5" font-size="8.4" text-anchor="start" font-family="'DejaVu Serif', 'Liberation Serif', serif" fill="#000">MEA benchmark</text>
<text x="159.4" y="568.6" text-anchor="middle" fill="#000"><tspan font-family="'DejaVu Serif', 'Liberation Serif', serif" font-size="10.90">Productivity in </tspan><tspan font-family="'DejaVu Sans', 'Liberation Sans', sans-serif" font-size="10.90">mol</tspan><tspan font-family="'DejaVu Sans', 'Liberation Sans', sans-serif" font-size="7.63" dy="2.40">CO</tspan><tspan font-family="'DejaVu Sans', 'Liberation Sans', sans-serif" font-size="5.34" dy="1.53">2</tspan><tspan font-family="'DejaVu Sans', 'Liberation Sans', sans-serif" font-size="10.90" dy="-3.92">/(kg h)</tspan></text>
<text x="0" y="0" text-anchor="middle" fill="#000" transform="translate(12,425.2) rotate(-90)"><tspan font-family="'DejaVu Serif', 'Liberation Serif', serif" font-size="9.62">Specific thermal energy for heating in </tspan><tspan font-family="'DejaVu Sans', 'Liberation Sans', sans-serif" font-size="9.62">MJ</tspan><tspan font-family="'DejaVu Sans', 'Liberation Sans', sans-serif" font-size="6.73" dy="2.12">th</tspan><tspan font-family="'DejaVu Sans', 'Liberation Sans', sans-serif" font-size="9.62" dy="-2.12">/kg</tspan><tspan font-family="'DejaVu Sans', 'Liberation Sans', sans-serif" font-size="6.73" dy="2.12">CO</tspan><tspan font-family="'DejaVu Sans', 'Liberation Sans', sans-serif" font-size="4.71" dy="1.35">2</tspan></text>
<defs><linearGradient id="cbc" x1="0" y1="0" x2="0" y2="1"><stop offset="0.00" stop-color="#031953"/><stop offset="0.05" stop-color="#0b2a57"/><stop offset="0.10" stop-color="#123a5a"/><stop offset="0.15" stop-color="#18475d"/><stop offset="0.20" stop-color="#1e535f"/><stop offset="0.25" stop-color="#285d5d"/><stop offset="0.30" stop-color="#36655a"/><stop offset="0.35" stop-color="#466d53"/><stop offset="0.40" stop-color="#58744b"/><stop offset="0.45" stop-color="#6b7b42"/><stop offset="0.50" stop-color="#81813b"/><stop offset="0.55" stop-color="#988835"/><stop offset="0.60" stop-color="#ae8d3e"/><stop offset="0.65" stop-color="#c59348"/><stop offset="0.70" stop-color="#d7985c"/><stop offset="0.75" stop-color="#e8a074"/><stop offset="0.80" stop-color="#f3a78d"/><stop offset="0.85" stop-color="#f6b1a8"/><stop offset="0.90" stop-color="#f7bbc2"/><stop offset="0.95" stop-color="#f6c2d6"/><stop offset="1.00" stop-color="#f4c9ea"/></linearGradient></defs>
<rect x="284.50" y="310.00" width="12.00" height="230.40" fill="url(#cbc)" stroke="#222" stroke-width="0.85"/>
<text x="302.5" y="313" font-size="8.2" text-anchor="start" font-family="'DejaVu Serif', 'Liberation Serif', serif" fill="#000">100.0</text>
<text x="302.5" y="341.8" font-size="8.2" text-anchor="start" font-family="'DejaVu Serif', 'Liberation Serif', serif" fill="#000">97.5</text>
<text x="302.5" y="370.6" font-size="8.2" text-anchor="start" font-family="'DejaVu Serif', 'Liberation Serif', serif" fill="#000">95.0</text>
<text x="302.5" y="399.4" font-size="8.2" text-anchor="start" font-family="'DejaVu Serif', 'Liberation Serif', serif" fill="#000">92.5</text>
<text x="302.5" y="428.2" font-size="8.2" text-anchor="start" font-family="'DejaVu Serif', 'Liberation Serif', serif" fill="#000">90.0</text>
<text x="302.5" y="457" font-size="8.2" text-anchor="start" font-family="'DejaVu Serif', 'Liberation Serif', serif" fill="#000">87.5</text>
<text x="302.5" y="485.8" font-size="8.2" text-anchor="start" font-family="'DejaVu Serif', 'Liberation Serif', serif" fill="#000">85.0</text>
<text x="302.5" y="514.6" font-size="8.2" text-anchor="start" font-family="'DejaVu Serif', 'Liberation Serif', serif" fill="#000">82.5</text>
<text x="302.5" y="543.4" font-size="8.2" text-anchor="start" font-family="'DejaVu Serif', 'Liberation Serif', serif" fill="#000">80.0</text>
<path d="M296.50 310.00h3M296.50 338.80h3M296.50 367.60h3M296.50 396.40h3M296.50 425.20h3M296.50 454.00h3M296.50 482.80h3M296.50 511.60h3M296.50 540.40h3" stroke="#222" stroke-width="0.85"/>
<text x="0" y="0" text-anchor="middle" fill="#000" transform="translate(337.6,424.8) rotate(-90)"><tspan font-family="'DejaVu Serif', 'Liberation Serif', serif" font-size="10.75">Recovery in %</tspan></text>
<text x="155.5" y="595.7" font-size="17" text-anchor="middle" font-family="'DejaVu Sans', 'Liberation Sans', sans-serif" fill="#000">(c)</text>
<clipPath id="cpsd"><rect x="393.70" y="305.60" width="225.50" height="232.80"/></clipPath>
<style>.sd circle{r:2.7px;stroke-width:0.9px}</style>
<g class="sd" clip-path="url(#cpsd)"><circle class="k45" cx="525.6" cy="484.6"/><circle class="k35" cx="538.3" cy="480.7"/><circle class="k20" cx="520.5" cy="490.2"/><circle class="k53" cx="498.1" cy="493.7"/><circle class="k27" cx="584.8" cy="468.8"/><circle class="k96" cx="498.8" cy="493.6"/><circle class="k52" cx="487.1" cy="497.8"/><circle class="k52" cx="523.2" cy="478.2"/><circle class="k35" cx="537.8" cy="484.0"/><circle class="k45" cx="510.5" cy="498.2"/><circle class="k52" cx="491.1" cy="497.3"/><circle class="k13" cx="526.9" cy="492.9"/><circle class="k52" cx="495.3" cy="490.9"/><circle class="k13" cx="533.9" cy="489.4"/><circle class="k13" cx="524.4" cy="488.1"/><circle class="k3" cx="553.0" cy="480.3"/><circle class="k21" cx="608.2" cy="348.0"/><circle class="k52" cx="489.4" cy="495.4"/><circle class="k22" cx="520.7" cy="492.3"/><circle class="k96" cx="484.2" cy="504.8"/><circle class="k40" cx="569.2" cy="477.7"/><circle class="k18" cx="554.5" cy="480.9"/><circle class="k45" cx="517.9" cy="488.3"/><circle class="k10" cx="563.7" cy="484.7"/><circle class="k21" cx="593.6" cy="477.1"/><circle class="k9" cx="544.3" cy="489.3"/><circle class="k35" cx="539.9" cy="479.8"/><circle class="k53" cx="498.2" cy="499.0"/><circle class="k12" cx="541.8" cy="481.4"/><circle class="k45" cx="501.7" cy="488.1"/><circle class="k20" cx="534.6" cy="487.9"/><circle class="k96" cx="484.0" cy="498.0"/><circle class="k19" cx="579.6" cy="472.3"/><circle class="k45" cx="513.7" cy="487.6"/><circle class="k28" cx="576.1" cy="482.3"/><circle class="k44" cx="567.0" cy="479.9"/><circle class="k53" cx="502.1" cy="491.4"/><circle class="k25" cx="573.9" cy="478.2"/><circle class="k3" cx="563.7" cy="481.0"/><circle class="k45" cx="486.9" cy="498.6"/><circle class="k26" cx="588.8" cy="473.1"/><circle class="k20" cx="525.0" cy="480.0"/><circle class="k45" cx="488.8" cy="496.7"/><circle class="k41" cx="601.4" cy="470.7"/><circle class="k22" cx="487.7" cy="495.8"/><circle class="k45" cx="532.1" cy="484.8"/><circle class="k96" cx="482.6" cy="494.1"/><circle class="k45" cx="516.7" cy="482.1"/><circle class="k53" cx="486.9" cy="495.8"/><circle class="k22" cx="523.8" cy="486.9"/><circle class="k0" cx="548.7" cy="484.0"/><circle class="k35" cx="539.1" cy="493.3"/><circle class="k52" cx="483.0" cy="496.3"/><circle class="k3" cx="560.4" cy="485.7"/><circle class="k4" cx="573.2" cy="474.3"/><circle class="k0" cx="569.5" cy="360.5"/><circle class="k3" cx="560.3" cy="477.4"/><circle class="k39" cx="580.4" cy="470.0"/><circle class="k18" cx="550.9" cy="467.7"/><circle class="k0" cx="545.1" cy="487.1"/><circle class="k9" cx="539.8" cy="484.9"/><circle class="k53" cx="498.0" cy="495.5"/><circle class="k52" cx="506.7" cy="493.6"/><circle class="k53" cx="483.0" cy="496.9"/><circle class="k27" cx="585.2" cy="468.3"/><circle class="k25" cx="572.9" cy="478.8"/><circle class="k45" cx="497.0" cy="496.1"/><circle class="k22" cx="520.9" cy="488.2"/><circle class="k34" cx="602.8" cy="470.5"/><circle class="k2" cx="559.3" cy="486.3"/><circle class="k96" cx="484.0" cy="500.7"/><circle class="k28" cx="578.2" cy="472.7"/><circle class="k53" cx="487.4" cy="495.1"/><circle class="k22" cx="528.6" cy="483.7"/><circle class="k41" cx="591.6" cy="476.1"/><circle class="k44" cx="565.1" cy="482.6"/><circle class="k41" cx="598.7" cy="473.0"/><circle class="k21" cx="603.9" cy="471.1"/><circle class="k13" cx="535.8" cy="484.3"/><circle class="k22" cx="502.8" cy="496.2"/><circle class="k34" cx="605.6" cy="471.1"/><circle class="k13" cx="532.5" cy="485.7"/><circle class="k14" cx="588.5" cy="477.9"/><circle class="k20" cx="523.9" cy="478.0"/><circle class="k20" cx="533.5" cy="480.4"/><circle class="k45" cx="523.8" cy="486.9"/><circle class="k13" cx="526.9" cy="489.3"/><circle class="k31" cx="567.1" cy="470.1"/><circle class="k28" cx="578.0" cy="479.0"/><circle class="k96" cx="486.1" cy="494.4"/><circle class="k43" cx="591.0" cy="476.1"/><circle class="k27" cx="586.1" cy="473.4"/><circle class="k22" cx="534.5" cy="488.6"/><circle class="k27" cx="586.1" cy="476.5"/><circle class="k22" cx="495.4" cy="493.1"/><circle class="k25" cx="571.9" cy="474.6"/><circle class="k13" cx="522.1" cy="362.1"/><circle class="k12" cx="541.5" cy="480.6"/><circle class="k20" cx="496.8" cy="495.0"/><circle class="k52" cx="482.2" cy="497.2"/><circle class="k41" cx="594.9" cy="478.4"/><circle class="k45" cx="511.8" cy="492.4"/><circle class="k22" cx="514.9" cy="489.1"/><circle class="k10" cx="563.5" cy="477.6"/><circle class="k20" cx="503.5" cy="497.6"/><circle class="k22" cx="515.5" cy="486.0"/><circle class="k53" cx="483.3" cy="499.5"/><circle class="k53" cx="492.9" cy="491.8"/><circle class="k41" cx="592.1" cy="475.7"/><circle class="k96" cx="494.6" cy="493.0"/><circle class="k10" cx="567.1" cy="475.7"/><circle class="k7" cx="576.2" cy="476.2"/><circle class="k22" cx="490.0" cy="491.6"/><circle class="k45" cx="505.4" cy="489.9"/><circle class="k22" cx="502.6" cy="492.5"/><circle class="k22" cx="511.7" cy="490.8"/><circle class="k53" cx="484.0" cy="496.2"/><circle class="k20" cx="504.6" cy="490.5"/><circle class="k22" cx="521.4" cy="489.8"/><circle class="k35" cx="533.6" cy="490.0"/><circle class="k53" cx="494.5" cy="495.4"/><circle class="k24" cx="615.8" cy="472.0"/><circle class="k96" cx="501.6" cy="497.2"/><circle class="k52" cx="530.7" cy="483.8"/><circle class="k31" cx="569.4" cy="479.7"/><circle class="k3" cx="555.4" cy="481.1"/><circle class="k13" cx="566.3" cy="347.4"/><circle class="k22" cx="522.9" cy="488.2"/><circle class="k2" cx="556.7" cy="468.2"/><circle class="k22" cx="529.4" cy="489.2"/><circle class="k52" cx="497.1" cy="487.8"/><circle class="k45" cx="528.4" cy="485.6"/><circle class="k33" cx="579.7" cy="481.4"/><circle class="k52" cx="497.3" cy="491.8"/><circle class="k9" cx="552.2" cy="482.9"/><circle class="k96" cx="492.9" cy="498.6"/><circle class="k20" cx="510.5" cy="491.8"/><circle class="k20" cx="519.1" cy="485.5"/><circle class="k24" cx="612.9" cy="470.3"/><circle class="k25" cx="574.2" cy="480.2"/><circle class="k20" cx="507.1" cy="491.6"/><circle class="k18" cx="556.0" cy="480.4"/><circle class="k45" cx="523.3" cy="493.3"/><circle class="k45" cx="521.6" cy="491.6"/><circle class="k20" cx="493.8" cy="499.8"/><circle class="k45" cx="500.6" cy="493.4"/><circle class="k3" cx="554.9" cy="478.2"/><circle class="k0" cx="546.9" cy="484.8"/><circle class="k45" cx="509.8" cy="491.7"/><circle class="k96" cx="498.6" cy="491.2"/><circle class="k22" cx="542.4" cy="481.4"/><circle class="k13" cx="521.8" cy="479.4"/><circle class="k52" cx="493.6" cy="494.8"/><circle class="k22" cx="535.5" cy="488.8"/><circle class="k22" cx="517.9" cy="492.1"/><circle class="k52" cx="499.1" cy="491.9"/><circle class="k45" cx="497.8" cy="497.0"/><circle class="k6" cx="565.7" cy="478.9"/><circle class="k18" cx="557.8" cy="479.8"/><circle class="k22" cx="508.3" cy="486.8"/><circle class="k45" cx="501.2" cy="497.9"/><circle class="k0" cx="551.0" cy="471.8"/><circle class="k52" cx="491.4" cy="497.2"/><circle class="k35" cx="531.4" cy="485.8"/><circle class="k3" cx="560.7" cy="476.0"/><circle class="k52" cx="498.1" cy="489.1"/><circle class="k48" cx="582.5" cy="480.2"/><circle class="k0" cx="544.9" cy="479.1"/><circle class="k96" cx="504.1" cy="491.9"/><circle class="k6" cx="569.8" cy="471.2"/><circle class="k52" cx="502.8" cy="494.8"/><circle class="k53" cx="514.8" cy="498.3"/><circle class="k45" cx="499.8" cy="492.2"/><circle class="k20" cx="514.5" cy="494.0"/><circle class="k21" cx="604.4" cy="473.7"/><circle class="k53" cx="489.1" cy="492.8"/><circle class="k12" cx="561.7" cy="475.1"/><circle class="k45" cx="503.3" cy="492.3"/><circle class="k2" cx="558.7" cy="478.2"/><circle class="k26" cx="588.0" cy="477.3"/><circle class="k45" cx="500.8" cy="496.4"/><circle class="k49" cx="586.2" cy="477.9"/><circle class="k9" cx="503.4" cy="452.9"/><circle class="k22" cx="505.2" cy="489.3"/><circle class="k13" cx="528.3" cy="490.4"/><circle class="k35" cx="544.8" cy="483.1"/><circle class="k11" cx="584.7" cy="479.4"/><circle class="k20" cx="536.8" cy="445.7"/><circle class="k0" cx="555.6" cy="479.8"/><circle class="k53" cx="490.5" cy="494.2"/><circle class="k22" cx="510.2" cy="492.1"/><circle class="k35" cx="504.2" cy="490.2"/><circle class="k22" cx="523.9" cy="487.5"/><circle class="k53" cx="485.0" cy="499.7"/><circle class="k20" cx="490.8" cy="496.1"/><circle class="k13" cx="540.0" cy="460.4"/><circle class="k22" cx="514.9" cy="489.4"/><circle class="k0" cx="547.2" cy="489.7"/><circle class="k45" cx="508.2" cy="486.9"/><circle class="k21" cx="615.4" cy="465.8"/><circle class="k20" cx="520.5" cy="492.9"/><circle class="k45" cx="495.8" cy="494.5"/><circle class="k22" cx="524.3" cy="485.2"/><circle class="k43" cx="591.6" cy="476.7"/><circle class="k53" cx="504.7" cy="494.5"/><circle class="k96" cx="497.2" cy="494.5"/><circle class="k96" cx="488.0" cy="490.6"/><circle class="k45" cx="486.5" cy="497.3"/><circle class="k34" cx="599.9" cy="468.2"/><circle class="k53" cx="489.0" cy="495.3"/><circle class="k96" cx="487.7" cy="497.8"/><circle class="k22" cx="507.8" cy="488.4"/><circle class="k9" cx="551.6" cy="480.2"/><circle class="k21" cx="602.4" cy="469.3"/><circle class="k20" cx="528.8" cy="488.2"/><circle class="k45" cx="495.1" cy="495.8"/><circle class="k29" cx="581.4" cy="479.3"/><circle class="k9" cx="493.5" cy="448.3"/><circle class="k45" cx="516.6" cy="493.6"/><circle class="k22" cx="501.9" cy="489.4"/><circle class="k8" cx="585.7" cy="476.8"/><circle class="k45" cx="502.7" cy="488.7"/><circle class="k13" cx="537.0" cy="487.9"/><circle class="k18" cx="551.2" cy="478.5"/><circle class="k20" cx="494.9" cy="496.3"/><circle class="k96" cx="486.3" cy="494.7"/><circle class="k9" cx="543.1" cy="488.7"/><circle class="k52" cx="493.2" cy="490.7"/><circle class="k25" cx="572.2" cy="472.3"/><circle class="k9" cx="498.0" cy="463.9"/><circle class="k22" cx="523.9" cy="486.0"/><circle class="k45" cx="507.7" cy="491.1"/><circle class="k20" cx="498.1" cy="493.5"/><circle class="k45" cx="495.7" cy="495.3"/><circle class="k96" cx="489.8" cy="493.2"/><circle class="k13" cx="539.2" cy="489.1"/><circle class="k0" cx="545.7" cy="487.0"/><circle class="k49" cx="586.3" cy="475.8"/><circle class="k13" cx="527.2" cy="483.0"/><circle class="k45" cx="487.8" cy="491.1"/><circle class="k52" cx="498.5" cy="493.7"/><circle class="k5" cx="585.5" cy="333.3"/><circle class="k53" cx="497.4" cy="496.4"/><circle class="k34" cx="599.9" cy="474.6"/><circle class="k22" cx="521.4" cy="480.2"/><circle class="k9" cx="537.2" cy="478.4"/><circle class="k22" cx="532.9" cy="477.4"/><circle class="k20" cx="521.6" cy="486.3"/><circle class="k20" cx="512.0" cy="489.7"/><circle class="k35" cx="490.9" cy="467.0"/><circle class="k53" cx="496.9" cy="491.7"/><circle class="k13" cx="546.7" cy="478.2"/><circle class="k21" cx="602.3" cy="470.3"/><circle class="k45" cx="488.3" cy="492.1"/><circle class="k4" cx="576.1" cy="476.5"/><circle class="k20" cx="510.8" cy="489.8"/><circle class="k45" cx="500.0" cy="492.5"/><circle class="k21" cx="593.3" cy="475.6"/><circle class="k52" cx="487.7" cy="496.3"/><circle class="k23" cx="590.2" cy="476.2"/><circle class="k35" cx="512.8" cy="456.4"/><circle class="k13" cx="531.5" cy="483.7"/><circle class="k45" cx="521.4" cy="491.4"/><circle class="k20" cx="517.1" cy="489.8"/><circle class="k13" cx="518.0" cy="492.4"/><circle class="k45" cx="490.5" cy="489.3"/><circle class="k35" cx="508.8" cy="475.0"/><circle class="k20" cx="507.0" cy="495.6"/><circle class="k39" cx="578.0" cy="471.9"/><circle class="k52" cx="499.9" cy="492.6"/><circle class="k35" cx="534.0" cy="485.0"/><circle class="k6" cx="568.3" cy="478.1"/><circle class="k52" cx="488.6" cy="493.6"/><circle class="k24" cx="617.7" cy="468.4"/><circle class="k2" cx="556.0" cy="485.5"/><circle class="k52" cx="497.8" cy="491.3"/><circle class="k12" cx="545.9" cy="487.5"/><circle class="k42" cx="585.7" cy="473.5"/><circle class="k34" cx="607.9" cy="465.8"/><circle class="k24" cx="614.3" cy="470.8"/><circle class="k12" cx="542.2" cy="485.5"/><circle class="k12" cx="557.0" cy="483.9"/><circle class="k12" cx="546.4" cy="484.7"/><circle class="k0" cx="542.5" cy="480.1"/><circle class="k12" cx="542.5" cy="479.0"/><circle class="k96" cx="486.2" cy="495.2"/><circle class="k53" cx="488.2" cy="493.4"/><circle class="k41" cx="596.8" cy="459.7"/><circle class="k39" cx="578.6" cy="479.8"/><circle class="k2" cx="562.5" cy="480.7"/><circle class="k53" cx="489.4" cy="498.2"/><circle class="k52" cx="512.2" cy="490.0"/><circle class="k9" cx="539.2" cy="473.6"/><circle class="k24" cx="602.0" cy="473.5"/><circle class="k18" cx="542.6" cy="478.3"/><circle class="k45" cx="519.0" cy="487.9"/><circle class="k44" cx="563.8" cy="483.1"/><circle class="k45" cx="489.1" cy="492.2"/><circle class="k52" cx="500.2" cy="492.0"/><circle class="k9" cx="540.1" cy="337.3"/><circle class="k53" cx="516.2" cy="489.5"/><circle class="k24" cx="599.9" cy="474.9"/><circle class="k20" cx="488.6" cy="498.3"/><circle class="k0" cx="508.8" cy="439.0"/><circle class="k12" cx="556.7" cy="472.1"/><circle class="k0" cx="550.8" cy="477.9"/><circle class="k22" cx="525.5" cy="490.0"/><circle class="k20" cx="488.9" cy="496.1"/><circle class="k45" cx="488.9" cy="500.7"/><circle class="k34" cx="592.4" cy="475.6"/><circle class="k0" cx="540.7" cy="487.9"/><circle class="k35" cx="534.7" cy="483.0"/><circle class="k96" cx="490.2" cy="493.9"/><circle class="k20" cx="523.0" cy="487.2"/><circle class="k3" cx="559.4" cy="485.2"/><circle class="k53" cx="498.7" cy="497.8"/><circle class="k20" cx="566.3" cy="357.3"/><circle class="k0" cx="548.3" cy="481.6"/><circle class="k20" cx="518.7" cy="488.1"/><circle class="k34" cx="600.2" cy="473.4"/><circle class="k22" cx="497.7" cy="493.3"/><circle class="k21" cx="597.8" cy="351.5"/><circle class="k105" cx="587.2" cy="474.3"/><circle class="k10" cx="571.0" cy="467.5"/><circle class="k20" cx="486.7" cy="494.3"/><circle class="k31" cx="568.3" cy="482.9"/><circle class="k0" cx="541.6" cy="487.8"/><circle class="k14" cx="587.7" cy="477.3"/><circle class="k0" cx="519.5" cy="475.0"/><circle class="k53" cx="513.4" cy="491.1"/><circle class="k45" cx="486.0" cy="501.3"/><circle class="k12" cx="554.7" cy="486.8"/><circle class="k9" cx="539.4" cy="490.2"/><circle class="k3" cx="557.7" cy="467.6"/><circle class="k22" cx="511.1" cy="492.4"/><circle class="k31" cx="566.8" cy="480.4"/><circle class="k45" cx="497.8" cy="490.5"/><circle class="k0" cx="544.4" cy="485.9"/><circle class="k36" cx="581.2" cy="478.0"/><circle class="k20" cx="503.4" cy="491.1"/><circle class="k35" cx="532.8" cy="418.3"/><circle class="k53" cx="496.4" cy="500.6"/><circle class="k45" cx="521.9" cy="485.7"/><circle class="k105" cx="586.6" cy="477.3"/><circle class="k20" cx="516.9" cy="490.4"/><circle class="k20" cx="510.2" cy="488.4"/><circle class="k45" cx="490.3" cy="492.7"/><circle class="k13" cx="544.6" cy="479.3"/><circle class="k22" cx="531.1" cy="489.6"/><circle class="k52" cx="494.0" cy="497.6"/><circle class="k22" cx="524.7" cy="485.7"/><circle class="k40" cx="570.6" cy="474.7"/><circle class="k49" cx="585.5" cy="474.5"/><circle class="k20" cx="512.7" cy="495.1"/><circle class="k22" cx="498.1" cy="494.4"/><circle class="k53" cx="482.7" cy="495.1"/><circle class="k30" cx="594.5" cy="470.9"/><circle class="k18" cx="548.7" cy="483.2"/><circle class="k52" cx="482.6" cy="498.7"/><circle class="k53" cx="489.4" cy="492.8"/><circle class="k9" cx="542.2" cy="369.4"/><circle class="k45" cx="503.8" cy="493.8"/><circle class="k96" cx="495.4" cy="494.9"/><circle class="k52" cx="487.9" cy="494.1"/><circle class="k20" cx="502.3" cy="485.6"/><circle class="k9" cx="542.8" cy="484.6"/><circle class="k6" cx="570.9" cy="469.8"/><circle class="k45" cx="507.8" cy="492.0"/><circle class="k13" cx="527.8" cy="490.0"/><circle class="k22" cx="539.0" cy="477.6"/><circle class="k20" cx="521.2" cy="485.3"/><circle class="k12" cx="559.8" cy="479.8"/><circle class="k20" cx="505.5" cy="491.1"/><circle class="k21" cx="617.1" cy="462.8"/><circle class="k22" cx="523.2" cy="489.7"/><circle class="k4" cx="576.5" cy="477.4"/><circle class="k0" cx="549.5" cy="479.8"/><circle class="k53" cx="498.6" cy="489.2"/><circle class="k0" cx="550.2" cy="360.5"/><circle class="k20" cx="512.1" cy="491.1"/><circle class="k52" cx="489.0" cy="494.0"/><circle class="k20" cx="497.1" cy="495.5"/><circle class="k22" cx="535.3" cy="483.7"/><circle class="k34" cx="608.5" cy="467.4"/><circle class="k31" cx="567.4" cy="475.8"/><circle class="k24" cx="610.7" cy="473.0"/><circle class="k25" cx="573.6" cy="476.3"/><circle class="k2" cx="550.8" cy="478.9"/><circle class="k35" cx="530.7" cy="483.0"/><circle class="k18" cx="546.9" cy="484.4"/><circle class="k9" cx="516.0" cy="438.2"/><circle class="k34" cx="611.0" cy="468.9"/><circle class="k20" cx="529.8" cy="485.7"/><circle class="k52" cx="491.0" cy="490.0"/><circle class="k21" cx="601.8" cy="339.2"/><circle class="k52" cx="495.6" cy="487.0"/><circle class="k1" cx="572.8" cy="476.3"/><circle class="k53" cx="501.6" cy="494.5"/><circle class="k9" cx="525.7" cy="491.6"/><circle class="k45" cx="515.1" cy="489.0"/><circle class="k13" cx="534.9" cy="486.6"/><circle class="k0" cx="536.3" cy="483.4"/><circle class="k9" cx="552.5" cy="474.6"/><circle class="k22" cx="523.3" cy="489.4"/><circle class="k0" cx="557.1" cy="472.1"/><circle class="k2" cx="561.2" cy="467.2"/><circle class="k96" cx="484.0" cy="499.0"/><circle class="k52" cx="493.6" cy="495.2"/><circle class="k0" cx="544.1" cy="482.3"/><circle class="k21" cx="609.1" cy="472.0"/><circle class="k0" cx="550.2" cy="481.9"/><circle class="k22" cx="517.0" cy="490.3"/><circle class="k45" cx="492.5" cy="491.9"/><circle class="k3" cx="556.9" cy="485.9"/><circle class="k35" cx="542.7" cy="451.6"/><circle class="k3" cx="545.1" cy="483.0"/><circle class="k35" cx="532.2" cy="487.0"/><circle class="k45" cx="492.0" cy="495.8"/><circle class="k45" cx="487.8" cy="500.3"/><circle class="k45" cx="499.3" cy="491.9"/><circle class="k45" cx="492.7" cy="497.5"/><circle class="k52" cx="486.7" cy="495.4"/><circle class="k7" cx="577.3" cy="472.0"/><circle class="k22" cx="518.9" cy="489.3"/><circle class="k20" cx="514.0" cy="486.2"/><circle class="k45" cx="491.5" cy="497.5"/><circle class="k27" cx="585.1" cy="476.1"/><circle class="k53" cx="487.8" cy="495.4"/><circle class="k22" cx="524.8" cy="473.7"/><circle class="k13" cx="531.4" cy="481.8"/><circle class="k45" cx="516.0" cy="485.2"/><circle class="k35" cx="535.8" cy="488.6"/><circle class="k27" cx="585.3" cy="474.6"/><circle class="k20" cx="491.4" cy="451.0"/><circle class="k52" cx="487.1" cy="499.7"/><circle class="k45" cx="485.8" cy="497.7"/><circle class="k52" cx="488.3" cy="496.3"/><circle class="k13" cx="532.7" cy="485.9"/><circle class="k4" cx="577.1" cy="477.5"/><circle class="k20" cx="508.0" cy="490.9"/><circle class="k53" cx="505.7" cy="489.4"/><circle class="k45" cx="527.8" cy="485.0"/><circle class="k24" cx="610.6" cy="467.4"/><circle class="k52" cx="496.7" cy="496.0"/><circle class="k28" cx="577.9" cy="476.9"/><circle class="k20" cx="529.3" cy="483.8"/><circle class="k53" cx="487.4" cy="494.4"/><circle class="k32" cx="588.2" cy="473.1"/><circle class="k26" cx="588.0" cy="471.4"/><circle class="k12" cx="543.8" cy="480.2"/><circle class="k45" cx="483.8" cy="502.4"/><circle class="k0" cx="549.3" cy="483.1"/><circle class="k22" cx="502.1" cy="495.5"/><circle class="k9" cx="535.3" cy="482.2"/><circle class="k20" cx="521.9" cy="485.5"/><circle class="k22" cx="495.4" cy="459.0"/><circle class="k22" cx="496.7" cy="496.1"/><circle class="k18" cx="560.2" cy="483.7"/><circle class="k25" cx="565.9" cy="474.0"/><circle class="k13" cx="513.2" cy="492.3"/><circle class="k53" cx="514.1" cy="490.5"/><circle class="k13" cx="531.5" cy="486.9"/><circle class="k22" cx="517.3" cy="488.9"/><circle class="k45" cx="499.3" cy="498.2"/><circle class="k45" cx="512.4" cy="491.2"/><circle class="k24" cx="601.8" cy="469.9"/><circle class="k18" cx="547.6" cy="478.0"/><circle class="k45" cx="510.2" cy="490.6"/><circle class="k0" cx="516.8" cy="361.3"/><circle class="k52" cx="517.2" cy="493.9"/><circle class="k20" cx="514.4" cy="493.1"/><circle class="k22" cx="523.1" cy="489.1"/><circle class="k52" cx="492.8" cy="496.5"/><circle class="k34" cx="601.6" cy="464.2"/><circle class="k20" cx="499.9" cy="497.0"/><circle class="k0" cx="548.5" cy="484.1"/><circle class="k20" cx="517.8" cy="494.0"/><circle class="k45" cx="485.3" cy="491.6"/><circle class="k45" cx="489.8" cy="500.5"/><circle class="k35" cx="530.5" cy="484.3"/><circle class="k96" cx="484.7" cy="491.9"/><circle class="k22" cx="562.2" cy="463.0"/><circle class="k22" cx="511.0" cy="491.4"/><circle class="k53" cx="496.0" cy="497.6"/><circle class="k0" cx="546.7" cy="484.1"/><circle class="k22" cx="513.6" cy="488.6"/><circle class="k22" cx="519.8" cy="488.6"/><circle class="k30" cx="590.8" cy="473.2"/><circle class="k22" cx="522.3" cy="491.1"/><circle class="k20" cx="528.5" cy="487.5"/><circle class="k20" cx="505.9" cy="498.0"/><circle class="k0" cx="538.9" cy="487.3"/><circle class="k52" cx="507.4" cy="496.8"/><circle class="k39" cx="580.1" cy="466.8"/><circle class="k12" cx="543.7" cy="481.6"/><circle class="k12" cx="550.4" cy="486.7"/><circle class="k45" cx="492.2" cy="495.1"/><circle class="k20" cx="497.9" cy="494.3"/><circle class="k1" cx="577.5" cy="480.7"/><circle class="k24" cx="602.4" cy="473.0"/><circle class="k33" cx="581.4" cy="469.7"/><circle class="k45" cx="505.9" cy="493.5"/><circle class="k45" cx="502.5" cy="491.9"/><circle class="k20" cx="523.1" cy="490.8"/><circle class="k34" cx="619.1" cy="472.0"/><circle class="k22" cx="524.1" cy="485.3"/><circle class="k20" cx="508.4" cy="489.6"/><circle class="k52" cx="509.4" cy="494.2"/><circle class="k39" cx="579.8" cy="473.9"/><circle class="k31" cx="569.0" cy="472.0"/><circle class="k53" cx="497.0" cy="497.2"/><circle class="k9" cx="546.6" cy="480.3"/><circle class="k20" cx="517.5" cy="493.3"/><circle class="k6" cx="569.6" cy="478.4"/><circle class="k41" cx="591.4" cy="477.3"/><circle class="k35" cx="542.1" cy="476.9"/><circle class="k19" cx="580.7" cy="483.8"/><circle class="k35" cx="534.2" cy="491.2"/><circle class="k22" cx="498.5" cy="494.3"/><circle class="k35" cx="508.0" cy="447.0"/><circle class="k11" cx="585.4" cy="475.7"/><circle class="k20" cx="486.9" cy="500.3"/><circle class="k9" cx="544.3" cy="362.1"/><circle class="k44" cx="564.0" cy="487.9"/><circle class="k24" cx="612.0" cy="469.2"/><circle class="k6" cx="569.0" cy="477.5"/><circle class="k22" cx="531.5" cy="475.4"/><circle class="k34" cx="613.7" cy="470.8"/><circle class="k18" cx="556.6" cy="483.2"/><circle class="k20" cx="518.8" cy="486.4"/><circle class="k24" cx="612.0" cy="462.0"/><circle class="k41" cx="601.9" cy="475.2"/><circle class="k35" cx="526.8" cy="489.6"/><circle class="k12" cx="540.4" cy="487.0"/><circle class="k20" cx="489.2" cy="497.6"/><circle class="k20" cx="492.6" cy="490.7"/><circle class="k2" cx="558.1" cy="472.8"/><circle class="k20" cx="525.7" cy="490.1"/><circle class="k45" cx="495.3" cy="494.7"/><circle class="k49" cx="586.7" cy="476.2"/><circle class="k18" cx="549.8" cy="483.0"/><circle class="k20" cx="515.9" cy="494.7"/><circle class="k45" cx="497.1" cy="490.7"/><circle class="k96" cx="491.9" cy="493.5"/><circle class="k18" cx="555.5" cy="481.9"/><circle class="k53" cx="486.5" cy="495.9"/><circle class="k22" cx="491.3" cy="496.5"/><circle class="k53" cx="485.9" cy="493.9"/><circle class="k9" cx="545.3" cy="485.8"/><circle class="k52" cx="506.9" cy="491.9"/><circle class="k45" cx="503.2" cy="497.9"/><circle class="k35" cx="534.5" cy="490.2"/><circle class="k52" cx="495.2" cy="495.3"/><circle class="k45" cx="484.0" cy="501.4"/><circle class="k0" cx="545.1" cy="480.2"/><circle class="k35" cx="511.9" cy="492.9"/><circle class="k20" cx="512.7" cy="487.1"/><circle class="k96" cx="500.0" cy="496.7"/><circle class="k38" cx="590.3" cy="332.7"/><circle class="k52" cx="497.4" cy="493.2"/><circle class="k3" cx="558.2" cy="474.5"/><circle class="k20" cx="520.3" cy="485.0"/><circle class="k20" cx="525.7" cy="487.6"/><circle class="k53" cx="486.6" cy="495.6"/><circle class="k20" cx="522.6" cy="490.2"/><circle class="k34" cx="611.4" cy="467.1"/><circle class="k20" cx="523.2" cy="493.2"/><circle class="k96" cx="492.4" cy="493.4"/><circle class="k96" cx="494.7" cy="496.0"/><circle class="k52" cx="522.9" cy="493.1"/><circle class="k9" cx="546.0" cy="476.2"/><circle class="k53" cx="487.0" cy="498.1"/><circle class="k20" cx="523.0" cy="483.4"/><circle class="k22" cx="502.0" cy="471.0"/><circle class="k0" cx="550.4" cy="481.6"/><circle class="k35" cx="516.2" cy="493.4"/><circle class="k9" cx="550.8" cy="484.0"/><circle class="k35" cx="539.8" cy="489.2"/><circle class="k35" cx="491.4" cy="473.7"/><circle class="k52" cx="499.0" cy="494.1"/><circle class="k22" cx="519.3" cy="492.2"/><circle class="k53" cx="503.7" cy="493.8"/><circle class="k22" cx="502.3" cy="495.7"/><circle class="k45" cx="512.7" cy="488.0"/><circle class="k53" cx="487.5" cy="501.0"/><circle class="k40" cx="572.5" cy="482.3"/><circle class="k45" cx="495.7" cy="487.3"/><circle class="k4" cx="575.2" cy="476.8"/><circle class="k3" cx="561.3" cy="478.5"/><circle class="k13" cx="517.7" cy="490.7"/><circle class="k96" cx="491.1" cy="496.3"/><circle class="k34" cx="595.4" cy="473.9"/><circle class="k45" cx="505.2" cy="488.7"/><circle class="k21" cx="604.5" cy="470.1"/><circle class="k10" cx="561.8" cy="476.5"/><circle class="k12" cx="554.4" cy="481.2"/><circle class="k10" cx="568.6" cy="481.3"/><circle class="k22" cx="517.4" cy="491.4"/><circle class="k35" cx="532.9" cy="482.7"/><circle class="k3" cx="550.9" cy="483.1"/><circle class="k45" cx="514.2" cy="489.7"/><circle class="k45" cx="504.9" cy="494.0"/><circle class="k41" cx="593.4" cy="472.6"/><circle class="k9" cx="538.2" cy="490.9"/><circle class="k45" cx="525.4" cy="484.7"/><circle class="k31" cx="568.4" cy="481.6"/><circle class="k35" cx="548.9" cy="372.0"/><circle class="k53" cx="508.6" cy="489.9"/><circle class="k0" cx="522.1" cy="381.4"/><circle class="k13" cx="527.9" cy="488.8"/><circle class="k9" cx="552.5" cy="481.5"/><circle class="k52" cx="502.2" cy="492.2"/><circle class="k45" cx="496.7" cy="494.0"/><circle class="k20" cx="514.2" cy="496.6"/><circle class="k20" cx="513.5" cy="490.2"/><circle class="k24" cx="611.4" cy="464.0"/><circle class="k1" cx="573.8" cy="471.4"/><circle class="k22" cx="501.9" cy="496.1"/><circle class="k45" cx="516.8" cy="483.2"/><circle class="k45" cx="495.7" cy="497.9"/><circle class="k12" cx="552.6" cy="481.0"/><circle class="k35" cx="541.7" cy="465.7"/><circle class="k35" cx="469.3" cy="501.8"/><circle class="k45" cx="517.0" cy="486.9"/><circle class="k13" cx="541.8" cy="483.1"/><circle class="k13" cx="530.8" cy="489.8"/><circle class="k22" cx="520.7" cy="486.5"/><circle class="k3" cx="549.4" cy="479.6"/><circle class="k25" cx="571.7" cy="469.2"/><circle class="k0" cx="548.4" cy="485.3"/><circle class="k53" cx="487.6" cy="498.4"/><circle class="k35" cx="535.7" cy="480.4"/><circle class="k2" cx="567.7" cy="476.7"/><circle class="k35" cx="520.8" cy="451.6"/><circle class="k45" cx="526.4" cy="485.5"/><circle class="k45" cx="525.2" cy="483.1"/><circle class="k105" cx="586.5" cy="464.8"/><circle class="k22" cx="515.8" cy="492.6"/><circle class="k12" cx="554.7" cy="484.9"/><circle class="k31" cx="570.3" cy="479.0"/><circle class="k13" cx="524.7" cy="490.2"/><circle class="k45" cx="508.7" cy="487.9"/><circle class="k45" cx="502.6" cy="499.3"/><circle class="k45" cx="499.6" cy="496.7"/><circle class="k22" cx="508.1" cy="482.8"/><circle class="k53" cx="495.1" cy="494.7"/><circle class="k52" cx="492.2" cy="497.1"/><circle class="k52" cx="508.6" cy="486.9"/><circle class="k9" cx="542.9" cy="483.9"/><circle class="k13" cx="528.5" cy="481.9"/><circle class="k20" cx="486.8" cy="493.3"/><circle class="k6" cx="571.8" cy="475.3"/><circle class="k22" cx="511.2" cy="488.0"/><circle class="k20" cx="507.2" cy="490.0"/><circle class="k53" cx="496.6" cy="492.0"/><circle class="k18" cx="560.0" cy="466.3"/><circle class="k45" cx="487.4" cy="490.2"/><circle class="k20" cx="485.0" cy="500.1"/><circle class="k52" cx="507.9" cy="494.3"/><circle class="k0" cx="537.4" cy="363.2"/><circle class="k0" cx="527.0" cy="485.1"/><circle class="k45" cx="512.3" cy="493.7"/><circle class="k45" cx="513.8" cy="495.0"/><circle class="k53" cx="490.4" cy="491.6"/><circle class="k13" cx="546.2" cy="372.0"/><circle class="k53" cx="513.5" cy="491.2"/><circle class="k53" cx="484.2" cy="496.3"/><circle class="k17" cx="582.5" cy="475.9"/><circle class="k96" cx="491.3" cy="500.5"/><circle class="k45" cx="498.9" cy="497.2"/><circle class="k3" cx="558.5" cy="481.6"/><circle class="k52" cx="508.5" cy="488.3"/><circle class="k34" cx="615.4" cy="467.1"/><circle class="k22" cx="507.0" cy="495.3"/><circle class="k45" cx="494.6" cy="493.0"/><circle class="k43" cx="591.1" cy="470.6"/><circle class="k31" cx="565.5" cy="480.8"/><circle class="k52" cx="522.3" cy="491.9"/><circle class="k44" cx="563.7" cy="468.9"/><circle class="k22" cx="497.3" cy="498.0"/><circle class="k31" cx="564.7" cy="469.9"/><circle class="k20" cx="518.6" cy="492.2"/><circle class="k0" cx="549.1" cy="483.8"/><circle class="k16" cx="590.0" cy="469.6"/><circle class="k24" cx="612.0" cy="472.7"/><circle class="k53" cx="485.8" cy="496.5"/><circle class="k13" cx="522.7" cy="489.4"/><circle class="k6" cx="572.0" cy="471.6"/><circle class="k0" cx="514.9" cy="382.7"/><circle class="k53" cx="483.9" cy="497.9"/><circle class="k52" cx="514.7" cy="494.0"/><circle class="k3" cx="561.3" cy="471.9"/><circle class="k53" cx="494.1" cy="495.3"/><circle class="k53" cx="496.7" cy="490.1"/><circle class="k31" cx="566.0" cy="481.5"/><circle class="k22" cx="501.7" cy="495.8"/><circle class="k52" cx="486.7" cy="499.8"/><circle class="k2" cx="559.3" cy="474.6"/><circle class="k44" cx="568.7" cy="476.4"/><circle class="k22" cx="536.3" cy="455.8"/><circle class="k12" cx="553.0" cy="481.1"/><circle class="k53" cx="515.6" cy="493.2"/><circle class="k20" cx="496.1" cy="491.8"/><circle class="k21" cx="604.2" cy="471.7"/><circle class="k8" cx="588.7" cy="469.0"/><circle class="k13" cx="515.2" cy="495.6"/><circle class="k44" cx="566.2" cy="478.1"/><circle class="k12" cx="555.7" cy="473.3"/><circle class="k45" cx="494.4" cy="495.0"/><circle class="k24" cx="615.1" cy="467.3"/><circle class="k20" cx="511.3" cy="491.0"/><circle class="k45" cx="506.4" cy="490.0"/><circle class="k20" cx="522.7" cy="455.0"/><circle class="k53" cx="510.3" cy="487.6"/><circle class="k18" cx="541.7" cy="483.7"/><circle class="k24" cx="607.1" cy="473.7"/><circle class="k12" cx="558.1" cy="480.0"/><circle class="k52" cx="482.9" cy="497.9"/><circle class="k40" cx="568.7" cy="481.2"/><circle class="k20" cx="520.0" cy="487.8"/><circle class="k4" cx="575.7" cy="477.7"/><circle class="k22" cx="522.8" cy="488.2"/><circle class="k21" cx="607.9" cy="468.8"/><circle class="k35" cx="541.1" cy="481.1"/><circle class="k18" cx="548.2" cy="486.9"/><circle class="k6" cx="570.3" cy="472.5"/><circle class="k45" cx="526.8" cy="482.0"/><circle class="k35" cx="530.8" cy="488.4"/><circle class="k22" cx="497.6" cy="499.3"/><circle class="k53" cx="484.2" cy="497.2"/><circle class="k22" cx="509.1" cy="485.6"/><circle class="k9" cx="539.2" cy="491.7"/><circle class="k41" cx="595.7" cy="470.6"/><circle class="k45" cx="526.2" cy="476.1"/><circle class="k35" cx="540.2" cy="484.3"/><circle class="k21" cx="609.4" cy="473.2"/><circle class="k0" cx="555.7" cy="487.8"/><circle class="k53" cx="493.3" cy="496.8"/><circle class="k22" cx="524.8" cy="475.1"/><circle class="k52" cx="515.4" cy="489.7"/><circle class="k20" cx="522.2" cy="491.4"/><circle class="k22" cx="519.8" cy="485.5"/><circle class="k30" cx="606.9" cy="468.9"/><circle class="k2" cx="556.0" cy="474.3"/><circle class="k24" cx="603.5" cy="468.1"/><circle class="k24" cx="592.3" cy="466.8"/><circle class="k22" cx="527.4" cy="488.8"/><circle class="k96" cx="497.7" cy="492.4"/><circle class="k22" cx="540.8" cy="476.4"/><circle class="k13" cx="501.7" cy="494.6"/><circle class="k6" cx="572.4" cy="475.8"/><circle class="k45" cx="504.2" cy="494.8"/><circle class="k45" cx="516.6" cy="488.6"/><circle class="k53" cx="492.5" cy="495.5"/><circle class="k0" cx="546.6" cy="477.9"/><circle class="k9" cx="540.0" cy="483.4"/><circle class="k22" cx="524.4" cy="482.9"/><circle class="k45" cx="492.9" cy="495.6"/><circle class="k22" cx="520.3" cy="491.8"/><circle class="k18" cx="552.8" cy="483.0"/><circle class="k9" cx="540.4" cy="486.8"/><circle class="k16" cx="588.4" cy="473.1"/><circle class="k35" cx="541.8" cy="485.3"/><circle class="k13" cx="504.8" cy="492.7"/><circle class="k53" cx="487.7" cy="494.3"/><circle class="k52" cx="499.9" cy="492.8"/><circle class="k20" cx="539.5" cy="414.0"/><circle class="k53" cx="486.0" cy="496.0"/><circle class="k53" cx="493.7" cy="493.4"/><circle class="k22" cx="516.0" cy="490.2"/><circle class="k52" cx="514.6" cy="494.6"/><circle class="k34" cx="613.3" cy="467.5"/><circle class="k2" cx="562.4" cy="477.8"/><circle class="k45" cx="493.4" cy="492.8"/><circle class="k45" cx="501.3" cy="487.9"/><circle class="k13" cx="530.8" cy="488.2"/><circle class="k52" cx="489.8" cy="494.5"/><circle class="k19" cx="579.5" cy="476.4"/><circle class="k22" cx="507.3" cy="492.6"/><circle class="k22" cx="510.7" cy="487.8"/><circle class="k20" cx="494.0" cy="494.5"/><circle class="k13" cx="504.6" cy="490.4"/><circle class="k6" cx="565.4" cy="480.9"/><circle class="k0" cx="547.1" cy="481.6"/><circle class="k8" cx="588.7" cy="476.1"/><circle class="k19" cx="579.0" cy="478.0"/><circle class="k20" cx="513.1" cy="488.6"/><circle class="k45" cx="495.7" cy="493.7"/><circle class="k45" cx="509.2" cy="495.2"/><circle class="k10" cx="567.6" cy="467.6"/><circle class="k45" cx="493.3" cy="486.7"/><circle class="k0" cx="549.1" cy="475.6"/><circle class="k24" cx="604.8" cy="462.3"/><circle class="k20" cx="491.0" cy="493.4"/><circle class="k22" cx="513.5" cy="493.1"/><circle class="k2" cx="556.2" cy="479.1"/><circle class="k24" cx="610.9" cy="471.1"/><circle class="k53" cx="486.2" cy="493.8"/><circle class="k13" cx="523.2" cy="490.3"/><circle class="k22" cx="529.3" cy="488.0"/><circle class="k53" cx="490.8" cy="498.5"/><circle class="k53" cx="491.3" cy="496.2"/><circle class="k22" cx="529.3" cy="490.1"/><circle class="k18" cx="552.1" cy="478.3"/><circle class="k44" cx="562.5" cy="477.7"/><circle class="k12" cx="545.6" cy="486.0"/><circle class="k20" cx="491.6" cy="492.4"/><circle class="k35" cx="512.2" cy="466.5"/><circle class="k9" cx="527.5" cy="371.2"/><circle class="k52" cx="494.8" cy="492.3"/><circle class="k20" cx="512.4" cy="488.6"/><circle class="k0" cx="542.3" cy="483.6"/><circle class="k28" cx="578.4" cy="474.9"/><circle class="k9" cx="508.1" cy="491.2"/><circle class="k13" cx="555.0" cy="461.2"/><circle class="k40" cx="575.4" cy="479.4"/><circle class="k0" cx="551.6" cy="485.1"/><circle class="k53" cx="515.2" cy="489.9"/><circle class="k20" cx="515.7" cy="497.0"/><circle class="k21" cx="597.6" cy="475.9"/><circle class="k105" cx="587.0" cy="480.3"/><circle class="k35" cx="531.2" cy="484.7"/><circle class="k12" cx="550.0" cy="487.5"/><circle class="k20" cx="494.8" cy="495.3"/><circle class="k9" cx="535.7" cy="473.7"/><circle class="k53" cx="500.2" cy="495.9"/><circle class="k52" cx="496.6" cy="491.1"/><circle class="k32" cx="587.4" cy="476.5"/><circle class="k53" cx="484.4" cy="501.9"/><circle class="k52" cx="485.4" cy="497.3"/><circle class="k45" cx="517.2" cy="487.9"/><circle class="k41" cx="591.7" cy="474.6"/><circle class="k13" cx="532.8" cy="487.8"/><circle class="k22" cx="526.8" cy="486.2"/><circle class="k13" cx="511.6" cy="486.0"/><circle class="k35" cx="537.5" cy="482.1"/><circle class="k45" cx="498.6" cy="495.6"/><circle class="k20" cx="529.7" cy="486.0"/><circle class="k105" cx="587.9" cy="476.8"/><circle class="k0" cx="538.1" cy="484.4"/><circle class="k20" cx="499.0" cy="494.7"/><circle class="k4" cx="575.4" cy="483.6"/><circle class="k45" cx="519.3" cy="490.9"/><circle class="k40" cx="570.3" cy="478.1"/><circle class="k45" cx="506.1" cy="496.4"/><circle class="k22" cx="514.5" cy="493.5"/><circle class="k13" cx="530.4" cy="485.9"/><circle class="k1" cx="575.4" cy="477.7"/><circle class="k4" cx="574.1" cy="470.2"/><circle class="k22" cx="520.4" cy="492.8"/><circle class="k0" cx="537.8" cy="484.8"/><circle class="k52" cx="487.9" cy="495.3"/><circle class="k52" cx="483.6" cy="493.5"/><circle class="k20" cx="516.4" cy="491.7"/><circle class="k52" cx="509.1" cy="491.8"/><circle class="k20" cx="494.1" cy="492.7"/><circle class="k35" cx="569.5" cy="465.7"/><circle class="k52" cx="494.4" cy="490.4"/><circle class="k18" cx="553.7" cy="481.0"/><circle class="k53" cx="489.2" cy="499.5"/><circle class="k2" cx="555.9" cy="480.1"/><circle class="k13" cx="526.6" cy="489.9"/><circle class="k22" cx="491.1" cy="498.8"/><circle class="k34" cx="605.3" cy="470.3"/><circle class="k22" cx="576.4" cy="373.4"/><circle class="k12" cx="552.0" cy="481.5"/><circle class="k0" cx="554.6" cy="486.4"/><circle class="k45" cx="512.5" cy="493.2"/><circle class="k20" cx="528.6" cy="491.2"/><circle class="k52" cx="488.3" cy="498.7"/><circle class="k2" cx="551.2" cy="476.8"/><circle class="k45" cx="510.4" cy="485.7"/><circle class="k13" cx="496.0" cy="487.5"/><circle class="k34" cx="613.9" cy="470.0"/><circle class="k96" cx="504.9" cy="493.2"/><circle class="k22" cx="514.8" cy="487.6"/><circle class="k35" cx="548.9" cy="483.7"/><circle class="k41" cx="596.8" cy="472.8"/><circle class="k52" cx="515.9" cy="491.7"/><circle class="k27" cx="585.1" cy="475.8"/><circle class="k20" cx="501.3" cy="494.5"/><circle class="k20" cx="517.9" cy="486.7"/><circle class="k28" cx="580.0" cy="476.1"/><circle class="k20" cx="515.5" cy="455.0"/><circle class="k20" cx="513.8" cy="489.7"/><circle class="k12" cx="549.7" cy="485.6"/><circle class="k45" cx="485.6" cy="495.4"/><circle class="k22" cx="527.4" cy="485.1"/><circle class="k49" cx="586.5" cy="475.6"/><circle class="k31" cx="569.4" cy="475.1"/><circle class="k0" cx="541.6" cy="475.7"/><circle class="k21" cx="603.0" cy="472.2"/><circle class="k9" cx="541.9" cy="485.9"/><circle class="k43" cx="591.9" cy="474.6"/><circle class="k45" cx="528.9" cy="488.4"/><circle class="k52" cx="500.5" cy="491.7"/><circle class="k6" cx="569.1" cy="475.4"/><circle class="k41" cx="593.7" cy="471.8"/><circle class="k45" cx="525.7" cy="492.1"/><circle class="k9" cx="542.3" cy="481.6"/><circle class="k53" cx="493.8" cy="499.7"/><circle class="k35" cx="523.8" cy="484.8"/><circle class="k35" cx="570.3" cy="436.3"/><circle class="k22" cx="528.4" cy="486.5"/><circle class="k53" cx="511.3" cy="492.1"/><circle class="k52" cx="498.9" cy="500.8"/><circle class="k24" cx="606.8" cy="473.0"/><circle class="k53" cx="497.8" cy="492.9"/><circle class="k19" cx="578.9" cy="479.8"/><circle class="k13" cx="502.5" cy="492.9"/><circle class="k49" cx="586.5" cy="469.9"/><circle class="k52" cx="490.5" cy="498.7"/><circle class="k45" cx="489.3" cy="497.7"/><circle class="k45" cx="507.2" cy="489.7"/><circle class="k31" cx="571.2" cy="469.9"/><circle class="k52" cx="501.2" cy="490.8"/><circle class="k53" cx="501.1" cy="492.8"/><circle class="k22" cx="503.6" cy="491.6"/><circle class="k20" cx="501.2" cy="495.0"/><circle class="k10" cx="556.4" cy="485.2"/><circle class="k9" cx="542.1" cy="476.8"/><circle class="k52" cx="522.4" cy="490.7"/><circle class="k32" cx="587.6" cy="477.7"/><circle class="k29" cx="582.3" cy="478.9"/><circle class="k13" cx="530.3" cy="487.1"/><circle class="k45" cx="512.4" cy="495.0"/><circle class="k22" cx="520.7" cy="488.3"/><circle class="k22" cx="495.4" cy="490.3"/><circle class="k45" cx="494.1" cy="494.3"/><circle class="k24" cx="610.9" cy="469.1"/><circle class="k41" cx="605.3" cy="473.8"/><circle class="k3" cx="561.2" cy="483.3"/><circle class="k20" cx="533.6" cy="487.9"/><circle class="k20" cx="493.7" cy="499.5"/><circle class="k21" cx="603.7" cy="490.0"/><circle class="k52" cx="506.3" cy="495.3"/><circle class="k52" cx="490.2" cy="493.5"/><circle class="k20" cx="497.2" cy="496.2"/><circle class="k10" cx="570.2" cy="482.5"/><circle class="k52" cx="504.2" cy="490.4"/><circle class="k22" cx="522.2" cy="487.5"/><circle class="k24" cx="610.4" cy="470.1"/><circle class="k2" cx="557.0" cy="480.5"/><circle class="k21" cx="594.3" cy="471.5"/><circle class="k52" cx="486.6" cy="494.2"/><circle class="k20" cx="519.2" cy="495.1"/><circle class="k53" cx="482.6" cy="494.7"/><circle class="k45" cx="518.5" cy="495.9"/><circle class="k52" cx="518.4" cy="491.3"/><circle class="k52" cx="521.8" cy="483.6"/><circle class="k9" cx="545.9" cy="486.7"/><circle class="k42" cx="584.4" cy="476.2"/><circle class="k6" cx="566.1" cy="478.7"/><circle class="k45" cx="501.9" cy="490.0"/><circle class="k96" cx="491.2" cy="492.3"/><circle class="k7" cx="574.8" cy="477.7"/><circle class="k22" cx="508.8" cy="371.2"/><circle class="k43" cx="591.1" cy="468.2"/><circle class="k13" cx="510.3" cy="495.5"/><circle class="k52" cx="519.1" cy="486.9"/><circle class="k52" cx="515.8" cy="494.8"/><circle class="k45" cx="510.7" cy="489.5"/><circle class="k53" cx="499.4" cy="495.7"/><circle class="k21" cx="605.5" cy="468.9"/><circle class="k31" cx="568.2" cy="472.9"/><circle class="k45" cx="493.6" cy="493.6"/><circle class="k53" cx="485.5" cy="500.2"/><circle class="k35" cx="532.3" cy="476.9"/><circle class="k13" cx="514.2" cy="490.5"/><circle class="k45" cx="494.2" cy="489.2"/><circle class="k28" cx="576.4" cy="475.5"/><circle class="k53" cx="484.2" cy="495.6"/><circle class="k19" cx="576.3" cy="474.5"/><circle class="k13" cx="532.4" cy="480.2"/><circle class="k13" cx="540.7" cy="481.9"/><circle class="k53" cx="499.2" cy="489.5"/><circle class="k45" cx="499.9" cy="494.9"/><circle class="k21" cx="618.6" cy="464.6"/><circle class="k21" cx="594.5" cy="475.9"/><circle class="k22" cx="506.5" cy="491.9"/><circle class="k52" cx="498.2" cy="488.0"/><circle class="k20" cx="498.4" cy="493.6"/><circle class="k53" cx="486.6" cy="495.0"/><circle class="k5" cx="585.0" cy="348.0"/><circle class="k53" cx="500.5" cy="491.7"/><circle class="k52" cx="487.1" cy="496.2"/><circle class="k45" cx="505.7" cy="491.2"/><circle class="k45" cx="519.1" cy="495.5"/><circle class="k3" cx="561.3" cy="475.4"/><circle class="k13" cx="507.0" cy="493.8"/><circle class="k13" cx="544.2" cy="483.1"/><circle class="k45" cx="514.8" cy="482.7"/><circle class="k45" cx="535.5" cy="480.4"/><circle class="k3" cx="556.4" cy="484.4"/><circle class="k52" cx="493.8" cy="496.6"/><circle class="k12" cx="550.0" cy="473.3"/><circle class="k53" cx="508.5" cy="493.1"/><circle class="k45" cx="489.2" cy="491.5"/><circle class="k1" cx="574.5" cy="478.6"/><circle class="k34" cx="606.3" cy="467.9"/><circle class="k9" cx="516.8" cy="464.4"/><circle class="k35" cx="536.0" cy="484.8"/><circle class="k96" cx="483.4" cy="496.9"/><circle class="k96" cx="493.9" cy="499.0"/><circle class="k18" cx="556.1" cy="477.2"/><circle class="k20" cx="491.2" cy="492.6"/><circle class="k53" cx="495.9" cy="493.7"/><circle class="k52" cx="486.9" cy="495.5"/><circle class="k13" cx="517.9" cy="493.4"/><circle class="k34" cx="605.7" cy="469.1"/><circle class="k52" cx="489.2" cy="498.6"/><circle class="k22" cx="506.8" cy="494.7"/><circle class="k35" cx="541.9" cy="486.8"/><circle class="k21" cx="600.5" cy="472.0"/><circle class="k22" cx="510.3" cy="491.9"/><circle class="k41" cx="610.6" cy="472.1"/><circle class="k34" cx="596.6" cy="474.6"/><circle class="k20" cx="490.9" cy="493.5"/><circle class="k53" cx="490.4" cy="497.1"/><circle class="k22" cx="493.8" cy="493.0"/><circle class="k41" cx="613.4" cy="470.2"/><circle class="k52" cx="484.9" cy="496.0"/><circle class="k52" cx="497.8" cy="491.1"/><circle class="k52" cx="518.4" cy="490.6"/><circle class="k35" cx="509.0" cy="503.0"/><circle class="k24" cx="618.0" cy="460.4"/><circle class="k2" cx="551.6" cy="474.9"/><circle class="k52" cx="482.7" cy="495.0"/><circle class="k0" cx="545.8" cy="487.6"/><circle class="k0" cx="538.1" cy="482.1"/><circle class="k45" cx="504.7" cy="490.2"/><circle class="k3" cx="562.7" cy="476.3"/><circle class="k25" cx="571.3" cy="474.7"/><circle class="k18" cx="552.6" cy="478.5"/><circle class="k52" cx="485.6" cy="495.9"/><circle class="k13" cx="508.1" cy="493.1"/><circle class="k96" cx="496.4" cy="494.0"/></g>
<path d="M528.57 305.60V538.40" stroke="#ad2a30" stroke-width="2.3" stroke-dasharray="6.5,2.6"/>
<path d="M393.70 480.52H619.20" stroke="#ad2a30" stroke-width="2.3" stroke-dasharray="6.5,2.6"/>
<polygon points="493.79,494.37 490.59,499.92 497.00,499.92" fill="#2a2a30" stroke="#e8a820" stroke-width="1.5" opacity="1.0"/>
<circle cx="497.67" cy="498.07" r="2.80" fill="#1a4a50" stroke="#e8a820" stroke-width="1.6" opacity="1.0"/>
<polygon points="502.44,481.09 499.15,486.79 505.73,486.79" fill="#c02030" stroke="#c0243c" stroke-width="1.5" opacity="1.0"/>
<circle cx="511.46" cy="484.05" r="2.80" fill="#1a2a50" stroke="#c0243c" stroke-width="1.8" opacity="1.0"/>
<rect x="393.70" y="305.60" width="225.50" height="232.80" fill="none" stroke="#222" stroke-width="0.85"/>
<path d="M393.70 538.40h-3.50M393.70 491.84h-3.50M393.70 445.28h-3.50M393.70 398.72h-3.50M393.70 352.16h-3.50M393.70 305.60h-3.50" stroke="#222" stroke-width="0.85"/>
<text x="386.70" y="542.70" text-anchor="end" font-family="'DejaVu Serif', 'Liberation Serif', serif" font-size="10.4">10<tspan font-size="7.3" dy="-3.8">−8</tspan></text>
<text x="386.70" y="496.14" text-anchor="end" font-family="'DejaVu Serif', 'Liberation Serif', serif" font-size="10.4">10<tspan font-size="7.3" dy="-3.8">−7</tspan></text>
<text x="386.70" y="449.58" text-anchor="end" font-family="'DejaVu Serif', 'Liberation Serif', serif" font-size="10.4">10<tspan font-size="7.3" dy="-3.8">−6</tspan></text>
<text x="386.70" y="403.02" text-anchor="end" font-family="'DejaVu Serif', 'Liberation Serif', serif" font-size="10.4">10<tspan font-size="7.3" dy="-3.8">−5</tspan></text>
<text x="386.70" y="356.46" text-anchor="end" font-family="'DejaVu Serif', 'Liberation Serif', serif" font-size="10.4">10<tspan font-size="7.3" dy="-3.8">−4</tspan></text>
<text x="386.70" y="309.90" text-anchor="end" font-family="'DejaVu Serif', 'Liberation Serif', serif" font-size="10.4">10<tspan font-size="7.3" dy="-3.8">−3</tspan></text>
<path d="M393.70 524.38h-2.00M393.70 516.19h-2.00M393.70 510.37h-2.00M393.70 505.86h-2.00M393.70 502.17h-2.00M393.70 499.05h-2.00M393.70 496.35h-2.00M393.70 493.97h-2.00M393.70 477.82h-2.00M393.70 469.63h-2.00M393.70 463.81h-2.00M393.70 459.30h-2.00M393.70 455.61h-2.00M393.70 452.49h-2.00M393.70 449.79h-2.00M393.70 447.41h-2.00M393.70 431.26h-2.00M393.70 423.07h-2.00M393.70 417.25h-2.00M393.70 412.74h-2.00M393.70 409.05h-2.00M393.70 405.93h-2.00M393.70 403.23h-2.00M393.70 400.85h-2.00M393.70 384.70h-2.00M393.70 376.51h-2.00M393.70 370.69h-2.00M393.70 366.18h-2.00M393.70 362.49h-2.00M393.70 359.37h-2.00M393.70 356.67h-2.00M393.70 354.29h-2.00M393.70 338.14h-2.00M393.70 329.95h-2.00M393.70 324.13h-2.00M393.70 319.62h-2.00M393.70 315.93h-2.00M393.70 312.81h-2.00M393.70 310.11h-2.00M393.70 307.73h-2.00" stroke="#222" stroke-width="0.85"/>
<path d="M445.88 538.40v3.50M619.20 538.40v3.50" stroke="#222" stroke-width="0.85"/>
<text x="445.88" y="552.50" text-anchor="middle" font-family="'DejaVu Serif', 'Liberation Serif', serif" font-size="10.4">10<tspan font-size="7.3" dy="-3.8">−1</tspan></text>
<text x="619.20" y="552.50" text-anchor="middle" font-family="'DejaVu Serif', 'Liberation Serif', serif" font-size="10.4">10<tspan font-size="7.3" dy="-3.8">0</tspan></text>
<path d="M393.70 538.40v2.00M407.42 538.40v2.00M419.03 538.40v2.00M429.08 538.40v2.00M437.94 538.40v2.00M498.05 538.40v2.00M528.57 538.40v2.00M550.23 538.40v2.00M567.02 538.40v2.00M580.75 538.40v2.00M592.35 538.40v2.00M602.40 538.40v2.00M611.27 538.40v2.00" stroke="#222" stroke-width="0.85"/>
<rect x="398.00" y="310.40" width="101.50" height="63.60" rx="2" fill="#fff" fill-opacity="0.9" stroke="#d0d0d0" stroke-width="0.8"/>
<polygon points="409.90,314.70 407.22,319.35 412.58,319.35" fill="#5a4a10" stroke="#e8a820" stroke-width="1.0" opacity="1.0"/>
<text x="425.1" y="320" font-size="8.4" text-anchor="start" font-family="'DejaVu Serif', 'Liberation Serif', serif" fill="#000">CALF-20 (exp)</text>
<circle cx="409.90" cy="329.80" r="2.30" fill="#1a3a3a" stroke="#e8a820" stroke-width="1.0" opacity="1.0"/>
<text x="425.1" y="331.8" font-size="8.4" text-anchor="start" font-family="'DejaVu Serif', 'Liberation Serif', serif" fill="#000">CALF-20 (sim)</text>
<polygon points="409.90,338.80 407.22,343.45 412.58,343.45" fill="#8a1a3a" stroke="#c0243c" stroke-width="1.0" opacity="1.0"/>
<text x="425.1" y="344.1" font-size="8.4" text-anchor="start" font-family="'DejaVu Serif', 'Liberation Serif', serif" fill="#000">MIP-212 (exp)</text>
<circle cx="409.90" cy="354.50" r="2.30" fill="#3a2a4a" stroke="#c0243c" stroke-width="1.0" opacity="1.0"/>
<text x="425.1" y="356.5" font-size="8.4" text-anchor="start" font-family="'DejaVu Serif', 'Liberation Serif', serif" fill="#000">MIP-212 (sim)</text>
<path d="M402.40 366.40h15" stroke="#ad2a30" stroke-width="1.6" stroke-dasharray="5.5,2.4"/>
<text x="425.1" y="368.4" font-size="8.4" text-anchor="start" font-family="'DejaVu Serif', 'Liberation Serif', serif" fill="#000">MEA benchmark</text>
<defs><linearGradient id="cbd" x1="0" y1="0" x2="0" y2="1"><stop offset="0.00" stop-color="#f4c9ea"/><stop offset="0.05" stop-color="#f6c2d6"/><stop offset="0.10" stop-color="#f7bbc2"/><stop offset="0.15" stop-color="#f6b1a8"/><stop offset="0.20" stop-color="#f3a78d"/><stop offset="0.25" stop-color="#e8a074"/><stop offset="0.30" stop-color="#d7985c"/><stop offset="0.35" stop-color="#c59348"/><stop offset="0.40" stop-color="#ae8d3e"/><stop offset="0.45" stop-color="#988835"/><stop offset="0.50" stop-color="#81813b"/><stop offset="0.55" stop-color="#6b7b42"/><stop offset="0.60" stop-color="#58744b"/><stop offset="0.65" stop-color="#466d53"/><stop offset="0.70" stop-color="#36655a"/><stop offset="0.75" stop-color="#285d5d"/><stop offset="0.80" stop-color="#1e535f"/><stop offset="0.85" stop-color="#18475d"/><stop offset="0.90" stop-color="#123a5a"/><stop offset="0.95" stop-color="#0b2a57"/><stop offset="1.00" stop-color="#031953"/></linearGradient></defs>
<rect x="633.50" y="305.60" width="11.20" height="232.80" fill="url(#cbd)" stroke="#222" stroke-width="0.85"/>
<text x="650.7" y="308.6" font-size="8.2" text-anchor="start" font-family="'DejaVu Serif', 'Liberation Serif', serif" fill="#000">500</text>
<text x="650.7" y="331.2" font-size="8.2" text-anchor="start" font-family="'DejaVu Serif', 'Liberation Serif', serif" fill="#000">400</text>
<text x="650.7" y="360.2" font-size="8.2" text-anchor="start" font-family="'DejaVu Serif', 'Liberation Serif', serif" fill="#000">300</text>
<text x="650.7" y="401.2" font-size="8.2" text-anchor="start" font-family="'DejaVu Serif', 'Liberation Serif', serif" fill="#000">200</text>
<text x="650.7" y="471.3" font-size="8.2" text-anchor="start" font-family="'DejaVu Serif', 'Liberation Serif', serif" fill="#000">100</text>
<text x="650.7" y="523" font-size="8.2" text-anchor="start" font-family="'DejaVu Serif', 'Liberation Serif', serif" fill="#000">60</text>
<text x="650.7" y="541.4" font-size="8.2" text-anchor="start" font-family="'DejaVu Serif', 'Liberation Serif', serif" fill="#000">50</text>
<path d="M644.70 305.60h3M644.70 328.16h3M644.70 357.25h3M644.70 398.24h3M644.70 468.32h3M644.70 519.97h3M644.70 538.40h3" stroke="#222" stroke-width="0.85"/>
<path d="M644.7 504.38h2M644.7 490.88h2M644.7 478.97h2" stroke="#222" stroke-width="0.85"/>
<text x="0" y="0" text-anchor="middle" fill="#000" transform="translate(354.6,421.9) rotate(-90)"><tspan font-family="'DejaVu Serif', 'Liberation Serif', serif" font-size="11.00">MR:MM in </tspan><tspan font-family="'DejaVu Sans', 'Liberation Sans', sans-serif" font-size="11.00">kg</tspan><tspan font-family="'DejaVu Sans', 'Liberation Sans', sans-serif" font-size="7.70" dy="2.42">Sb−eq</tspan><tspan font-family="'DejaVu Sans', 'Liberation Sans', sans-serif" font-size="11.00" dy="-2.42">/kg</tspan><tspan font-family="'DejaVu Sans', 'Liberation Sans', sans-serif" font-size="7.70" dy="2.42">CO</tspan><tspan font-family="'DejaVu Sans', 'Liberation Sans', sans-serif" font-size="5.39" dy="1.54">2</tspan><tspan font-family="'DejaVu Sans', 'Liberation Sans', sans-serif" font-size="7.70" dy="-1.54">−captured</tspan></text>
<text x="506.4" y="567.5" text-anchor="middle" fill="#000"><tspan font-family="'DejaVu Serif', 'Liberation Serif', serif" font-size="11.00">Climate Change in </tspan><tspan font-family="'DejaVu Sans', 'Liberation Sans', sans-serif" font-size="11.00">kg</tspan><tspan font-family="'DejaVu Sans', 'Liberation Sans', sans-serif" font-size="7.70" dy="2.42">CO</tspan><tspan font-family="'DejaVu Sans', 'Liberation Sans', sans-serif" font-size="5.39" dy="1.54">2</tspan><tspan font-family="'DejaVu Sans', 'Liberation Sans', sans-serif" font-size="7.70" dy="-1.54">−eq</tspan><tspan font-family="'DejaVu Sans', 'Liberation Sans', sans-serif" font-size="11.00" dy="-2.42">/kg</tspan><tspan font-family="'DejaVu Sans', 'Liberation Sans', sans-serif" font-size="7.70" dy="2.42">CO</tspan><tspan font-family="'DejaVu Sans', 'Liberation Sans', sans-serif" font-size="5.39" dy="1.54">2</tspan><tspan font-family="'DejaVu Sans', 'Liberation Sans', sans-serif" font-size="7.70" dy="-1.54">−captured</tspan></text>
<text x="0" y="0" text-anchor="middle" fill="#000" transform="translate(679.1,422) rotate(-90)"><tspan font-family="'DejaVu Serif', 'Liberation Serif', serif" font-size="11.00">Net carbon avoidance cost nCAC in </tspan><tspan font-family="'DejaVu Sans', 'Liberation Sans', sans-serif" font-size="11.00">€/t</tspan><tspan font-family="'DejaVu Sans', 'Liberation Sans', sans-serif" font-size="7.70" dy="2.42">CO</tspan><tspan font-family="'DejaVu Sans', 'Liberation Sans', sans-serif" font-size="5.39" dy="1.54">2</tspan></text>
<text x="514.2" y="595.7" font-size="17" text-anchor="middle" font-family="'DejaVu Sans', 'Liberation Sans', sans-serif" fill="#000">(d)</text></svg></body></html>
